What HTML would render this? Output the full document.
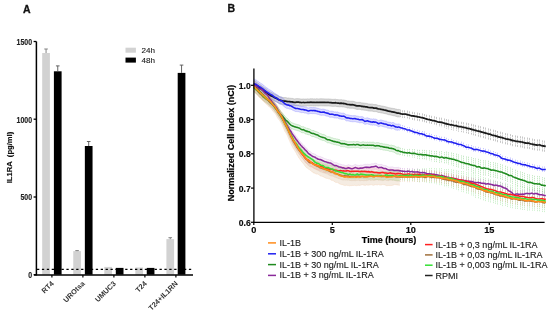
<!DOCTYPE html>
<html><head><meta charset="utf-8"><style>
html,body{margin:0;padding:0;background:#fff;}
svg{display:block;will-change:transform;}
text{font-family:"Liberation Sans",sans-serif;}
.tk{font-size:7.8px;font-weight:bold;fill:#222;stroke:#222;stroke-width:0.12px;}
.tkb{font-size:8.6px;font-weight:bold;fill:#0a0a0a;stroke:#0a0a0a;stroke-width:0.15px;}
.tkx{font-size:9.2px;font-weight:bold;fill:#0a0a0a;stroke:#0a0a0a;stroke-width:0.15px;}
.xl{font-size:7.3px;font-weight:bold;fill:#333;}
.lg{font-size:9px;fill:#1a1a1a;stroke:#1a1a1a;stroke-width:0.12px;}
.lga{font-size:8.1px;fill:#1a1a1a;stroke:#1a1a1a;stroke-width:0.12px;}
.ttl{font-size:10.5px;font-weight:bold;fill:#111;stroke:#111;stroke-width:0.3px;}
.ax{font-size:7.6px;font-weight:bold;fill:#111;stroke:#111;stroke-width:0.15px;}
.axb{font-size:9px;font-weight:bold;fill:#000;stroke:#000;stroke-width:0.2px;}
</style></head><body>
<svg width="550" height="314" viewBox="0 0 550 314">
<rect width="550" height="314" fill="#fff"/>
<text x="23" y="12.7" class="ttl">A</text>
<text x="227.5" y="12" class="ttl">B</text>
<rect x="42.20" y="53.0" width="7.7" height="221.7" fill="#d2d2d2"/><path d="M46.05,49.0V53.0M44.25,49.0H47.85" stroke="#777" stroke-width="0.9"/><rect x="53.90" y="71.3" width="7.7" height="203.4" fill="#000"/><path d="M57.75,65.9V71.3M55.95,65.9H59.55" stroke="#555" stroke-width="0.9"/><rect x="73.25" y="251.1" width="7.7" height="23.6" fill="#d2d2d2"/><path d="M77.10,250.6V251.1M75.30,250.6H78.90" stroke="#777" stroke-width="0.9"/><rect x="84.85" y="146.0" width="7.7" height="128.7" fill="#000"/><path d="M88.70,141.5V146.0M86.90,141.5H90.50" stroke="#555" stroke-width="0.9"/><rect x="104.30" y="266.9" width="7.7" height="7.8" fill="#d2d2d2"/><rect x="115.80" y="267.9" width="7.7" height="6.8" fill="#000"/><rect x="135.35" y="267.5" width="7.7" height="7.2" fill="#d2d2d2"/><rect x="146.75" y="267.9" width="7.7" height="6.8" fill="#000"/><rect x="166.40" y="239.1" width="7.7" height="35.6" fill="#d2d2d2"/><path d="M170.25,237.7V239.1M168.45,237.7H172.05" stroke="#777" stroke-width="0.9"/><rect x="177.70" y="72.9" width="7.7" height="201.8" fill="#000"/><path d="M181.55,65.1V72.9M179.75,65.1H183.35" stroke="#555" stroke-width="0.9"/>
<path d="M37,269.3H193" stroke="#000" stroke-width="1.3" stroke-dasharray="2.3,2.6"/>
<path d="M36.4,41.5V275.4" stroke="#000" stroke-width="1.5"/>
<path d="M34,275H193" stroke="#000" stroke-width="1.6"/>
<path d="M33.6,274.7H36.4" stroke="#000" stroke-width="1.3"/><text transform="translate(32.1,278.0) scale(0.9,1.05)" text-anchor="end" class="tk">0</text><path d="M33.6,197.0H36.4" stroke="#000" stroke-width="1.3"/><text transform="translate(32.1,200.3) scale(0.9,1.05)" text-anchor="end" class="tk">500</text><path d="M33.6,119.2H36.4" stroke="#000" stroke-width="1.3"/><text transform="translate(32.1,122.5) scale(0.9,1.05)" text-anchor="end" class="tk">1000</text><path d="M33.6,41.5H36.4" stroke="#000" stroke-width="1.3"/><text transform="translate(32.1,44.8) scale(0.9,1.05)" text-anchor="end" class="tk">1500</text><path d="M51.90,275V277.4" stroke="#000" stroke-width="1.2"/><path d="M82.90,275V277.4" stroke="#000" stroke-width="1.2"/><path d="M113.90,275V277.4" stroke="#000" stroke-width="1.2"/><path d="M144.90,275V277.4" stroke="#000" stroke-width="1.2"/><path d="M175.90,275V277.4" stroke="#000" stroke-width="1.2"/><text transform="translate(50.400000000000006,280.2) rotate(-45)" text-anchor="end" class="xl" x="0" y="5.5">RT4</text><text transform="translate(81.4,280.2) rotate(-45)" text-anchor="end" class="xl" x="0" y="5.5">UROtsa</text><text transform="translate(112.4,280.2) rotate(-45)" text-anchor="end" class="xl" x="0" y="5.5">UMUC3</text><text transform="translate(143.4,280.2) rotate(-45)" text-anchor="end" class="xl" x="0" y="5.5">T24</text><text transform="translate(174.39999999999998,280.2) rotate(-45)" text-anchor="end" class="xl" x="0" y="5.5">T24+IL1RN</text>
<text transform="translate(11.5,183.3) rotate(-90)" class="ax">IL1RA&#160;&#160;(pg/ml)</text>
<rect x="125.5" y="47.7" width="10.4" height="5" fill="#d2d2d2"/>
<rect x="125.5" y="57.6" width="10.4" height="5" fill="#000"/>
<text x="141.4" y="52.9" class="lga">24h</text>
<text x="141.4" y="62.7" class="lga">48h</text>
<path d="M253.8,80.1 L254.3,80.5 L254.8,80.9 L255.3,81.2 L255.8,81.5 L256.3,81.9 L256.8,82.2 L257.3,82.5 L257.8,83.0 L258.3,83.5 L258.8,83.8 L259.3,84.2 L259.8,84.6 L260.3,84.8 L260.8,85.2 L261.3,85.6 L261.8,85.9 L262.3,86.3 L262.8,86.7 L263.3,87.0 L263.8,87.3 L264.3,87.7 L264.8,88.0 L265.3,88.2 L265.8,88.7 L266.3,89.0 L266.8,89.4 L267.3,89.8 L267.8,90.3 L268.3,90.7 L268.8,91.0 L269.3,91.3 L269.8,91.5 L270.3,91.9 L270.8,92.2 L271.3,92.4 L271.8,92.6 L272.3,92.8 L272.8,93.1 L273.3,93.3 L273.8,93.7 L274.3,93.9 L274.8,94.2 L275.3,94.4 L275.8,94.6 L276.3,94.8 L276.8,95.1 L277.3,95.4 L277.8,95.6 L278.3,96.0 L278.8,96.2 L279.3,96.5 L279.8,96.7 L280.3,96.7 L280.8,96.9 L281.3,97.1 L281.8,97.2 L282.3,97.3 L282.8,97.5 L283.3,97.5 L283.8,97.5 L284.3,97.6 L284.8,97.6 L285.3,97.5 L285.8,97.7 L286.3,97.8 L286.8,97.8 L287.3,98.0 L287.8,98.1 L288.3,98.0 L288.8,98.0 L289.3,98.2 L289.8,98.2 L290.3,98.2 L290.8,98.4 L291.3,98.4 L291.8,98.4 L292.3,98.4 L292.8,98.6 L293.3,98.7 L293.8,98.8 L294.3,98.9 L294.8,99.0 L295.3,98.8 L295.8,98.8 L296.3,98.7 L296.8,98.6 L297.3,98.6 L297.8,98.7 L298.3,98.7 L298.8,98.7 L299.3,98.8 L299.8,98.8 L300.3,98.9 L300.8,99.0 L301.3,99.1 L301.8,99.0 L302.3,99.0 L302.8,99.0 L303.3,98.9 L303.8,99.0 L304.3,99.0 L304.8,99.1 L305.3,99.0 L305.8,99.0 L306.3,99.0 L306.8,99.0 L307.3,98.8 L307.8,98.9 L308.3,99.0 L308.8,98.9 L309.3,98.9 L309.8,98.9 L310.3,98.8 L310.8,98.7 L311.3,98.7 L311.8,98.9 L312.3,98.8 L312.8,98.8 L313.3,98.9 L313.8,98.9 L314.3,98.8 L314.8,99.0 L315.3,99.0 L315.8,98.9 L316.3,98.8 L316.8,98.8 L317.3,98.9 L317.8,98.8 L318.3,98.9 L318.8,99.0 L319.3,98.9 L319.8,98.8 L320.3,98.8 L320.8,98.8 L321.3,98.8 L321.8,98.8 L322.3,98.8 L322.8,98.9 L323.3,98.8 L323.8,98.9 L324.3,98.9 L324.8,98.9 L325.3,98.9 L325.8,99.0 L326.3,99.0 L326.8,98.9 L327.3,98.9 L327.8,99.0 L328.3,98.9 L328.8,99.0 L329.3,99.0 L329.8,99.1 L330.3,99.1 L330.8,99.2 L331.3,99.2 L331.8,99.3 L332.3,99.3 L332.8,99.4 L333.3,99.3 L333.8,99.4 L334.3,99.3 L334.8,99.3 L335.3,99.2 L335.8,99.3 L336.3,99.5 L336.8,99.5 L337.3,99.5 L337.8,99.7 L338.3,99.7 L338.8,99.7 L339.3,99.8 L339.8,99.8 L340.3,99.7 L340.8,99.8 L341.3,99.7 L341.8,99.8 L342.3,99.9 L342.8,100.0 L343.3,99.9 L343.8,100.1 L344.3,100.2 L344.8,100.1 L345.3,100.3 L345.8,100.5 L346.3,100.6 L346.8,100.7 L347.3,101.0 L347.8,101.0 L348.3,101.0 L348.8,101.0 L349.3,101.2 L349.8,101.2 L350.3,101.2 L350.8,101.3 L351.3,101.3 L351.8,101.2 L352.3,101.2 L352.8,101.3 L353.3,101.3 L353.8,101.5 L354.3,101.6 L354.8,101.8 L355.3,101.9 L355.8,102.1 L356.3,102.2 L356.8,102.4 L357.3,102.4 L357.8,102.4 L358.3,102.4 L358.8,102.3 L359.3,102.3 L359.8,102.4 L360.3,102.5 L360.8,102.5 L361.3,102.8 L361.8,102.9 L362.3,102.9 L362.8,102.9 L363.3,103.1 L363.8,103.0 L364.3,103.2 L364.8,103.2 L365.3,103.3 L365.8,103.3 L366.3,103.4 L366.8,103.4 L367.3,103.6 L367.8,103.8 L368.3,103.9 L368.8,104.0 L369.3,104.0 L369.8,104.1 L370.3,104.1 L370.8,104.1 L371.3,104.0 L371.8,104.2 L372.3,104.2 L372.8,104.2 L373.3,104.4 L373.8,104.6 L374.3,104.6 L374.8,104.6 L375.3,104.6 L375.8,104.6 L376.3,104.6 L376.8,104.9 L377.3,105.1 L377.8,105.2 L378.3,105.4 L378.8,105.5 L379.3,105.5 L379.8,105.5 L380.3,105.7 L380.8,105.8 L381.3,105.9 L381.8,106.0 L382.3,106.1 L382.8,106.1 L383.3,106.2 L383.8,106.4 L384.3,106.5 L384.8,106.6 L385.3,106.7 L385.8,106.8 L386.3,106.9 L386.8,107.1 L387.3,107.2 L387.8,107.5 L388.3,107.6 L388.8,107.7 L389.3,107.7 L389.8,107.9 L390.3,107.9 L390.8,108.0 L391.3,108.1 L391.8,108.3 L392.3,108.3 L392.8,108.4 L393.3,108.5 L393.8,108.5 L394.3,108.6 L394.8,108.7 L395.3,108.9 L395.8,109.0 L396.3,109.1 L396.8,109.3 L397.3,109.5 L397.8,109.4 L398.3,109.4 L398.8,109.5 L399.3,109.5 L399.8,109.6 L399.8,117.1 L399.3,117.0 L398.8,116.9 L398.3,116.8 L397.8,116.8 L397.3,116.8 L396.8,116.6 L396.3,116.4 L395.8,116.3 L395.3,116.1 L394.8,115.9 L394.3,115.8 L393.8,115.7 L393.3,115.7 L392.8,115.5 L392.3,115.4 L391.8,115.3 L391.3,115.2 L390.8,115.0 L390.3,115.0 L389.8,114.9 L389.3,114.7 L388.8,114.7 L388.3,114.6 L387.8,114.5 L387.3,114.2 L386.8,114.1 L386.3,113.9 L385.8,113.8 L385.3,113.7 L384.8,113.6 L384.3,113.5 L383.8,113.4 L383.3,113.2 L382.8,113.1 L382.3,113.1 L381.8,113.0 L381.3,112.9 L380.8,112.8 L380.3,112.7 L379.8,112.5 L379.3,112.5 L378.8,112.5 L378.3,112.4 L377.8,112.2 L377.3,112.1 L376.8,111.9 L376.3,111.6 L375.8,111.6 L375.3,111.6 L374.8,111.6 L374.3,111.6 L373.8,111.6 L373.3,111.4 L372.8,111.2 L372.3,111.2 L371.8,111.2 L371.3,111.0 L370.8,111.1 L370.3,111.1 L369.8,111.1 L369.3,111.0 L368.8,111.0 L368.3,110.9 L367.8,110.8 L367.3,110.6 L366.8,110.4 L366.3,110.4 L365.8,110.3 L365.3,110.3 L364.8,110.2 L364.3,110.2 L363.8,110.0 L363.3,110.1 L362.8,109.9 L362.3,109.9 L361.8,109.9 L361.3,109.8 L360.8,109.5 L360.3,109.5 L359.8,109.4 L359.3,109.3 L358.8,109.3 L358.3,109.4 L357.8,109.4 L357.3,109.4 L356.8,109.4 L356.3,109.2 L355.8,109.1 L355.3,108.9 L354.8,108.8 L354.3,108.6 L353.8,108.5 L353.3,108.3 L352.8,108.3 L352.3,108.2 L351.8,108.2 L351.3,108.3 L350.8,108.3 L350.3,108.2 L349.8,108.2 L349.3,108.2 L348.8,108.0 L348.3,108.0 L347.8,108.0 L347.3,108.0 L346.8,107.7 L346.3,107.6 L345.8,107.5 L345.3,107.3 L344.8,107.1 L344.3,107.2 L343.8,107.1 L343.3,106.9 L342.8,107.0 L342.3,106.9 L341.8,106.8 L341.3,106.7 L340.8,106.8 L340.3,106.7 L339.8,106.8 L339.3,106.8 L338.8,106.7 L338.3,106.7 L337.8,106.7 L337.3,106.5 L336.8,106.5 L336.3,106.5 L335.8,106.3 L335.3,106.2 L334.8,106.3 L334.3,106.3 L333.8,106.4 L333.3,106.3 L332.8,106.4 L332.3,106.3 L331.8,106.3 L331.3,106.2 L330.8,106.2 L330.3,106.1 L329.8,106.1 L329.3,106.0 L328.8,106.0 L328.3,105.9 L327.8,106.0 L327.3,105.9 L326.8,105.9 L326.3,106.0 L325.8,106.0 L325.3,105.9 L324.8,105.9 L324.3,105.9 L323.8,105.9 L323.3,105.8 L322.8,105.9 L322.3,105.8 L321.8,105.8 L321.3,105.8 L320.8,105.8 L320.3,105.8 L319.8,105.8 L319.3,105.9 L318.8,106.0 L318.3,105.9 L317.8,105.8 L317.3,105.9 L316.8,105.8 L316.3,105.8 L315.8,105.9 L315.3,106.0 L314.8,106.0 L314.3,105.8 L313.8,105.9 L313.3,105.9 L312.8,105.8 L312.3,105.8 L311.8,105.9 L311.3,105.7 L310.8,105.7 L310.3,105.8 L309.8,105.9 L309.3,105.9 L308.8,105.9 L308.3,106.0 L307.8,105.9 L307.3,105.8 L306.8,106.0 L306.3,106.0 L305.8,106.0 L305.3,106.0 L304.8,106.1 L304.3,106.0 L303.8,106.0 L303.3,105.9 L302.8,106.0 L302.3,106.0 L301.8,106.0 L301.3,106.1 L300.8,106.0 L300.3,105.9 L299.8,105.8 L299.3,105.8 L298.8,105.7 L298.3,105.7 L297.8,105.7 L297.3,105.6 L296.8,105.6 L296.3,105.7 L295.8,105.8 L295.3,105.8 L294.8,106.0 L294.3,105.9 L293.8,105.8 L293.3,105.7 L292.8,105.6 L292.3,105.4 L291.8,105.4 L291.3,105.4 L290.8,105.4 L290.3,105.2 L289.8,105.2 L289.3,105.2 L288.8,105.0 L288.3,105.0 L287.8,105.1 L287.3,105.0 L286.8,104.8 L286.3,104.8 L285.8,104.7 L285.3,104.5 L284.8,104.6 L284.3,104.6 L283.8,104.5 L283.3,104.5 L282.8,104.5 L282.3,104.3 L281.8,104.2 L281.3,104.1 L280.8,103.9 L280.3,103.7 L279.8,103.7 L279.3,103.5 L278.8,103.2 L278.3,103.0 L277.8,102.6 L277.3,102.4 L276.8,102.1 L276.3,101.8 L275.8,101.6 L275.3,101.4 L274.8,101.2 L274.3,100.9 L273.8,100.7 L273.3,100.3 L272.8,100.1 L272.3,99.8 L271.8,99.6 L271.3,99.4 L270.8,99.2 L270.3,98.9 L269.8,98.5 L269.3,98.3 L268.8,98.0 L268.3,97.7 L267.8,97.3 L267.3,96.8 L266.8,96.4 L266.3,96.0 L265.8,95.7 L265.3,95.2 L264.8,95.0 L264.3,94.7 L263.8,94.3 L263.3,94.0 L262.8,93.7 L262.3,93.3 L261.8,92.9 L261.3,92.6 L260.8,92.2 L260.3,91.8 L259.8,91.6 L259.3,91.2 L258.8,90.8 L258.3,90.5 L257.8,90.0 L257.3,89.5 L256.8,89.2 L256.3,88.9 L255.8,88.5 L255.3,88.2 L254.8,87.9 L254.3,87.5 L253.8,87.1Z" fill="rgba(150,150,150,0.35)" stroke="none"/><path d="M253.8,80.1 L254.3,80.5 L254.8,80.9 L255.3,81.2 L255.8,81.5 L256.3,81.9 L256.8,82.2 L257.3,82.5 L257.8,83.0 L258.3,83.5 L258.8,83.8 L259.3,84.2 L259.8,84.6 L260.3,84.8 L260.8,85.2 L261.3,85.6 L261.8,85.9 L262.3,86.3 L262.8,86.7 L263.3,87.0 L263.8,87.3 L264.3,87.7 L264.8,88.0 L265.3,88.2 L265.8,88.7 L266.3,89.0 L266.8,89.4 L267.3,89.8 L267.8,90.3 L268.3,90.7 L268.8,91.0 L269.3,91.3 L269.8,91.5 L270.3,91.9 L270.8,92.2 L271.3,92.4 L271.8,92.6 L272.3,92.8 L272.8,93.1 L273.3,93.3 L273.8,93.7 L274.3,93.9 L274.8,94.2 L275.3,94.4 L275.8,94.6 L276.3,94.8 L276.8,95.1 L277.3,95.4 L277.8,95.6 L278.3,96.0 L278.8,96.2 L279.3,96.5 L279.8,96.7 L280.3,96.7 L280.8,96.9 L281.3,97.1 L281.8,97.2 L282.3,97.3 L282.8,97.5 L283.3,97.5 L283.8,97.5 L284.3,97.6 L284.8,97.6 L285.3,97.5 L285.8,97.7 L286.3,97.8 L286.8,97.8 L287.3,98.0 L287.8,98.1 L288.3,98.0 L288.8,98.0 L289.3,98.2 L289.8,98.2 L290.3,98.2 L290.8,98.4 L291.3,98.4 L291.8,98.4 L292.3,98.4 L292.8,98.6 L293.3,98.7 L293.8,98.8 L294.3,98.9 L294.8,99.0 L295.3,98.8 L295.8,98.8 L296.3,98.7 L296.8,98.6 L297.3,98.6 L297.8,98.7 L298.3,98.7 L298.8,98.7 L299.3,98.8 L299.8,98.8 L300.3,98.9 L300.8,99.0 L301.3,99.1 L301.8,99.0 L302.3,99.0 L302.8,99.0 L303.3,98.9 L303.8,99.0 L304.3,99.0 L304.8,99.1 L305.3,99.0 L305.8,99.0 L306.3,99.0 L306.8,99.0 L307.3,98.8 L307.8,98.9 L308.3,99.0 L308.8,98.9 L309.3,98.9 L309.8,98.9 L310.3,98.8 L310.8,98.7 L311.3,98.7 L311.8,98.9 L312.3,98.8 L312.8,98.8 L313.3,98.9 L313.8,98.9 L314.3,98.8 L314.8,99.0 L315.3,99.0 L315.8,98.9 L316.3,98.8 L316.8,98.8 L317.3,98.9 L317.8,98.8 L318.3,98.9 L318.8,99.0 L319.3,98.9 L319.8,98.8 L320.3,98.8 L320.8,98.8 L321.3,98.8 L321.8,98.8 L322.3,98.8 L322.8,98.9 L323.3,98.8 L323.8,98.9 L324.3,98.9 L324.8,98.9 L325.3,98.9 L325.8,99.0 L326.3,99.0 L326.8,98.9 L327.3,98.9 L327.8,99.0 L328.3,98.9 L328.8,99.0 L329.3,99.0 L329.8,99.1 L330.3,99.1 L330.8,99.2 L331.3,99.2 L331.8,99.3 L332.3,99.3 L332.8,99.4 L333.3,99.3 L333.8,99.4 L334.3,99.3 L334.8,99.3 L335.3,99.2 L335.8,99.3 L336.3,99.5 L336.8,99.5 L337.3,99.5 L337.8,99.7 L338.3,99.7 L338.8,99.7 L339.3,99.8 L339.8,99.8 L340.3,99.7 L340.8,99.8 L341.3,99.7 L341.8,99.8 L342.3,99.9 L342.8,100.0 L343.3,99.9 L343.8,100.1 L344.3,100.2 L344.8,100.1 L345.3,100.3 L345.8,100.5 L346.3,100.6 L346.8,100.7 L347.3,101.0 L347.8,101.0 L348.3,101.0 L348.8,101.0 L349.3,101.2 L349.8,101.2 L350.3,101.2 L350.8,101.3 L351.3,101.3 L351.8,101.2 L352.3,101.2 L352.8,101.3 L353.3,101.3 L353.8,101.5 L354.3,101.6 L354.8,101.8 L355.3,101.9 L355.8,102.1 L356.3,102.2 L356.8,102.4 L357.3,102.4 L357.8,102.4 L358.3,102.4 L358.8,102.3 L359.3,102.3 L359.8,102.4 L360.3,102.5 L360.8,102.5 L361.3,102.8 L361.8,102.9 L362.3,102.9 L362.8,102.9 L363.3,103.1 L363.8,103.0 L364.3,103.2 L364.8,103.2 L365.3,103.3 L365.8,103.3 L366.3,103.4 L366.8,103.4 L367.3,103.6 L367.8,103.8 L368.3,103.9 L368.8,104.0 L369.3,104.0 L369.8,104.1 L370.3,104.1 L370.8,104.1 L371.3,104.0 L371.8,104.2 L372.3,104.2 L372.8,104.2 L373.3,104.4 L373.8,104.6 L374.3,104.6 L374.8,104.6 L375.3,104.6 L375.8,104.6 L376.3,104.6 L376.8,104.9 L377.3,105.1 L377.8,105.2 L378.3,105.4 L378.8,105.5 L379.3,105.5 L379.8,105.5 L380.3,105.7 L380.8,105.8 L381.3,105.9 L381.8,106.0 L382.3,106.1 L382.8,106.1 L383.3,106.2 L383.8,106.4 L384.3,106.5 L384.8,106.6 L385.3,106.7 L385.8,106.8 L386.3,106.9 L386.8,107.1 L387.3,107.2 L387.8,107.5 L388.3,107.6 L388.8,107.7 L389.3,107.7 L389.8,107.9 L390.3,107.9 L390.8,108.0 L391.3,108.1 L391.8,108.3 L392.3,108.3 L392.8,108.4 L393.3,108.5 L393.8,108.5 L394.3,108.6 L394.8,108.7 L395.3,108.9 L395.8,109.0 L396.3,109.1 L396.8,109.3 L397.3,109.5 L397.8,109.4 L398.3,109.4 L398.8,109.5 L399.3,109.5 L399.8,109.6M253.8,87.1 L254.3,87.5 L254.8,87.9 L255.3,88.2 L255.8,88.5 L256.3,88.9 L256.8,89.2 L257.3,89.5 L257.8,90.0 L258.3,90.5 L258.8,90.8 L259.3,91.2 L259.8,91.6 L260.3,91.8 L260.8,92.2 L261.3,92.6 L261.8,92.9 L262.3,93.3 L262.8,93.7 L263.3,94.0 L263.8,94.3 L264.3,94.7 L264.8,95.0 L265.3,95.2 L265.8,95.7 L266.3,96.0 L266.8,96.4 L267.3,96.8 L267.8,97.3 L268.3,97.7 L268.8,98.0 L269.3,98.3 L269.8,98.5 L270.3,98.9 L270.8,99.2 L271.3,99.4 L271.8,99.6 L272.3,99.8 L272.8,100.1 L273.3,100.3 L273.8,100.7 L274.3,100.9 L274.8,101.2 L275.3,101.4 L275.8,101.6 L276.3,101.8 L276.8,102.1 L277.3,102.4 L277.8,102.6 L278.3,103.0 L278.8,103.2 L279.3,103.5 L279.8,103.7 L280.3,103.7 L280.8,103.9 L281.3,104.1 L281.8,104.2 L282.3,104.3 L282.8,104.5 L283.3,104.5 L283.8,104.5 L284.3,104.6 L284.8,104.6 L285.3,104.5 L285.8,104.7 L286.3,104.8 L286.8,104.8 L287.3,105.0 L287.8,105.1 L288.3,105.0 L288.8,105.0 L289.3,105.2 L289.8,105.2 L290.3,105.2 L290.8,105.4 L291.3,105.4 L291.8,105.4 L292.3,105.4 L292.8,105.6 L293.3,105.7 L293.8,105.8 L294.3,105.9 L294.8,106.0 L295.3,105.8 L295.8,105.8 L296.3,105.7 L296.8,105.6 L297.3,105.6 L297.8,105.7 L298.3,105.7 L298.8,105.7 L299.3,105.8 L299.8,105.8 L300.3,105.9 L300.8,106.0 L301.3,106.1 L301.8,106.0 L302.3,106.0 L302.8,106.0 L303.3,105.9 L303.8,106.0 L304.3,106.0 L304.8,106.1 L305.3,106.0 L305.8,106.0 L306.3,106.0 L306.8,106.0 L307.3,105.8 L307.8,105.9 L308.3,106.0 L308.8,105.9 L309.3,105.9 L309.8,105.9 L310.3,105.8 L310.8,105.7 L311.3,105.7 L311.8,105.9 L312.3,105.8 L312.8,105.8 L313.3,105.9 L313.8,105.9 L314.3,105.8 L314.8,106.0 L315.3,106.0 L315.8,105.9 L316.3,105.8 L316.8,105.8 L317.3,105.9 L317.8,105.8 L318.3,105.9 L318.8,106.0 L319.3,105.9 L319.8,105.8 L320.3,105.8 L320.8,105.8 L321.3,105.8 L321.8,105.8 L322.3,105.8 L322.8,105.9 L323.3,105.8 L323.8,105.9 L324.3,105.9 L324.8,105.9 L325.3,105.9 L325.8,106.0 L326.3,106.0 L326.8,105.9 L327.3,105.9 L327.8,106.0 L328.3,105.9 L328.8,106.0 L329.3,106.0 L329.8,106.1 L330.3,106.1 L330.8,106.2 L331.3,106.2 L331.8,106.3 L332.3,106.3 L332.8,106.4 L333.3,106.3 L333.8,106.4 L334.3,106.3 L334.8,106.3 L335.3,106.2 L335.8,106.3 L336.3,106.5 L336.8,106.5 L337.3,106.5 L337.8,106.7 L338.3,106.7 L338.8,106.7 L339.3,106.8 L339.8,106.8 L340.3,106.7 L340.8,106.8 L341.3,106.7 L341.8,106.8 L342.3,106.9 L342.8,107.0 L343.3,106.9 L343.8,107.1 L344.3,107.2 L344.8,107.1 L345.3,107.3 L345.8,107.5 L346.3,107.6 L346.8,107.7 L347.3,108.0 L347.8,108.0 L348.3,108.0 L348.8,108.0 L349.3,108.2 L349.8,108.2 L350.3,108.2 L350.8,108.3 L351.3,108.3 L351.8,108.2 L352.3,108.2 L352.8,108.3 L353.3,108.3 L353.8,108.5 L354.3,108.6 L354.8,108.8 L355.3,108.9 L355.8,109.1 L356.3,109.2 L356.8,109.4 L357.3,109.4 L357.8,109.4 L358.3,109.4 L358.8,109.3 L359.3,109.3 L359.8,109.4 L360.3,109.5 L360.8,109.5 L361.3,109.8 L361.8,109.9 L362.3,109.9 L362.8,109.9 L363.3,110.1 L363.8,110.0 L364.3,110.2 L364.8,110.2 L365.3,110.3 L365.8,110.3 L366.3,110.4 L366.8,110.4 L367.3,110.6 L367.8,110.8 L368.3,110.9 L368.8,111.0 L369.3,111.0 L369.8,111.1 L370.3,111.1 L370.8,111.1 L371.3,111.0 L371.8,111.2 L372.3,111.2 L372.8,111.2 L373.3,111.4 L373.8,111.6 L374.3,111.6 L374.8,111.6 L375.3,111.6 L375.8,111.6 L376.3,111.6 L376.8,111.9 L377.3,112.1 L377.8,112.2 L378.3,112.4 L378.8,112.5 L379.3,112.5 L379.8,112.5 L380.3,112.7 L380.8,112.8 L381.3,112.9 L381.8,113.0 L382.3,113.1 L382.8,113.1 L383.3,113.2 L383.8,113.4 L384.3,113.5 L384.8,113.6 L385.3,113.7 L385.8,113.8 L386.3,113.9 L386.8,114.1 L387.3,114.2 L387.8,114.5 L388.3,114.6 L388.8,114.7 L389.3,114.7 L389.8,114.9 L390.3,115.0 L390.8,115.0 L391.3,115.2 L391.8,115.3 L392.3,115.4 L392.8,115.5 L393.3,115.7 L393.8,115.7 L394.3,115.8 L394.8,115.9 L395.3,116.1 L395.8,116.3 L396.3,116.4 L396.8,116.6 L397.3,116.8 L397.8,116.8 L398.3,116.8 L398.8,116.9 L399.3,117.0 L399.8,117.1" fill="none" stroke="rgba(140,140,140,0.6)" stroke-width="0.6"/><path d="M400.5,109.6V117.1M402.5,110.3V117.9M404.5,110.3V118.0M407.5,110.6V118.4M409.5,111.3V119.2M412.5,111.8V119.9M414.5,112.2V120.4M417.5,112.6V120.9M419.5,113.0V121.4M422.5,113.4V121.9M424.5,114.0V122.6M426.5,114.7V123.4M429.5,115.2V124.1M431.5,115.8V124.8M434.5,116.3V125.3M436.5,116.9V126.1M439.5,117.5V126.8M441.5,117.7V127.1M444.5,118.5V128.0M446.5,119.0V128.7M448.5,119.5V129.3M451.5,119.9V129.8M453.5,120.5V130.5M456.5,120.7V130.7M458.5,121.5V131.7M461.5,121.8V132.1M463.5,122.2V132.6M466.5,122.7V133.2M468.5,123.2V133.9M471.5,123.8V134.6M473.5,124.4V135.3M475.5,124.9V135.9M478.5,125.6V136.7M480.5,126.2V137.4M483.5,126.9V138.1M485.5,127.5V138.7M488.5,128.4V139.6M490.5,128.9V140.1M493.5,129.7V140.9M495.5,130.2V141.4M497.5,131.0V142.2M500.5,131.7V142.9M502.5,132.3V143.5M505.5,133.1V144.3M507.5,133.5V144.7M510.5,134.1V145.3M512.5,135.0V146.2M515.5,135.4V146.6M517.5,135.8V147.0M520.5,136.2V147.4M522.5,136.5V147.7M524.5,137.3V148.5M527.5,137.5V148.7M529.5,137.9V149.1M532.5,138.6V149.8M534.5,139.1V150.3M537.5,139.5V150.7M539.5,139.4V150.6M542.5,140.3V151.5M544.5,140.6V151.8" stroke="rgba(110,110,110,0.5)" stroke-width="0.75" fill="none" stroke-dasharray="2.2,0.8"/><path d="M253.8,78.8 L254.3,79.1 L254.8,79.4 L255.3,79.7 L255.8,79.9 L256.3,80.1 L256.8,80.4 L257.3,80.9 L257.8,81.1 L258.3,81.6 L258.8,82.0 L259.3,82.4 L259.8,82.5 L260.3,83.0 L260.8,83.3 L261.3,83.6 L261.8,83.9 L262.3,84.2 L262.8,84.6 L263.3,85.0 L263.8,85.3 L264.3,85.8 L264.8,86.3 L265.3,86.7 L265.8,87.1 L266.3,87.6 L266.8,87.9 L267.3,88.1 L267.8,88.5 L268.3,89.0 L268.8,89.2 L269.3,89.5 L269.8,89.9 L270.3,90.1 L270.8,90.5 L271.3,90.8 L271.8,90.9 L272.3,91.5 L272.8,91.7 L273.3,92.1 L273.8,92.6 L274.3,93.2 L274.8,93.4 L275.3,93.7 L275.8,93.8 L276.3,94.3 L276.8,94.5 L277.3,94.8 L277.8,95.1 L278.3,95.6 L278.8,96.0 L279.3,96.4 L279.8,96.6 L280.3,96.9 L280.8,97.1 L281.3,97.1 L281.8,97.3 L282.3,97.6 L282.8,98.2 L283.3,98.8 L283.8,99.1 L284.3,99.8 L284.8,100.2 L285.3,100.6 L285.8,100.8 L286.3,101.4 L286.8,101.3 L287.3,101.4 L287.8,101.6 L288.3,101.9 L288.8,101.7 L289.3,102.1 L289.8,102.5 L290.3,102.5 L290.8,102.5 L291.3,102.8 L291.8,103.2 L292.3,103.5 L292.8,103.7 L293.3,104.0 L293.8,104.4 L294.3,104.7 L294.8,104.7 L295.3,105.2 L295.8,105.3 L296.3,105.3 L296.8,105.3 L297.3,105.5 L297.8,105.5 L298.3,105.6 L298.8,105.7 L299.3,106.0 L299.8,106.1 L300.3,106.2 L300.8,106.4 L301.3,106.6 L301.8,106.5 L302.3,106.6 L302.8,106.4 L303.3,106.5 L303.8,106.7 L304.3,107.0 L304.8,106.8 L305.3,106.9 L305.8,107.1 L306.3,107.2 L306.8,107.3 L307.3,107.7 L307.8,107.8 L308.3,107.9 L308.8,108.0 L309.3,107.8 L309.8,107.6 L310.3,107.5 L310.8,107.4 L311.3,107.5 L311.8,107.5 L312.3,107.6 L312.8,107.7 L313.3,107.6 L313.8,107.6 L314.3,107.7 L314.8,107.5 L315.3,107.6 L315.8,107.9 L316.3,108.0 L316.8,107.9 L317.3,108.1 L317.8,108.5 L318.3,108.4 L318.8,108.5 L319.3,108.7 L319.8,109.0 L320.3,108.9 L320.8,109.3 L321.3,109.3 L321.8,109.3 L322.3,109.2 L322.8,109.1 L323.3,109.2 L323.8,109.1 L324.3,109.1 L324.8,109.6 L325.3,109.7 L325.8,109.8 L326.3,109.9 L326.8,110.2 L327.3,110.0 L327.8,110.4 L328.3,110.3 L328.8,110.7 L329.3,110.9 L329.8,111.3 L330.3,111.2 L330.8,111.3 L331.3,111.3 L331.8,111.1 L332.3,111.2 L332.8,111.4 L333.3,111.6 L333.8,111.6 L334.3,111.9 L334.8,111.9 L335.3,112.0 L335.8,111.8 L336.3,112.0 L336.8,112.1 L337.3,112.0 L337.8,112.0 L338.3,112.4 L338.8,112.5 L339.3,112.7 L339.8,113.0 L340.3,113.0 L340.8,112.9 L341.3,113.2 L341.8,113.2 L342.3,113.2 L342.8,113.3 L343.3,113.3 L343.8,113.1 L344.3,113.4 L344.8,113.7 L345.3,114.1 L345.8,114.5 L346.3,114.8 L346.8,114.9 L347.3,114.9 L347.8,114.8 L348.3,114.9 L348.8,115.1 L349.3,115.2 L349.8,115.3 L350.3,115.5 L350.8,115.4 L351.3,115.6 L351.8,115.6 L352.3,115.7 L352.8,115.8 L353.3,115.8 L353.8,115.6 L354.3,115.6 L354.8,115.7 L355.3,115.6 L355.8,115.9 L356.3,116.0 L356.8,116.1 L357.3,116.2 L357.8,116.2 L358.3,116.2 L358.8,116.6 L359.3,116.7 L359.8,116.8 L360.3,116.7 L360.8,116.8 L361.3,116.7 L361.8,116.6 L362.3,116.6 L362.8,117.0 L363.3,117.2 L363.8,117.5 L364.3,118.0 L364.8,118.4 L365.3,118.3 L365.8,118.2 L366.3,118.0 L366.8,117.9 L367.3,117.8 L367.8,118.0 L368.3,118.1 L368.8,118.5 L369.3,118.5 L369.8,118.5 L370.3,118.8 L370.8,119.0 L371.3,118.9 L371.8,119.0 L372.3,119.2 L372.8,119.0 L373.3,118.8 L373.8,119.0 L374.3,119.2 L374.8,119.0 L375.3,119.1 L375.8,119.2 L376.3,119.4 L376.8,119.5 L377.3,119.9 L377.8,120.3 L378.3,120.7 L378.8,120.5 L379.3,120.5 L379.8,120.2 L380.3,120.1 L380.8,119.9 L381.3,120.0 L381.8,120.3 L382.3,120.4 L382.8,120.4 L383.3,120.5 L383.8,120.9 L384.3,120.9 L384.8,121.1 L385.3,121.1 L385.8,121.2 L386.3,121.2 L386.8,121.4 L387.3,121.8 L387.8,122.2 L388.3,122.2 L388.8,122.1 L389.3,122.2 L389.8,122.3 L390.3,122.3 L390.8,122.6 L391.3,122.9 L391.8,122.8 L392.3,122.6 L392.8,122.5 L393.3,122.6 L393.8,122.8 L394.3,123.2 L394.8,123.4 L395.3,123.8 L395.8,124.0 L396.3,124.1 L396.8,124.1 L397.3,124.2 L397.8,124.2 L398.3,124.1 L398.8,123.9 L399.3,124.1 L399.8,124.5 L399.8,130.5 L399.3,130.1 L398.8,129.9 L398.3,130.1 L397.8,130.2 L397.3,130.2 L396.8,130.1 L396.3,130.1 L395.8,130.0 L395.3,129.8 L394.8,129.4 L394.3,129.2 L393.8,128.8 L393.3,128.6 L392.8,128.5 L392.3,128.6 L391.8,128.8 L391.3,128.9 L390.8,128.6 L390.3,128.3 L389.8,128.3 L389.3,128.2 L388.8,128.1 L388.3,128.2 L387.8,128.2 L387.3,127.8 L386.8,127.4 L386.3,127.2 L385.8,127.2 L385.3,127.1 L384.8,127.1 L384.3,126.9 L383.8,126.9 L383.3,126.5 L382.8,126.4 L382.3,126.4 L381.8,126.3 L381.3,126.0 L380.8,125.9 L380.3,126.1 L379.8,126.2 L379.3,126.5 L378.8,126.5 L378.3,126.7 L377.8,126.3 L377.3,125.9 L376.8,125.5 L376.3,125.4 L375.8,125.2 L375.3,125.1 L374.8,125.0 L374.3,125.2 L373.8,125.0 L373.3,124.8 L372.8,125.0 L372.3,125.2 L371.8,125.0 L371.3,124.9 L370.8,125.0 L370.3,124.8 L369.8,124.5 L369.3,124.5 L368.8,124.5 L368.3,124.1 L367.8,124.0 L367.3,123.8 L366.8,123.9 L366.3,124.0 L365.8,124.2 L365.3,124.3 L364.8,124.4 L364.3,124.0 L363.8,123.5 L363.3,123.2 L362.8,123.0 L362.3,122.6 L361.8,122.6 L361.3,122.7 L360.8,122.8 L360.3,122.7 L359.8,122.8 L359.3,122.7 L358.8,122.6 L358.3,122.2 L357.8,122.2 L357.3,122.2 L356.8,122.1 L356.3,122.0 L355.8,121.9 L355.3,121.6 L354.8,121.7 L354.3,121.6 L353.8,121.6 L353.3,121.8 L352.8,121.8 L352.3,121.7 L351.8,121.6 L351.3,121.6 L350.8,121.4 L350.3,121.5 L349.8,121.3 L349.3,121.2 L348.8,121.1 L348.3,120.9 L347.8,120.8 L347.3,120.9 L346.8,120.9 L346.3,120.8 L345.8,120.5 L345.3,120.1 L344.8,119.7 L344.3,119.4 L343.8,119.1 L343.3,119.3 L342.8,119.3 L342.3,119.2 L341.8,119.2 L341.3,119.2 L340.8,118.9 L340.3,119.0 L339.8,119.0 L339.3,118.7 L338.8,118.5 L338.3,118.4 L337.8,118.0 L337.3,118.0 L336.8,118.1 L336.3,118.0 L335.8,117.8 L335.3,118.0 L334.8,117.9 L334.3,117.9 L333.8,117.6 L333.3,117.6 L332.8,117.4 L332.3,117.2 L331.8,117.1 L331.3,117.3 L330.8,117.3 L330.3,117.2 L329.8,117.3 L329.3,116.9 L328.8,116.7 L328.3,116.3 L327.8,116.4 L327.3,116.0 L326.8,116.2 L326.3,115.9 L325.8,115.8 L325.3,115.7 L324.8,115.6 L324.3,115.1 L323.8,115.1 L323.3,115.2 L322.8,115.1 L322.3,115.2 L321.8,115.3 L321.3,115.3 L320.8,115.3 L320.3,114.9 L319.8,115.0 L319.3,114.7 L318.8,114.5 L318.3,114.4 L317.8,114.5 L317.3,114.1 L316.8,113.9 L316.3,114.0 L315.8,113.9 L315.3,113.6 L314.8,113.5 L314.3,113.7 L313.8,113.6 L313.3,113.6 L312.8,113.7 L312.3,113.6 L311.8,113.5 L311.3,113.5 L310.8,113.4 L310.3,113.5 L309.8,113.6 L309.3,113.8 L308.8,114.0 L308.3,113.9 L307.8,113.8 L307.3,113.7 L306.8,113.3 L306.3,113.2 L305.8,113.1 L305.3,112.9 L304.8,112.8 L304.3,113.0 L303.8,112.7 L303.3,112.5 L302.8,112.4 L302.3,112.6 L301.8,112.5 L301.3,112.6 L300.8,112.4 L300.3,112.2 L299.8,112.1 L299.3,112.0 L298.8,111.7 L298.3,111.7 L297.8,111.6 L297.3,111.7 L296.8,111.5 L296.3,111.6 L295.8,111.5 L295.3,111.5 L294.8,111.1 L294.3,111.0 L293.8,110.8 L293.3,110.5 L292.8,110.2 L292.3,110.0 L291.8,109.7 L291.3,109.4 L290.8,109.1 L290.3,109.2 L289.8,109.2 L289.3,108.8 L288.8,108.5 L288.3,108.6 L287.8,108.4 L287.3,108.3 L286.8,108.1 L286.3,108.3 L285.8,107.8 L285.3,107.5 L284.8,107.2 L284.3,106.8 L283.8,106.2 L283.3,105.9 L282.8,105.3 L282.3,104.8 L281.8,104.5 L281.3,104.3 L280.8,104.3 L280.3,104.2 L279.8,103.9 L279.3,103.7 L278.8,103.4 L278.3,103.0 L277.8,102.5 L277.3,102.3 L276.8,102.0 L276.3,101.8 L275.8,101.4 L275.3,101.3 L274.8,101.0 L274.3,100.9 L273.8,100.3 L273.3,99.9 L272.8,99.4 L272.3,99.3 L271.8,98.8 L271.3,98.7 L270.8,98.4 L270.3,98.0 L269.8,97.9 L269.3,97.5 L268.8,97.2 L268.3,97.0 L267.8,96.6 L267.3,96.2 L266.8,96.1 L266.3,95.8 L265.8,95.3 L265.3,95.0 L264.8,94.6 L264.3,94.1 L263.8,93.7 L263.3,93.4 L262.8,93.1 L262.3,92.7 L261.8,92.4 L261.3,92.1 L260.8,91.8 L260.3,91.6 L259.8,91.1 L259.3,91.0 L258.8,90.7 L258.3,90.3 L257.8,89.9 L257.3,89.7 L256.8,89.2 L256.3,89.0 L255.8,88.8 L255.3,88.6 L254.8,88.4 L254.3,88.0 L253.8,87.8Z" fill="rgba(110,110,255,0.22)" stroke="none"/><path d="M253.8,78.8 L254.3,79.1 L254.8,79.4 L255.3,79.7 L255.8,79.9 L256.3,80.1 L256.8,80.4 L257.3,80.9 L257.8,81.1 L258.3,81.6 L258.8,82.0 L259.3,82.4 L259.8,82.5 L260.3,83.0 L260.8,83.3 L261.3,83.6 L261.8,83.9 L262.3,84.2 L262.8,84.6 L263.3,85.0 L263.8,85.3 L264.3,85.8 L264.8,86.3 L265.3,86.7 L265.8,87.1 L266.3,87.6 L266.8,87.9 L267.3,88.1 L267.8,88.5 L268.3,89.0 L268.8,89.2 L269.3,89.5 L269.8,89.9 L270.3,90.1 L270.8,90.5 L271.3,90.8 L271.8,90.9 L272.3,91.5 L272.8,91.7 L273.3,92.1 L273.8,92.6 L274.3,93.2 L274.8,93.4 L275.3,93.7 L275.8,93.8 L276.3,94.3 L276.8,94.5 L277.3,94.8 L277.8,95.1 L278.3,95.6 L278.8,96.0 L279.3,96.4 L279.8,96.6 L280.3,96.9 L280.8,97.1 L281.3,97.1 L281.8,97.3 L282.3,97.6 L282.8,98.2 L283.3,98.8 L283.8,99.1 L284.3,99.8 L284.8,100.2 L285.3,100.6 L285.8,100.8 L286.3,101.4 L286.8,101.3 L287.3,101.4 L287.8,101.6 L288.3,101.9 L288.8,101.7 L289.3,102.1 L289.8,102.5 L290.3,102.5 L290.8,102.5 L291.3,102.8 L291.8,103.2 L292.3,103.5 L292.8,103.7 L293.3,104.0 L293.8,104.4 L294.3,104.7 L294.8,104.7 L295.3,105.2 L295.8,105.3 L296.3,105.3 L296.8,105.3 L297.3,105.5 L297.8,105.5 L298.3,105.6 L298.8,105.7 L299.3,106.0 L299.8,106.1 L300.3,106.2 L300.8,106.4 L301.3,106.6 L301.8,106.5 L302.3,106.6 L302.8,106.4 L303.3,106.5 L303.8,106.7 L304.3,107.0 L304.8,106.8 L305.3,106.9 L305.8,107.1 L306.3,107.2 L306.8,107.3 L307.3,107.7 L307.8,107.8 L308.3,107.9 L308.8,108.0 L309.3,107.8 L309.8,107.6 L310.3,107.5 L310.8,107.4 L311.3,107.5 L311.8,107.5 L312.3,107.6 L312.8,107.7 L313.3,107.6 L313.8,107.6 L314.3,107.7 L314.8,107.5 L315.3,107.6 L315.8,107.9 L316.3,108.0 L316.8,107.9 L317.3,108.1 L317.8,108.5 L318.3,108.4 L318.8,108.5 L319.3,108.7 L319.8,109.0 L320.3,108.9 L320.8,109.3 L321.3,109.3 L321.8,109.3 L322.3,109.2 L322.8,109.1 L323.3,109.2 L323.8,109.1 L324.3,109.1 L324.8,109.6 L325.3,109.7 L325.8,109.8 L326.3,109.9 L326.8,110.2 L327.3,110.0 L327.8,110.4 L328.3,110.3 L328.8,110.7 L329.3,110.9 L329.8,111.3 L330.3,111.2 L330.8,111.3 L331.3,111.3 L331.8,111.1 L332.3,111.2 L332.8,111.4 L333.3,111.6 L333.8,111.6 L334.3,111.9 L334.8,111.9 L335.3,112.0 L335.8,111.8 L336.3,112.0 L336.8,112.1 L337.3,112.0 L337.8,112.0 L338.3,112.4 L338.8,112.5 L339.3,112.7 L339.8,113.0 L340.3,113.0 L340.8,112.9 L341.3,113.2 L341.8,113.2 L342.3,113.2 L342.8,113.3 L343.3,113.3 L343.8,113.1 L344.3,113.4 L344.8,113.7 L345.3,114.1 L345.8,114.5 L346.3,114.8 L346.8,114.9 L347.3,114.9 L347.8,114.8 L348.3,114.9 L348.8,115.1 L349.3,115.2 L349.8,115.3 L350.3,115.5 L350.8,115.4 L351.3,115.6 L351.8,115.6 L352.3,115.7 L352.8,115.8 L353.3,115.8 L353.8,115.6 L354.3,115.6 L354.8,115.7 L355.3,115.6 L355.8,115.9 L356.3,116.0 L356.8,116.1 L357.3,116.2 L357.8,116.2 L358.3,116.2 L358.8,116.6 L359.3,116.7 L359.8,116.8 L360.3,116.7 L360.8,116.8 L361.3,116.7 L361.8,116.6 L362.3,116.6 L362.8,117.0 L363.3,117.2 L363.8,117.5 L364.3,118.0 L364.8,118.4 L365.3,118.3 L365.8,118.2 L366.3,118.0 L366.8,117.9 L367.3,117.8 L367.8,118.0 L368.3,118.1 L368.8,118.5 L369.3,118.5 L369.8,118.5 L370.3,118.8 L370.8,119.0 L371.3,118.9 L371.8,119.0 L372.3,119.2 L372.8,119.0 L373.3,118.8 L373.8,119.0 L374.3,119.2 L374.8,119.0 L375.3,119.1 L375.8,119.2 L376.3,119.4 L376.8,119.5 L377.3,119.9 L377.8,120.3 L378.3,120.7 L378.8,120.5 L379.3,120.5 L379.8,120.2 L380.3,120.1 L380.8,119.9 L381.3,120.0 L381.8,120.3 L382.3,120.4 L382.8,120.4 L383.3,120.5 L383.8,120.9 L384.3,120.9 L384.8,121.1 L385.3,121.1 L385.8,121.2 L386.3,121.2 L386.8,121.4 L387.3,121.8 L387.8,122.2 L388.3,122.2 L388.8,122.1 L389.3,122.2 L389.8,122.3 L390.3,122.3 L390.8,122.6 L391.3,122.9 L391.8,122.8 L392.3,122.6 L392.8,122.5 L393.3,122.6 L393.8,122.8 L394.3,123.2 L394.8,123.4 L395.3,123.8 L395.8,124.0 L396.3,124.1 L396.8,124.1 L397.3,124.2 L397.8,124.2 L398.3,124.1 L398.8,123.9 L399.3,124.1 L399.8,124.5M253.8,87.8 L254.3,88.0 L254.8,88.4 L255.3,88.6 L255.8,88.8 L256.3,89.0 L256.8,89.2 L257.3,89.7 L257.8,89.9 L258.3,90.3 L258.8,90.7 L259.3,91.0 L259.8,91.1 L260.3,91.6 L260.8,91.8 L261.3,92.1 L261.8,92.4 L262.3,92.7 L262.8,93.1 L263.3,93.4 L263.8,93.7 L264.3,94.1 L264.8,94.6 L265.3,95.0 L265.8,95.3 L266.3,95.8 L266.8,96.1 L267.3,96.2 L267.8,96.6 L268.3,97.0 L268.8,97.2 L269.3,97.5 L269.8,97.9 L270.3,98.0 L270.8,98.4 L271.3,98.7 L271.8,98.8 L272.3,99.3 L272.8,99.4 L273.3,99.9 L273.8,100.3 L274.3,100.9 L274.8,101.0 L275.3,101.3 L275.8,101.4 L276.3,101.8 L276.8,102.0 L277.3,102.3 L277.8,102.5 L278.3,103.0 L278.8,103.4 L279.3,103.7 L279.8,103.9 L280.3,104.2 L280.8,104.3 L281.3,104.3 L281.8,104.5 L282.3,104.8 L282.8,105.3 L283.3,105.9 L283.8,106.2 L284.3,106.8 L284.8,107.2 L285.3,107.5 L285.8,107.8 L286.3,108.3 L286.8,108.1 L287.3,108.3 L287.8,108.4 L288.3,108.6 L288.8,108.5 L289.3,108.8 L289.8,109.2 L290.3,109.2 L290.8,109.1 L291.3,109.4 L291.8,109.7 L292.3,110.0 L292.8,110.2 L293.3,110.5 L293.8,110.8 L294.3,111.0 L294.8,111.1 L295.3,111.5 L295.8,111.5 L296.3,111.6 L296.8,111.5 L297.3,111.7 L297.8,111.6 L298.3,111.7 L298.8,111.7 L299.3,112.0 L299.8,112.1 L300.3,112.2 L300.8,112.4 L301.3,112.6 L301.8,112.5 L302.3,112.6 L302.8,112.4 L303.3,112.5 L303.8,112.7 L304.3,113.0 L304.8,112.8 L305.3,112.9 L305.8,113.1 L306.3,113.2 L306.8,113.3 L307.3,113.7 L307.8,113.8 L308.3,113.9 L308.8,114.0 L309.3,113.8 L309.8,113.6 L310.3,113.5 L310.8,113.4 L311.3,113.5 L311.8,113.5 L312.3,113.6 L312.8,113.7 L313.3,113.6 L313.8,113.6 L314.3,113.7 L314.8,113.5 L315.3,113.6 L315.8,113.9 L316.3,114.0 L316.8,113.9 L317.3,114.1 L317.8,114.5 L318.3,114.4 L318.8,114.5 L319.3,114.7 L319.8,115.0 L320.3,114.9 L320.8,115.3 L321.3,115.3 L321.8,115.3 L322.3,115.2 L322.8,115.1 L323.3,115.2 L323.8,115.1 L324.3,115.1 L324.8,115.6 L325.3,115.7 L325.8,115.8 L326.3,115.9 L326.8,116.2 L327.3,116.0 L327.8,116.4 L328.3,116.3 L328.8,116.7 L329.3,116.9 L329.8,117.3 L330.3,117.2 L330.8,117.3 L331.3,117.3 L331.8,117.1 L332.3,117.2 L332.8,117.4 L333.3,117.6 L333.8,117.6 L334.3,117.9 L334.8,117.9 L335.3,118.0 L335.8,117.8 L336.3,118.0 L336.8,118.1 L337.3,118.0 L337.8,118.0 L338.3,118.4 L338.8,118.5 L339.3,118.7 L339.8,119.0 L340.3,119.0 L340.8,118.9 L341.3,119.2 L341.8,119.2 L342.3,119.2 L342.8,119.3 L343.3,119.3 L343.8,119.1 L344.3,119.4 L344.8,119.7 L345.3,120.1 L345.8,120.5 L346.3,120.8 L346.8,120.9 L347.3,120.9 L347.8,120.8 L348.3,120.9 L348.8,121.1 L349.3,121.2 L349.8,121.3 L350.3,121.5 L350.8,121.4 L351.3,121.6 L351.8,121.6 L352.3,121.7 L352.8,121.8 L353.3,121.8 L353.8,121.6 L354.3,121.6 L354.8,121.7 L355.3,121.6 L355.8,121.9 L356.3,122.0 L356.8,122.1 L357.3,122.2 L357.8,122.2 L358.3,122.2 L358.8,122.6 L359.3,122.7 L359.8,122.8 L360.3,122.7 L360.8,122.8 L361.3,122.7 L361.8,122.6 L362.3,122.6 L362.8,123.0 L363.3,123.2 L363.8,123.5 L364.3,124.0 L364.8,124.4 L365.3,124.3 L365.8,124.2 L366.3,124.0 L366.8,123.9 L367.3,123.8 L367.8,124.0 L368.3,124.1 L368.8,124.5 L369.3,124.5 L369.8,124.5 L370.3,124.8 L370.8,125.0 L371.3,124.9 L371.8,125.0 L372.3,125.2 L372.8,125.0 L373.3,124.8 L373.8,125.0 L374.3,125.2 L374.8,125.0 L375.3,125.1 L375.8,125.2 L376.3,125.4 L376.8,125.5 L377.3,125.9 L377.8,126.3 L378.3,126.7 L378.8,126.5 L379.3,126.5 L379.8,126.2 L380.3,126.1 L380.8,125.9 L381.3,126.0 L381.8,126.3 L382.3,126.4 L382.8,126.4 L383.3,126.5 L383.8,126.9 L384.3,126.9 L384.8,127.1 L385.3,127.1 L385.8,127.2 L386.3,127.2 L386.8,127.4 L387.3,127.8 L387.8,128.2 L388.3,128.2 L388.8,128.1 L389.3,128.2 L389.8,128.3 L390.3,128.3 L390.8,128.6 L391.3,128.9 L391.8,128.8 L392.3,128.6 L392.8,128.5 L393.3,128.6 L393.8,128.8 L394.3,129.2 L394.8,129.4 L395.3,129.8 L395.8,130.0 L396.3,130.1 L396.8,130.1 L397.3,130.2 L397.8,130.2 L398.3,130.1 L398.8,129.9 L399.3,130.1 L399.8,130.5" fill="none" stroke="rgba(100,100,255,0.5)" stroke-width="0.6"/><path d="M400.5,124.5V130.5M402.5,125.1V131.1M404.5,125.8V131.8M407.5,127.1V133.1M409.5,127.1V133.1M412.5,128.3V134.3M414.5,129.2V135.2M417.5,129.8V135.8M419.5,130.7V136.7M422.5,131.0V137.0M424.5,131.4V137.4M426.5,133.0V139.0M429.5,133.3V139.3M431.5,134.0V140.0M434.5,135.0V141.0M436.5,135.2V141.2M439.5,136.3V142.3M441.5,136.7V142.7M444.5,136.8V142.8M446.5,137.8V143.8M448.5,138.9V144.9M451.5,138.8V144.8M453.5,140.0V146.0M456.5,140.5V146.5M458.5,141.6V147.6M461.5,141.6V147.6M463.5,142.7V148.7M466.5,144.3V150.3M468.5,144.4V150.4M471.5,145.1V151.1M473.5,146.3V152.3M475.5,146.4V152.4M478.5,146.9V152.9M480.5,147.7V153.7M483.5,148.0V154.0M485.5,148.8V154.8M488.5,149.4V155.4M490.5,150.5V156.5M493.5,151.1V157.1M495.5,152.0V158.0M497.5,152.7V158.7M500.5,154.0V160.0M502.5,155.7V161.7M505.5,156.2V162.2M507.5,157.2V163.2M510.5,157.5V163.5M512.5,158.5V164.5M515.5,159.6V165.6M517.5,160.4V166.4M520.5,160.5V166.5M522.5,161.6V167.6M524.5,161.9V167.9M527.5,162.5V168.5M529.5,163.2V169.2M532.5,163.9V169.9M534.5,164.5V170.5M537.5,165.5V171.5M539.5,165.4V171.4M542.5,166.5V172.5M544.5,166.5V172.5" stroke="rgba(110,110,255,0.5)" stroke-width="0.75" fill="none" stroke-dasharray="1.3,0.7"/><path d="M253.8,83.2 L254.3,83.4 L254.8,83.8 L255.3,84.3 L255.8,84.6 L256.3,84.8 L256.8,85.4 L257.3,86.0 L257.8,86.5 L258.3,87.0 L258.8,87.5 L259.3,88.0 L259.8,88.5 L260.3,88.9 L260.8,89.6 L261.3,90.1 L261.8,90.7 L262.3,91.2 L262.8,91.6 L263.3,92.1 L263.8,92.6 L264.3,93.0 L264.8,93.5 L265.3,94.1 L265.8,94.5 L266.3,94.8 L266.8,95.4 L267.3,95.9 L267.8,96.3 L268.3,96.8 L268.8,97.4 L269.3,97.9 L269.8,98.3 L270.3,98.6 L270.8,99.2 L271.3,100.0 L271.8,100.3 L272.3,100.9 L272.8,101.6 L273.3,101.9 L273.8,102.4 L274.3,103.1 L274.8,103.7 L275.3,104.4 L275.8,105.1 L276.3,105.7 L276.8,106.7 L277.3,107.3 L277.8,107.9 L278.3,108.9 L278.8,109.5 L279.3,110.0 L279.8,110.6 L280.3,111.2 L280.8,111.5 L281.3,111.9 L281.8,112.5 L282.3,113.0 L282.8,113.3 L283.3,114.1 L283.8,114.9 L284.3,115.3 L284.8,116.0 L285.3,116.8 L285.8,117.2 L286.3,117.5 L286.8,117.9 L287.3,118.3 L287.8,118.9 L288.3,119.3 L288.8,119.9 L289.3,120.7 L289.8,121.1 L290.3,121.5 L290.8,122.0 L291.3,122.4 L291.8,122.5 L292.3,122.9 L292.8,123.0 L293.3,123.3 L293.8,123.4 L294.3,123.7 L294.8,123.8 L295.3,124.0 L295.8,124.1 L296.3,124.3 L296.8,124.3 L297.3,124.6 L297.8,124.6 L298.3,124.8 L298.8,124.9 L299.3,125.1 L299.8,125.3 L300.3,125.8 L300.8,126.1 L301.3,126.4 L301.8,126.7 L302.3,126.7 L302.8,126.7 L303.3,126.6 L303.8,126.9 L304.3,127.0 L304.8,127.5 L305.3,127.8 L305.8,128.0 L306.3,127.9 L306.8,128.4 L307.3,128.3 L307.8,128.5 L308.3,128.7 L308.8,128.8 L309.3,128.7 L309.8,129.2 L310.3,129.5 L310.8,129.7 L311.3,130.2 L311.8,130.3 L312.3,130.4 L312.8,130.6 L313.3,130.5 L313.8,130.5 L314.3,131.1 L314.8,131.1 L315.3,131.3 L315.8,131.5 L316.3,131.8 L316.8,131.7 L317.3,132.0 L317.8,132.0 L318.3,132.5 L318.8,132.8 L319.3,133.1 L319.8,133.4 L320.3,133.6 L320.8,133.8 L321.3,133.9 L321.8,134.1 L322.3,134.3 L322.8,134.5 L323.3,134.4 L323.8,134.6 L324.3,134.8 L324.8,134.9 L325.3,135.2 L325.8,135.6 L326.3,136.1 L326.8,136.3 L327.3,136.7 L327.8,136.7 L328.3,136.7 L328.8,136.7 L329.3,136.8 L329.8,137.1 L330.3,137.2 L330.8,137.4 L331.3,137.7 L331.8,137.8 L332.3,137.8 L332.8,138.2 L333.3,138.4 L333.8,138.3 L334.3,138.5 L334.8,138.7 L335.3,138.6 L335.8,138.8 L336.3,138.9 L336.8,139.2 L337.3,139.1 L337.8,139.2 L338.3,139.3 L338.8,139.6 L339.3,139.5 L339.8,139.8 L340.3,140.3 L340.8,140.6 L341.3,140.5 L341.8,140.8 L342.3,140.7 L342.8,140.5 L343.3,140.7 L343.8,140.8 L344.3,140.6 L344.8,140.9 L345.3,141.0 L345.8,141.2 L346.3,141.2 L346.8,141.6 L347.3,141.6 L347.8,141.9 L348.3,141.7 L348.8,142.0 L349.3,141.8 L349.8,141.8 L350.3,141.7 L350.8,141.8 L351.3,141.7 L351.8,141.7 L352.3,141.8 L352.8,141.7 L353.3,141.5 L353.8,141.6 L354.3,141.7 L354.8,141.8 L355.3,141.9 L355.8,141.8 L356.3,141.6 L356.8,141.5 L357.3,141.4 L357.8,141.5 L358.3,141.6 L358.8,141.9 L359.3,142.0 L359.8,142.2 L360.3,142.3 L360.8,142.4 L361.3,142.3 L361.8,142.1 L362.3,141.9 L362.8,141.9 L363.3,141.9 L363.8,141.8 L364.3,142.1 L364.8,142.3 L365.3,142.2 L365.8,142.2 L366.3,142.3 L366.8,142.3 L367.3,142.1 L367.8,142.1 L368.3,142.3 L368.8,142.3 L369.3,142.1 L369.8,142.3 L370.3,142.3 L370.8,142.2 L371.3,142.4 L371.8,142.2 L372.3,142.3 L372.8,142.2 L373.3,142.2 L373.8,142.4 L374.3,142.8 L374.8,142.7 L375.3,143.0 L375.8,142.9 L376.3,142.8 L376.8,142.6 L377.3,142.8 L377.8,142.6 L378.3,142.8 L378.8,142.7 L379.3,143.1 L379.8,143.1 L380.3,143.5 L380.8,143.4 L381.3,143.4 L381.8,143.4 L382.3,143.7 L382.8,143.7 L383.3,143.9 L383.8,144.2 L384.3,144.0 L384.8,144.2 L385.3,144.2 L385.8,144.4 L386.3,144.3 L386.8,144.4 L387.3,144.4 L387.8,144.7 L388.3,144.6 L388.8,145.0 L389.3,145.3 L389.8,145.3 L390.3,145.2 L390.8,145.4 L391.3,145.2 L391.8,145.2 L392.3,145.5 L392.8,145.5 L393.3,145.6 L393.8,145.8 L394.3,145.9 L394.8,146.0 L395.3,146.4 L395.8,146.8 L396.3,147.1 L396.8,147.2 L397.3,147.3 L397.8,147.2 L398.3,147.1 L398.8,147.4 L399.3,147.7 L399.8,147.8 L399.8,154.9 L399.3,154.7 L398.8,154.3 L398.3,154.0 L397.8,154.1 L397.3,154.1 L396.8,153.9 L396.3,153.8 L395.8,153.4 L395.3,153.0 L394.8,152.6 L394.3,152.4 L393.8,152.2 L393.3,151.9 L392.8,151.8 L392.3,151.7 L391.8,151.4 L391.3,151.4 L390.8,151.5 L390.3,151.3 L389.8,151.3 L389.3,151.3 L388.8,151.0 L388.3,150.6 L387.8,150.7 L387.3,150.4 L386.8,150.4 L386.3,150.3 L385.8,150.4 L385.3,150.2 L384.8,150.2 L384.3,150.0 L383.8,150.2 L383.3,149.9 L382.8,149.7 L382.3,149.7 L381.8,149.4 L381.3,149.4 L380.8,149.4 L380.3,149.5 L379.8,149.1 L379.3,149.1 L378.8,148.7 L378.3,148.8 L377.8,148.6 L377.3,148.8 L376.8,148.6 L376.3,148.8 L375.8,148.9 L375.3,149.0 L374.8,148.7 L374.3,148.8 L373.8,148.4 L373.3,148.2 L372.8,148.2 L372.3,148.3 L371.8,148.2 L371.3,148.4 L370.8,148.2 L370.3,148.3 L369.8,148.3 L369.3,148.1 L368.8,148.3 L368.3,148.3 L367.8,148.1 L367.3,148.1 L366.8,148.3 L366.3,148.3 L365.8,148.2 L365.3,148.2 L364.8,148.3 L364.3,148.1 L363.8,147.8 L363.3,147.9 L362.8,147.9 L362.3,147.9 L361.8,148.1 L361.3,148.3 L360.8,148.4 L360.3,148.3 L359.8,148.2 L359.3,148.0 L358.8,147.9 L358.3,147.6 L357.8,147.5 L357.3,147.4 L356.8,147.5 L356.3,147.6 L355.8,147.8 L355.3,147.9 L354.8,147.8 L354.3,147.7 L353.8,147.6 L353.3,147.5 L352.8,147.7 L352.3,147.8 L351.8,147.7 L351.3,147.7 L350.8,147.8 L350.3,147.7 L349.8,147.8 L349.3,147.8 L348.8,148.0 L348.3,147.7 L347.8,147.9 L347.3,147.6 L346.8,147.6 L346.3,147.2 L345.8,147.2 L345.3,147.0 L344.8,146.9 L344.3,146.6 L343.8,146.8 L343.3,146.7 L342.8,146.5 L342.3,146.7 L341.8,146.8 L341.3,146.5 L340.8,146.6 L340.3,146.3 L339.8,145.8 L339.3,145.5 L338.8,145.6 L338.3,145.3 L337.8,145.2 L337.3,145.1 L336.8,145.2 L336.3,144.9 L335.8,144.8 L335.3,144.6 L334.8,144.7 L334.3,144.5 L333.8,144.3 L333.3,144.4 L332.8,144.2 L332.3,143.8 L331.8,143.8 L331.3,143.7 L330.8,143.4 L330.3,143.2 L329.8,143.1 L329.3,142.8 L328.8,142.7 L328.3,142.7 L327.8,142.7 L327.3,142.7 L326.8,142.3 L326.3,142.1 L325.8,141.6 L325.3,141.2 L324.8,140.9 L324.3,140.8 L323.8,140.6 L323.3,140.4 L322.8,140.5 L322.3,140.3 L321.8,140.1 L321.3,139.9 L320.8,139.8 L320.3,139.6 L319.8,139.4 L319.3,139.1 L318.8,138.8 L318.3,138.5 L317.8,138.0 L317.3,138.0 L316.8,137.7 L316.3,137.8 L315.8,137.5 L315.3,137.3 L314.8,137.1 L314.3,137.1 L313.8,136.5 L313.3,136.5 L312.8,136.6 L312.3,136.4 L311.8,136.3 L311.3,136.2 L310.8,135.7 L310.3,135.5 L309.8,135.2 L309.3,134.7 L308.8,134.8 L308.3,134.7 L307.8,134.5 L307.3,134.3 L306.8,134.4 L306.3,133.9 L305.8,134.0 L305.3,133.8 L304.8,133.5 L304.3,133.0 L303.8,132.9 L303.3,132.6 L302.8,132.7 L302.3,132.7 L301.8,132.7 L301.3,132.4 L300.8,132.1 L300.3,131.8 L299.8,131.3 L299.3,131.1 L298.8,130.9 L298.3,130.8 L297.8,130.6 L297.3,130.6 L296.8,130.3 L296.3,130.3 L295.8,130.1 L295.3,130.0 L294.8,129.8 L294.3,129.7 L293.8,129.4 L293.3,129.3 L292.8,129.0 L292.3,128.9 L291.8,128.5 L291.3,128.4 L290.8,128.0 L290.3,127.5 L289.8,127.1 L289.3,126.7 L288.8,125.9 L288.3,125.3 L287.8,124.9 L287.3,124.3 L286.8,123.9 L286.3,123.5 L285.8,123.2 L285.3,122.8 L284.8,122.0 L284.3,121.3 L283.8,120.9 L283.3,120.1 L282.8,119.3 L282.3,119.0 L281.8,118.5 L281.3,117.9 L280.8,117.5 L280.3,117.2 L279.8,116.6 L279.3,116.0 L278.8,115.5 L278.3,114.9 L277.8,113.9 L277.3,113.3 L276.8,112.7 L276.3,111.7 L275.8,111.1 L275.3,110.4 L274.8,109.7 L274.3,109.1 L273.8,108.4 L273.3,107.9 L272.8,107.6 L272.3,106.9 L271.8,106.3 L271.3,106.0 L270.8,105.2 L270.3,104.6 L269.8,104.3 L269.3,103.9 L268.8,103.4 L268.3,102.8 L267.8,102.3 L267.3,101.9 L266.8,101.4 L266.3,100.8 L265.8,100.5 L265.3,100.1 L264.8,99.5 L264.3,99.0 L263.8,98.6 L263.3,98.1 L262.8,97.6 L262.3,97.2 L261.8,96.7 L261.3,96.1 L260.8,95.6 L260.3,94.9 L259.8,94.5 L259.3,94.0 L258.8,93.5 L258.3,93.0 L257.8,92.5 L257.3,92.0 L256.8,91.4 L256.3,90.8 L255.8,90.6 L255.3,90.3 L254.8,89.8 L254.3,89.4 L253.8,89.2Z" fill="rgba(120,200,120,0.18)" stroke="none"/><path d="M253.8,83.2 L254.3,83.4 L254.8,83.8 L255.3,84.3 L255.8,84.6 L256.3,84.8 L256.8,85.4 L257.3,86.0 L257.8,86.5 L258.3,87.0 L258.8,87.5 L259.3,88.0 L259.8,88.5 L260.3,88.9 L260.8,89.6 L261.3,90.1 L261.8,90.7 L262.3,91.2 L262.8,91.6 L263.3,92.1 L263.8,92.6 L264.3,93.0 L264.8,93.5 L265.3,94.1 L265.8,94.5 L266.3,94.8 L266.8,95.4 L267.3,95.9 L267.8,96.3 L268.3,96.8 L268.8,97.4 L269.3,97.9 L269.8,98.3 L270.3,98.6 L270.8,99.2 L271.3,100.0 L271.8,100.3 L272.3,100.9 L272.8,101.6 L273.3,101.9 L273.8,102.4 L274.3,103.1 L274.8,103.7 L275.3,104.4 L275.8,105.1 L276.3,105.7 L276.8,106.7 L277.3,107.3 L277.8,107.9 L278.3,108.9 L278.8,109.5 L279.3,110.0 L279.8,110.6 L280.3,111.2 L280.8,111.5 L281.3,111.9 L281.8,112.5 L282.3,113.0 L282.8,113.3 L283.3,114.1 L283.8,114.9 L284.3,115.3 L284.8,116.0 L285.3,116.8 L285.8,117.2 L286.3,117.5 L286.8,117.9 L287.3,118.3 L287.8,118.9 L288.3,119.3 L288.8,119.9 L289.3,120.7 L289.8,121.1 L290.3,121.5 L290.8,122.0 L291.3,122.4 L291.8,122.5 L292.3,122.9 L292.8,123.0 L293.3,123.3 L293.8,123.4 L294.3,123.7 L294.8,123.8 L295.3,124.0 L295.8,124.1 L296.3,124.3 L296.8,124.3 L297.3,124.6 L297.8,124.6 L298.3,124.8 L298.8,124.9 L299.3,125.1 L299.8,125.3 L300.3,125.8 L300.8,126.1 L301.3,126.4 L301.8,126.7 L302.3,126.7 L302.8,126.7 L303.3,126.6 L303.8,126.9 L304.3,127.0 L304.8,127.5 L305.3,127.8 L305.8,128.0 L306.3,127.9 L306.8,128.4 L307.3,128.3 L307.8,128.5 L308.3,128.7 L308.8,128.8 L309.3,128.7 L309.8,129.2 L310.3,129.5 L310.8,129.7 L311.3,130.2 L311.8,130.3 L312.3,130.4 L312.8,130.6 L313.3,130.5 L313.8,130.5 L314.3,131.1 L314.8,131.1 L315.3,131.3 L315.8,131.5 L316.3,131.8 L316.8,131.7 L317.3,132.0 L317.8,132.0 L318.3,132.5 L318.8,132.8 L319.3,133.1 L319.8,133.4 L320.3,133.6 L320.8,133.8 L321.3,133.9 L321.8,134.1 L322.3,134.3 L322.8,134.5 L323.3,134.4 L323.8,134.6 L324.3,134.8 L324.8,134.9 L325.3,135.2 L325.8,135.6 L326.3,136.1 L326.8,136.3 L327.3,136.7 L327.8,136.7 L328.3,136.7 L328.8,136.7 L329.3,136.8 L329.8,137.1 L330.3,137.2 L330.8,137.4 L331.3,137.7 L331.8,137.8 L332.3,137.8 L332.8,138.2 L333.3,138.4 L333.8,138.3 L334.3,138.5 L334.8,138.7 L335.3,138.6 L335.8,138.8 L336.3,138.9 L336.8,139.2 L337.3,139.1 L337.8,139.2 L338.3,139.3 L338.8,139.6 L339.3,139.5 L339.8,139.8 L340.3,140.3 L340.8,140.6 L341.3,140.5 L341.8,140.8 L342.3,140.7 L342.8,140.5 L343.3,140.7 L343.8,140.8 L344.3,140.6 L344.8,140.9 L345.3,141.0 L345.8,141.2 L346.3,141.2 L346.8,141.6 L347.3,141.6 L347.8,141.9 L348.3,141.7 L348.8,142.0 L349.3,141.8 L349.8,141.8 L350.3,141.7 L350.8,141.8 L351.3,141.7 L351.8,141.7 L352.3,141.8 L352.8,141.7 L353.3,141.5 L353.8,141.6 L354.3,141.7 L354.8,141.8 L355.3,141.9 L355.8,141.8 L356.3,141.6 L356.8,141.5 L357.3,141.4 L357.8,141.5 L358.3,141.6 L358.8,141.9 L359.3,142.0 L359.8,142.2 L360.3,142.3 L360.8,142.4 L361.3,142.3 L361.8,142.1 L362.3,141.9 L362.8,141.9 L363.3,141.9 L363.8,141.8 L364.3,142.1 L364.8,142.3 L365.3,142.2 L365.8,142.2 L366.3,142.3 L366.8,142.3 L367.3,142.1 L367.8,142.1 L368.3,142.3 L368.8,142.3 L369.3,142.1 L369.8,142.3 L370.3,142.3 L370.8,142.2 L371.3,142.4 L371.8,142.2 L372.3,142.3 L372.8,142.2 L373.3,142.2 L373.8,142.4 L374.3,142.8 L374.8,142.7 L375.3,143.0 L375.8,142.9 L376.3,142.8 L376.8,142.6 L377.3,142.8 L377.8,142.6 L378.3,142.8 L378.8,142.7 L379.3,143.1 L379.8,143.1 L380.3,143.5 L380.8,143.4 L381.3,143.4 L381.8,143.4 L382.3,143.7 L382.8,143.7 L383.3,143.9 L383.8,144.2 L384.3,144.0 L384.8,144.2 L385.3,144.2 L385.8,144.4 L386.3,144.3 L386.8,144.4 L387.3,144.4 L387.8,144.7 L388.3,144.6 L388.8,145.0 L389.3,145.3 L389.8,145.3 L390.3,145.2 L390.8,145.4 L391.3,145.2 L391.8,145.2 L392.3,145.5 L392.8,145.5 L393.3,145.6 L393.8,145.8 L394.3,145.9 L394.8,146.0 L395.3,146.4 L395.8,146.8 L396.3,147.1 L396.8,147.2 L397.3,147.3 L397.8,147.2 L398.3,147.1 L398.8,147.4 L399.3,147.7 L399.8,147.8M253.8,89.2 L254.3,89.4 L254.8,89.8 L255.3,90.3 L255.8,90.6 L256.3,90.8 L256.8,91.4 L257.3,92.0 L257.8,92.5 L258.3,93.0 L258.8,93.5 L259.3,94.0 L259.8,94.5 L260.3,94.9 L260.8,95.6 L261.3,96.1 L261.8,96.7 L262.3,97.2 L262.8,97.6 L263.3,98.1 L263.8,98.6 L264.3,99.0 L264.8,99.5 L265.3,100.1 L265.8,100.5 L266.3,100.8 L266.8,101.4 L267.3,101.9 L267.8,102.3 L268.3,102.8 L268.8,103.4 L269.3,103.9 L269.8,104.3 L270.3,104.6 L270.8,105.2 L271.3,106.0 L271.8,106.3 L272.3,106.9 L272.8,107.6 L273.3,107.9 L273.8,108.4 L274.3,109.1 L274.8,109.7 L275.3,110.4 L275.8,111.1 L276.3,111.7 L276.8,112.7 L277.3,113.3 L277.8,113.9 L278.3,114.9 L278.8,115.5 L279.3,116.0 L279.8,116.6 L280.3,117.2 L280.8,117.5 L281.3,117.9 L281.8,118.5 L282.3,119.0 L282.8,119.3 L283.3,120.1 L283.8,120.9 L284.3,121.3 L284.8,122.0 L285.3,122.8 L285.8,123.2 L286.3,123.5 L286.8,123.9 L287.3,124.3 L287.8,124.9 L288.3,125.3 L288.8,125.9 L289.3,126.7 L289.8,127.1 L290.3,127.5 L290.8,128.0 L291.3,128.4 L291.8,128.5 L292.3,128.9 L292.8,129.0 L293.3,129.3 L293.8,129.4 L294.3,129.7 L294.8,129.8 L295.3,130.0 L295.8,130.1 L296.3,130.3 L296.8,130.3 L297.3,130.6 L297.8,130.6 L298.3,130.8 L298.8,130.9 L299.3,131.1 L299.8,131.3 L300.3,131.8 L300.8,132.1 L301.3,132.4 L301.8,132.7 L302.3,132.7 L302.8,132.7 L303.3,132.6 L303.8,132.9 L304.3,133.0 L304.8,133.5 L305.3,133.8 L305.8,134.0 L306.3,133.9 L306.8,134.4 L307.3,134.3 L307.8,134.5 L308.3,134.7 L308.8,134.8 L309.3,134.7 L309.8,135.2 L310.3,135.5 L310.8,135.7 L311.3,136.2 L311.8,136.3 L312.3,136.4 L312.8,136.6 L313.3,136.5 L313.8,136.5 L314.3,137.1 L314.8,137.1 L315.3,137.3 L315.8,137.5 L316.3,137.8 L316.8,137.7 L317.3,138.0 L317.8,138.0 L318.3,138.5 L318.8,138.8 L319.3,139.1 L319.8,139.4 L320.3,139.6 L320.8,139.8 L321.3,139.9 L321.8,140.1 L322.3,140.3 L322.8,140.5 L323.3,140.4 L323.8,140.6 L324.3,140.8 L324.8,140.9 L325.3,141.2 L325.8,141.6 L326.3,142.1 L326.8,142.3 L327.3,142.7 L327.8,142.7 L328.3,142.7 L328.8,142.7 L329.3,142.8 L329.8,143.1 L330.3,143.2 L330.8,143.4 L331.3,143.7 L331.8,143.8 L332.3,143.8 L332.8,144.2 L333.3,144.4 L333.8,144.3 L334.3,144.5 L334.8,144.7 L335.3,144.6 L335.8,144.8 L336.3,144.9 L336.8,145.2 L337.3,145.1 L337.8,145.2 L338.3,145.3 L338.8,145.6 L339.3,145.5 L339.8,145.8 L340.3,146.3 L340.8,146.6 L341.3,146.5 L341.8,146.8 L342.3,146.7 L342.8,146.5 L343.3,146.7 L343.8,146.8 L344.3,146.6 L344.8,146.9 L345.3,147.0 L345.8,147.2 L346.3,147.2 L346.8,147.6 L347.3,147.6 L347.8,147.9 L348.3,147.7 L348.8,148.0 L349.3,147.8 L349.8,147.8 L350.3,147.7 L350.8,147.8 L351.3,147.7 L351.8,147.7 L352.3,147.8 L352.8,147.7 L353.3,147.5 L353.8,147.6 L354.3,147.7 L354.8,147.8 L355.3,147.9 L355.8,147.8 L356.3,147.6 L356.8,147.5 L357.3,147.4 L357.8,147.5 L358.3,147.6 L358.8,147.9 L359.3,148.0 L359.8,148.2 L360.3,148.3 L360.8,148.4 L361.3,148.3 L361.8,148.1 L362.3,147.9 L362.8,147.9 L363.3,147.9 L363.8,147.8 L364.3,148.1 L364.8,148.3 L365.3,148.2 L365.8,148.2 L366.3,148.3 L366.8,148.3 L367.3,148.1 L367.8,148.1 L368.3,148.3 L368.8,148.3 L369.3,148.1 L369.8,148.3 L370.3,148.3 L370.8,148.2 L371.3,148.4 L371.8,148.2 L372.3,148.3 L372.8,148.2 L373.3,148.2 L373.8,148.4 L374.3,148.8 L374.8,148.7 L375.3,149.0 L375.8,148.9 L376.3,148.8 L376.8,148.6 L377.3,148.8 L377.8,148.6 L378.3,148.8 L378.8,148.7 L379.3,149.1 L379.8,149.1 L380.3,149.5 L380.8,149.4 L381.3,149.4 L381.8,149.4 L382.3,149.7 L382.8,149.7 L383.3,149.9 L383.8,150.2 L384.3,150.0 L384.8,150.2 L385.3,150.2 L385.8,150.4 L386.3,150.3 L386.8,150.4 L387.3,150.4 L387.8,150.7 L388.3,150.6 L388.8,151.0 L389.3,151.3 L389.8,151.3 L390.3,151.3 L390.8,151.5 L391.3,151.4 L391.8,151.4 L392.3,151.7 L392.8,151.8 L393.3,151.9 L393.8,152.2 L394.3,152.4 L394.8,152.6 L395.3,153.0 L395.8,153.4 L396.3,153.8 L396.8,153.9 L397.3,154.1 L397.8,154.1 L398.3,154.0 L398.8,154.3 L399.3,154.7 L399.8,154.9" fill="none" stroke="rgba(100,190,100,0.5)" stroke-width="0.6"/><path d="M400.5,147.8V154.9M402.5,148.2V155.5M404.5,148.8V156.5M407.5,149.2V157.1M409.5,148.9V157.1M412.5,149.1V157.6M414.5,149.1V157.8M417.5,149.7V158.8M419.5,149.9V159.2M422.5,149.8V159.4M424.5,149.9V159.8M426.5,150.3V160.4M429.5,150.2V160.6M431.5,150.7V161.3M434.5,151.0V161.9M436.5,150.9V162.1M439.5,151.6V163.1M441.5,151.1V162.8M444.5,152.0V164.0M446.5,151.5V163.8M448.5,152.2V164.7M451.5,152.5V165.3M453.5,153.0V166.1M456.5,153.6V166.9M458.5,154.3V167.9M461.5,155.3V169.2M463.5,155.7V169.8M466.5,156.4V170.8M468.5,156.7V171.4M471.5,157.2V172.2M473.5,158.0V173.3M475.5,158.3V173.9M478.5,158.8V174.6M480.5,159.8V175.8M483.5,160.2V176.2M485.5,160.3V176.3M488.5,160.7V176.7M490.5,162.0V178.0M493.5,162.1V178.1M495.5,162.6V178.6M497.5,163.2V179.2M500.5,163.9V179.9M502.5,164.6V180.6M505.5,165.7V181.7M507.5,166.6V182.6M510.5,167.4V183.4M512.5,168.7V184.7M515.5,169.7V185.7M517.5,170.7V186.7M520.5,171.4V187.4M522.5,172.0V188.0M524.5,172.8V188.8M527.5,174.1V190.1M529.5,174.5V190.5M532.5,175.0V191.0M534.5,175.8V191.8M537.5,175.9V191.9M539.5,176.1V192.1M542.5,177.1V193.1M544.5,177.7V193.7" stroke="rgba(110,200,110,0.5)" stroke-width="0.75" fill="none" stroke-dasharray="1.3,0.7"/><path d="M253.8,82.0 L254.3,82.3 L254.8,82.4 L255.3,82.8 L255.8,83.1 L256.3,83.1 L256.8,83.5 L257.3,84.1 L257.8,84.6 L258.3,85.0 L258.8,85.5 L259.3,85.9 L259.8,86.0 L260.3,86.1 L260.8,86.2 L261.3,86.4 L261.8,86.7 L262.3,87.0 L262.8,87.6 L263.3,88.2 L263.8,88.9 L264.3,89.3 L264.8,90.0 L265.3,90.5 L265.8,90.9 L266.3,91.2 L266.8,91.5 L267.3,92.0 L267.8,92.5 L268.3,93.4 L268.8,94.2 L269.3,95.1 L269.8,95.9 L270.3,96.5 L270.8,97.0 L271.3,97.8 L271.8,98.5 L272.3,99.0 L272.8,99.8 L273.3,100.5 L273.8,101.0 L274.3,101.7 L274.8,102.3 L275.3,103.1 L275.8,103.8 L276.3,104.5 L276.8,105.1 L277.3,106.0 L277.8,106.9 L278.3,107.8 L278.8,108.7 L279.3,109.6 L279.8,110.6 L280.3,111.1 L280.8,111.9 L281.3,112.8 L281.8,113.7 L282.3,114.5 L282.8,115.4 L283.3,116.0 L283.8,116.8 L284.3,117.3 L284.8,118.2 L285.3,119.1 L285.8,120.2 L286.3,121.0 L286.8,121.9 L287.3,122.8 L287.8,123.7 L288.3,124.4 L288.8,125.3 L289.3,126.2 L289.8,126.9 L290.3,127.6 L290.8,128.3 L291.3,129.2 L291.8,130.2 L292.3,131.0 L292.8,131.6 L293.3,132.3 L293.8,132.9 L294.3,133.6 L294.8,134.3 L295.3,135.1 L295.8,136.0 L296.3,136.6 L296.8,137.1 L297.3,137.8 L297.8,138.5 L298.3,139.1 L298.8,139.8 L299.3,140.6 L299.8,141.0 L300.3,141.6 L300.8,142.3 L301.3,142.8 L301.8,143.1 L302.3,144.0 L302.8,144.3 L303.3,144.8 L303.8,145.3 L304.3,145.9 L304.8,146.3 L305.3,147.1 L305.8,147.4 L306.3,147.9 L306.8,148.3 L307.3,149.1 L307.8,149.7 L308.3,150.3 L308.8,150.8 L309.3,151.3 L309.8,151.5 L310.3,151.6 L310.8,152.1 L311.3,152.5 L311.8,152.9 L312.3,153.1 L312.8,153.6 L313.3,153.6 L313.8,153.8 L314.3,153.9 L314.8,154.2 L315.3,154.3 L315.8,154.8 L316.3,155.1 L316.8,155.3 L317.3,155.8 L317.8,156.0 L318.3,156.2 L318.8,156.3 L319.3,156.4 L319.8,156.6 L320.3,156.7 L320.8,156.6 L321.3,157.0 L321.8,157.2 L322.3,157.2 L322.8,157.7 L323.3,158.0 L323.8,158.0 L324.3,158.4 L324.8,158.7 L325.3,158.7 L325.8,158.9 L326.3,159.1 L326.8,159.1 L327.3,159.4 L327.8,159.7 L328.3,159.6 L328.8,159.7 L329.3,159.9 L329.8,160.0 L330.3,159.9 L330.8,160.1 L331.3,160.6 L331.8,160.8 L332.3,161.1 L332.8,161.4 L333.3,161.9 L333.8,162.1 L334.3,162.4 L334.8,162.5 L335.3,162.7 L335.8,162.6 L336.3,162.5 L336.8,162.9 L337.3,163.1 L337.8,163.2 L338.3,163.6 L338.8,163.9 L339.3,164.0 L339.8,163.9 L340.3,164.1 L340.8,164.3 L341.3,164.5 L341.8,164.6 L342.3,164.7 L342.8,165.0 L343.3,164.8 L343.8,165.0 L344.3,165.1 L344.8,165.4 L345.3,165.4 L345.8,165.6 L346.3,165.4 L346.8,165.4 L347.3,165.1 L347.8,165.1 L348.3,164.8 L348.8,164.7 L349.3,165.0 L349.8,165.2 L350.3,165.3 L350.8,165.6 L351.3,165.8 L351.8,165.8 L352.3,165.8 L352.8,165.6 L353.3,165.4 L353.8,165.2 L354.3,164.9 L354.8,164.7 L355.3,164.6 L355.8,164.5 L356.3,164.9 L356.8,165.1 L357.3,165.2 L357.8,165.4 L358.3,165.4 L358.8,165.4 L359.3,165.5 L359.8,165.3 L360.3,165.0 L360.8,165.2 L361.3,165.2 L361.8,165.1 L362.3,165.1 L362.8,165.2 L363.3,164.9 L363.8,164.6 L364.3,164.4 L364.8,164.4 L365.3,164.2 L365.8,164.4 L366.3,164.3 L366.8,164.5 L367.3,164.2 L367.8,164.4 L368.3,164.3 L368.8,164.6 L369.3,164.4 L369.8,164.5 L370.3,164.2 L370.8,164.2 L371.3,163.8 L371.8,163.9 L372.3,163.9 L372.8,163.7 L373.3,163.8 L373.8,163.8 L374.3,163.5 L374.8,163.4 L375.3,163.4 L375.8,163.1 L376.3,163.3 L376.8,163.7 L377.3,163.9 L377.8,164.4 L378.3,164.7 L378.8,164.7 L379.3,164.6 L379.8,164.6 L380.3,164.4 L380.8,164.4 L381.3,164.3 L381.8,164.6 L382.3,164.7 L382.8,165.0 L383.3,165.2 L383.8,165.5 L384.3,165.4 L384.8,165.5 L385.3,165.6 L385.8,165.6 L386.3,165.8 L386.8,166.2 L387.3,166.4 L387.8,166.6 L388.3,166.9 L388.8,167.1 L389.3,167.0 L389.8,167.2 L390.3,167.1 L390.8,167.0 L391.3,166.9 L391.8,167.0 L392.3,166.9 L392.8,167.0 L393.3,167.3 L393.8,167.4 L394.3,167.6 L394.8,167.5 L395.3,167.6 L395.8,167.5 L396.3,167.6 L396.8,167.3 L397.3,167.3 L397.8,167.5 L398.3,167.4 L398.8,167.4 L399.3,167.7 L399.8,167.8 L399.8,174.0 L399.3,173.9 L398.8,173.6 L398.3,173.6 L397.8,173.7 L397.3,173.5 L396.8,173.4 L396.3,173.7 L395.8,173.6 L395.3,173.7 L394.8,173.6 L394.3,173.7 L393.8,173.5 L393.3,173.4 L392.8,173.0 L392.3,173.0 L391.8,173.0 L391.3,172.9 L390.8,173.0 L390.3,173.1 L389.8,173.2 L389.3,173.0 L388.8,173.1 L388.3,172.9 L387.8,172.6 L387.3,172.4 L386.8,172.2 L386.3,171.8 L385.8,171.6 L385.3,171.6 L384.8,171.5 L384.3,171.4 L383.8,171.5 L383.3,171.2 L382.8,171.0 L382.3,170.7 L381.8,170.6 L381.3,170.3 L380.8,170.4 L380.3,170.4 L379.8,170.6 L379.3,170.6 L378.8,170.7 L378.3,170.7 L377.8,170.4 L377.3,169.9 L376.8,169.7 L376.3,169.3 L375.8,169.1 L375.3,169.4 L374.8,169.4 L374.3,169.5 L373.8,169.8 L373.3,169.8 L372.8,169.7 L372.3,169.9 L371.8,169.9 L371.3,169.8 L370.8,170.2 L370.3,170.2 L369.8,170.5 L369.3,170.4 L368.8,170.6 L368.3,170.3 L367.8,170.4 L367.3,170.2 L366.8,170.5 L366.3,170.3 L365.8,170.4 L365.3,170.2 L364.8,170.4 L364.3,170.4 L363.8,170.6 L363.3,170.9 L362.8,171.2 L362.3,171.1 L361.8,171.1 L361.3,171.2 L360.8,171.2 L360.3,171.0 L359.8,171.3 L359.3,171.5 L358.8,171.4 L358.3,171.4 L357.8,171.4 L357.3,171.2 L356.8,171.1 L356.3,170.9 L355.8,170.5 L355.3,170.6 L354.8,170.7 L354.3,170.9 L353.8,171.2 L353.3,171.4 L352.8,171.6 L352.3,171.8 L351.8,171.8 L351.3,171.8 L350.8,171.6 L350.3,171.3 L349.8,171.2 L349.3,171.0 L348.8,170.7 L348.3,170.8 L347.8,171.1 L347.3,171.1 L346.8,171.4 L346.3,171.4 L345.8,171.6 L345.3,171.4 L344.8,171.4 L344.3,171.1 L343.8,171.0 L343.3,170.8 L342.8,171.0 L342.3,170.7 L341.8,170.6 L341.3,170.5 L340.8,170.3 L340.3,170.1 L339.8,169.9 L339.3,170.0 L338.8,169.9 L338.3,169.6 L337.8,169.2 L337.3,169.1 L336.8,168.9 L336.3,168.5 L335.8,168.6 L335.3,168.7 L334.8,168.5 L334.3,168.4 L333.8,168.1 L333.3,167.9 L332.8,167.4 L332.3,167.1 L331.8,166.8 L331.3,166.6 L330.8,166.1 L330.3,165.9 L329.8,166.0 L329.3,165.9 L328.8,165.7 L328.3,165.6 L327.8,165.7 L327.3,165.4 L326.8,165.1 L326.3,165.1 L325.8,164.9 L325.3,164.7 L324.8,164.7 L324.3,164.4 L323.8,164.0 L323.3,164.0 L322.8,163.7 L322.3,163.2 L321.8,163.2 L321.3,163.0 L320.8,162.6 L320.3,162.7 L319.8,162.6 L319.3,162.4 L318.8,162.3 L318.3,162.2 L317.8,162.0 L317.3,161.8 L316.8,161.3 L316.3,161.1 L315.8,160.8 L315.3,160.3 L314.8,160.2 L314.3,159.9 L313.8,159.8 L313.3,159.6 L312.8,159.6 L312.3,159.1 L311.8,158.9 L311.3,158.5 L310.8,158.1 L310.3,157.6 L309.8,157.5 L309.3,157.3 L308.8,156.8 L308.3,156.3 L307.8,155.7 L307.3,155.1 L306.8,154.3 L306.3,153.9 L305.8,153.4 L305.3,153.1 L304.8,152.3 L304.3,151.9 L303.8,151.3 L303.3,150.8 L302.8,150.3 L302.3,150.0 L301.8,149.1 L301.3,148.8 L300.8,148.3 L300.3,147.6 L299.8,147.0 L299.3,146.6 L298.8,145.8 L298.3,145.1 L297.8,144.5 L297.3,143.8 L296.8,143.1 L296.3,142.6 L295.8,142.0 L295.3,141.1 L294.8,140.3 L294.3,139.6 L293.8,138.9 L293.3,138.3 L292.8,137.6 L292.3,137.0 L291.8,136.2 L291.3,135.2 L290.8,134.3 L290.3,133.6 L289.8,132.9 L289.3,132.2 L288.8,131.3 L288.3,130.4 L287.8,129.7 L287.3,128.8 L286.8,127.9 L286.3,127.0 L285.8,126.2 L285.3,125.1 L284.8,124.2 L284.3,123.3 L283.8,122.8 L283.3,122.0 L282.8,121.4 L282.3,120.5 L281.8,119.7 L281.3,118.8 L280.8,117.9 L280.3,117.1 L279.8,116.6 L279.3,115.6 L278.8,114.7 L278.3,113.8 L277.8,112.9 L277.3,112.0 L276.8,111.1 L276.3,110.5 L275.8,109.8 L275.3,109.1 L274.8,108.3 L274.3,107.7 L273.8,107.0 L273.3,106.5 L272.8,105.8 L272.3,105.0 L271.8,104.5 L271.3,103.8 L270.8,103.0 L270.3,102.5 L269.8,101.9 L269.3,101.1 L268.8,100.2 L268.3,99.4 L267.8,98.5 L267.3,98.0 L266.8,97.5 L266.3,97.2 L265.8,96.9 L265.3,96.5 L264.8,96.0 L264.3,95.3 L263.8,94.9 L263.3,94.2 L262.8,93.6 L262.3,93.0 L261.8,92.7 L261.3,92.4 L260.8,92.2 L260.3,92.1 L259.8,92.0 L259.3,91.9 L258.8,91.5 L258.3,91.0 L257.8,90.6 L257.3,90.1 L256.8,89.5 L256.3,89.1 L255.8,89.1 L255.3,88.8 L254.8,88.4 L254.3,88.3 L253.8,88.0Z" fill="rgba(190,120,200,0.12)" stroke="none"/><path d="M253.8,82.0 L254.3,82.3 L254.8,82.4 L255.3,82.8 L255.8,83.1 L256.3,83.1 L256.8,83.5 L257.3,84.1 L257.8,84.6 L258.3,85.0 L258.8,85.5 L259.3,85.9 L259.8,86.0 L260.3,86.1 L260.8,86.2 L261.3,86.4 L261.8,86.7 L262.3,87.0 L262.8,87.6 L263.3,88.2 L263.8,88.9 L264.3,89.3 L264.8,90.0 L265.3,90.5 L265.8,90.9 L266.3,91.2 L266.8,91.5 L267.3,92.0 L267.8,92.5 L268.3,93.4 L268.8,94.2 L269.3,95.1 L269.8,95.9 L270.3,96.5 L270.8,97.0 L271.3,97.8 L271.8,98.5 L272.3,99.0 L272.8,99.8 L273.3,100.5 L273.8,101.0 L274.3,101.7 L274.8,102.3 L275.3,103.1 L275.8,103.8 L276.3,104.5 L276.8,105.1 L277.3,106.0 L277.8,106.9 L278.3,107.8 L278.8,108.7 L279.3,109.6 L279.8,110.6 L280.3,111.1 L280.8,111.9 L281.3,112.8 L281.8,113.7 L282.3,114.5 L282.8,115.4 L283.3,116.0 L283.8,116.8 L284.3,117.3 L284.8,118.2 L285.3,119.1 L285.8,120.2 L286.3,121.0 L286.8,121.9 L287.3,122.8 L287.8,123.7 L288.3,124.4 L288.8,125.3 L289.3,126.2 L289.8,126.9 L290.3,127.6 L290.8,128.3 L291.3,129.2 L291.8,130.2 L292.3,131.0 L292.8,131.6 L293.3,132.3 L293.8,132.9 L294.3,133.6 L294.8,134.3 L295.3,135.1 L295.8,136.0 L296.3,136.6 L296.8,137.1 L297.3,137.8 L297.8,138.5 L298.3,139.1 L298.8,139.8 L299.3,140.6 L299.8,141.0 L300.3,141.6 L300.8,142.3 L301.3,142.8 L301.8,143.1 L302.3,144.0 L302.8,144.3 L303.3,144.8 L303.8,145.3 L304.3,145.9 L304.8,146.3 L305.3,147.1 L305.8,147.4 L306.3,147.9 L306.8,148.3 L307.3,149.1 L307.8,149.7 L308.3,150.3 L308.8,150.8 L309.3,151.3 L309.8,151.5 L310.3,151.6 L310.8,152.1 L311.3,152.5 L311.8,152.9 L312.3,153.1 L312.8,153.6 L313.3,153.6 L313.8,153.8 L314.3,153.9 L314.8,154.2 L315.3,154.3 L315.8,154.8 L316.3,155.1 L316.8,155.3 L317.3,155.8 L317.8,156.0 L318.3,156.2 L318.8,156.3 L319.3,156.4 L319.8,156.6 L320.3,156.7 L320.8,156.6 L321.3,157.0 L321.8,157.2 L322.3,157.2 L322.8,157.7 L323.3,158.0 L323.8,158.0 L324.3,158.4 L324.8,158.7 L325.3,158.7 L325.8,158.9 L326.3,159.1 L326.8,159.1 L327.3,159.4 L327.8,159.7 L328.3,159.6 L328.8,159.7 L329.3,159.9 L329.8,160.0 L330.3,159.9 L330.8,160.1 L331.3,160.6 L331.8,160.8 L332.3,161.1 L332.8,161.4 L333.3,161.9 L333.8,162.1 L334.3,162.4 L334.8,162.5 L335.3,162.7 L335.8,162.6 L336.3,162.5 L336.8,162.9 L337.3,163.1 L337.8,163.2 L338.3,163.6 L338.8,163.9 L339.3,164.0 L339.8,163.9 L340.3,164.1 L340.8,164.3 L341.3,164.5 L341.8,164.6 L342.3,164.7 L342.8,165.0 L343.3,164.8 L343.8,165.0 L344.3,165.1 L344.8,165.4 L345.3,165.4 L345.8,165.6 L346.3,165.4 L346.8,165.4 L347.3,165.1 L347.8,165.1 L348.3,164.8 L348.8,164.7 L349.3,165.0 L349.8,165.2 L350.3,165.3 L350.8,165.6 L351.3,165.8 L351.8,165.8 L352.3,165.8 L352.8,165.6 L353.3,165.4 L353.8,165.2 L354.3,164.9 L354.8,164.7 L355.3,164.6 L355.8,164.5 L356.3,164.9 L356.8,165.1 L357.3,165.2 L357.8,165.4 L358.3,165.4 L358.8,165.4 L359.3,165.5 L359.8,165.3 L360.3,165.0 L360.8,165.2 L361.3,165.2 L361.8,165.1 L362.3,165.1 L362.8,165.2 L363.3,164.9 L363.8,164.6 L364.3,164.4 L364.8,164.4 L365.3,164.2 L365.8,164.4 L366.3,164.3 L366.8,164.5 L367.3,164.2 L367.8,164.4 L368.3,164.3 L368.8,164.6 L369.3,164.4 L369.8,164.5 L370.3,164.2 L370.8,164.2 L371.3,163.8 L371.8,163.9 L372.3,163.9 L372.8,163.7 L373.3,163.8 L373.8,163.8 L374.3,163.5 L374.8,163.4 L375.3,163.4 L375.8,163.1 L376.3,163.3 L376.8,163.7 L377.3,163.9 L377.8,164.4 L378.3,164.7 L378.8,164.7 L379.3,164.6 L379.8,164.6 L380.3,164.4 L380.8,164.4 L381.3,164.3 L381.8,164.6 L382.3,164.7 L382.8,165.0 L383.3,165.2 L383.8,165.5 L384.3,165.4 L384.8,165.5 L385.3,165.6 L385.8,165.6 L386.3,165.8 L386.8,166.2 L387.3,166.4 L387.8,166.6 L388.3,166.9 L388.8,167.1 L389.3,167.0 L389.8,167.2 L390.3,167.1 L390.8,167.0 L391.3,166.9 L391.8,167.0 L392.3,166.9 L392.8,167.0 L393.3,167.3 L393.8,167.4 L394.3,167.6 L394.8,167.5 L395.3,167.6 L395.8,167.5 L396.3,167.6 L396.8,167.3 L397.3,167.3 L397.8,167.5 L398.3,167.4 L398.8,167.4 L399.3,167.7 L399.8,167.8M253.8,88.0 L254.3,88.3 L254.8,88.4 L255.3,88.8 L255.8,89.1 L256.3,89.1 L256.8,89.5 L257.3,90.1 L257.8,90.6 L258.3,91.0 L258.8,91.5 L259.3,91.9 L259.8,92.0 L260.3,92.1 L260.8,92.2 L261.3,92.4 L261.8,92.7 L262.3,93.0 L262.8,93.6 L263.3,94.2 L263.8,94.9 L264.3,95.3 L264.8,96.0 L265.3,96.5 L265.8,96.9 L266.3,97.2 L266.8,97.5 L267.3,98.0 L267.8,98.5 L268.3,99.4 L268.8,100.2 L269.3,101.1 L269.8,101.9 L270.3,102.5 L270.8,103.0 L271.3,103.8 L271.8,104.5 L272.3,105.0 L272.8,105.8 L273.3,106.5 L273.8,107.0 L274.3,107.7 L274.8,108.3 L275.3,109.1 L275.8,109.8 L276.3,110.5 L276.8,111.1 L277.3,112.0 L277.8,112.9 L278.3,113.8 L278.8,114.7 L279.3,115.6 L279.8,116.6 L280.3,117.1 L280.8,117.9 L281.3,118.8 L281.8,119.7 L282.3,120.5 L282.8,121.4 L283.3,122.0 L283.8,122.8 L284.3,123.3 L284.8,124.2 L285.3,125.1 L285.8,126.2 L286.3,127.0 L286.8,127.9 L287.3,128.8 L287.8,129.7 L288.3,130.4 L288.8,131.3 L289.3,132.2 L289.8,132.9 L290.3,133.6 L290.8,134.3 L291.3,135.2 L291.8,136.2 L292.3,137.0 L292.8,137.6 L293.3,138.3 L293.8,138.9 L294.3,139.6 L294.8,140.3 L295.3,141.1 L295.8,142.0 L296.3,142.6 L296.8,143.1 L297.3,143.8 L297.8,144.5 L298.3,145.1 L298.8,145.8 L299.3,146.6 L299.8,147.0 L300.3,147.6 L300.8,148.3 L301.3,148.8 L301.8,149.1 L302.3,150.0 L302.8,150.3 L303.3,150.8 L303.8,151.3 L304.3,151.9 L304.8,152.3 L305.3,153.1 L305.8,153.4 L306.3,153.9 L306.8,154.3 L307.3,155.1 L307.8,155.7 L308.3,156.3 L308.8,156.8 L309.3,157.3 L309.8,157.5 L310.3,157.6 L310.8,158.1 L311.3,158.5 L311.8,158.9 L312.3,159.1 L312.8,159.6 L313.3,159.6 L313.8,159.8 L314.3,159.9 L314.8,160.2 L315.3,160.3 L315.8,160.8 L316.3,161.1 L316.8,161.3 L317.3,161.8 L317.8,162.0 L318.3,162.2 L318.8,162.3 L319.3,162.4 L319.8,162.6 L320.3,162.7 L320.8,162.6 L321.3,163.0 L321.8,163.2 L322.3,163.2 L322.8,163.7 L323.3,164.0 L323.8,164.0 L324.3,164.4 L324.8,164.7 L325.3,164.7 L325.8,164.9 L326.3,165.1 L326.8,165.1 L327.3,165.4 L327.8,165.7 L328.3,165.6 L328.8,165.7 L329.3,165.9 L329.8,166.0 L330.3,165.9 L330.8,166.1 L331.3,166.6 L331.8,166.8 L332.3,167.1 L332.8,167.4 L333.3,167.9 L333.8,168.1 L334.3,168.4 L334.8,168.5 L335.3,168.7 L335.8,168.6 L336.3,168.5 L336.8,168.9 L337.3,169.1 L337.8,169.2 L338.3,169.6 L338.8,169.9 L339.3,170.0 L339.8,169.9 L340.3,170.1 L340.8,170.3 L341.3,170.5 L341.8,170.6 L342.3,170.7 L342.8,171.0 L343.3,170.8 L343.8,171.0 L344.3,171.1 L344.8,171.4 L345.3,171.4 L345.8,171.6 L346.3,171.4 L346.8,171.4 L347.3,171.1 L347.8,171.1 L348.3,170.8 L348.8,170.7 L349.3,171.0 L349.8,171.2 L350.3,171.3 L350.8,171.6 L351.3,171.8 L351.8,171.8 L352.3,171.8 L352.8,171.6 L353.3,171.4 L353.8,171.2 L354.3,170.9 L354.8,170.7 L355.3,170.6 L355.8,170.5 L356.3,170.9 L356.8,171.1 L357.3,171.2 L357.8,171.4 L358.3,171.4 L358.8,171.4 L359.3,171.5 L359.8,171.3 L360.3,171.0 L360.8,171.2 L361.3,171.2 L361.8,171.1 L362.3,171.1 L362.8,171.2 L363.3,170.9 L363.8,170.6 L364.3,170.4 L364.8,170.4 L365.3,170.2 L365.8,170.4 L366.3,170.3 L366.8,170.5 L367.3,170.2 L367.8,170.4 L368.3,170.3 L368.8,170.6 L369.3,170.4 L369.8,170.5 L370.3,170.2 L370.8,170.2 L371.3,169.8 L371.8,169.9 L372.3,169.9 L372.8,169.7 L373.3,169.8 L373.8,169.8 L374.3,169.5 L374.8,169.4 L375.3,169.4 L375.8,169.1 L376.3,169.3 L376.8,169.7 L377.3,169.9 L377.8,170.4 L378.3,170.7 L378.8,170.7 L379.3,170.6 L379.8,170.6 L380.3,170.4 L380.8,170.4 L381.3,170.3 L381.8,170.6 L382.3,170.7 L382.8,171.0 L383.3,171.2 L383.8,171.5 L384.3,171.4 L384.8,171.5 L385.3,171.6 L385.8,171.6 L386.3,171.8 L386.8,172.2 L387.3,172.4 L387.8,172.6 L388.3,172.9 L388.8,173.1 L389.3,173.0 L389.8,173.2 L390.3,173.1 L390.8,173.0 L391.3,172.9 L391.8,173.0 L392.3,173.0 L392.8,173.0 L393.3,173.4 L393.8,173.5 L394.3,173.7 L394.8,173.6 L395.3,173.7 L395.8,173.6 L396.3,173.7 L396.8,173.4 L397.3,173.5 L397.8,173.7 L398.3,173.6 L398.8,173.6 L399.3,173.9 L399.8,174.0" fill="none" stroke="rgba(180,110,200,0.3)" stroke-width="0.6"/><path d="M400.5,167.8V174.0M402.5,168.1V174.4M404.5,168.3V174.6M407.5,168.1V174.5M409.5,168.5V174.9M412.5,168.3V174.8M414.5,168.9V175.4M417.5,168.5V175.1M419.5,169.5V176.2M422.5,169.3V176.0M424.5,169.2V176.0M426.5,170.3V177.1M429.5,170.4V177.2M431.5,170.7V177.6M434.5,170.9V177.9M436.5,171.3V178.3M439.5,172.1V179.2M441.5,172.0V179.1M444.5,172.7V179.9M446.5,173.4V180.7M448.5,173.9V181.2M451.5,174.5V181.8M453.5,174.7V182.1M456.5,175.3V182.8M458.5,175.8V183.3M461.5,176.4V183.9M463.5,176.5V184.2M466.5,177.3V185.0M468.5,177.2V184.9M471.5,177.5V185.3M473.5,178.1V185.9M475.5,178.8V186.7M478.5,178.7V186.7M480.5,179.0V187.0M483.5,179.2V187.2M485.5,180.1V188.1M488.5,179.8V187.8M490.5,180.3V188.3M493.5,181.2V189.2M495.5,181.2V189.2M497.5,181.6V189.6M500.5,182.1V190.1M502.5,183.3V191.3M505.5,184.1V192.1M507.5,185.9V193.9M510.5,187.6V195.6M512.5,189.7V197.7M515.5,190.5V198.5M517.5,190.1V198.1M520.5,190.4V198.4M522.5,190.1V198.1M524.5,190.0V198.0M527.5,189.5V197.5M529.5,189.8V197.8M532.5,189.3V197.3M534.5,189.6V197.6M537.5,189.8V197.8M539.5,190.7V198.7M542.5,191.0V199.0M544.5,191.4V199.4" stroke="rgba(180,110,200,0.5)" stroke-width="0.75" fill="none" stroke-dasharray="1.3,0.7"/><path d="M253.8,83.1 L254.3,83.6 L254.8,84.1 L255.3,84.6 L255.8,85.1 L256.3,85.6 L256.8,86.1 L257.3,86.7 L257.8,87.2 L258.3,87.9 L258.8,88.5 L259.3,89.0 L259.8,89.5 L260.3,90.0 L260.8,90.1 L261.3,90.5 L261.8,91.3 L262.3,91.7 L262.8,92.3 L263.3,93.0 L263.8,93.3 L264.3,93.7 L264.8,94.0 L265.3,94.5 L265.8,94.9 L266.3,95.3 L266.8,95.5 L267.3,95.9 L267.8,96.2 L268.3,96.4 L268.8,97.1 L269.3,97.8 L269.8,98.3 L270.3,98.7 L270.8,99.3 L271.3,99.5 L271.8,100.0 L272.3,100.3 L272.8,101.0 L273.3,101.5 L273.8,102.2 L274.3,102.5 L274.8,103.4 L275.3,103.8 L275.8,104.5 L276.3,105.2 L276.8,106.2 L277.3,106.8 L277.8,107.5 L278.3,108.3 L278.8,109.3 L279.3,109.9 L279.8,110.6 L280.3,111.5 L280.8,112.0 L281.3,112.8 L281.8,113.8 L282.3,114.7 L282.8,115.4 L283.3,116.7 L283.8,117.7 L284.3,118.5 L284.8,119.6 L285.3,120.8 L285.8,121.6 L286.3,122.7 L286.8,123.5 L287.3,124.6 L287.8,125.5 L288.3,126.7 L288.8,127.6 L289.3,128.9 L289.8,129.8 L290.3,131.0 L290.8,131.9 L291.3,133.1 L291.8,134.1 L292.3,135.0 L292.8,136.0 L293.3,137.2 L293.8,137.8 L294.3,138.4 L294.8,139.6 L295.3,140.5 L295.8,141.0 L296.3,142.0 L296.8,143.1 L297.3,143.6 L297.8,144.3 L298.3,145.1 L298.8,145.8 L299.3,146.4 L299.8,147.2 L300.3,147.6 L300.8,148.5 L301.3,149.1 L301.8,149.7 L302.3,150.1 L302.8,150.7 L303.3,151.2 L303.8,151.9 L304.3,152.6 L304.8,153.6 L305.3,154.4 L305.8,154.9 L306.3,155.2 L306.8,155.7 L307.3,156.2 L307.8,156.8 L308.3,157.5 L308.8,158.0 L309.3,158.3 L309.8,158.7 L310.3,158.8 L310.8,158.8 L311.3,159.0 L311.8,159.0 L312.3,159.0 L312.8,159.4 L313.3,159.8 L313.8,160.0 L314.3,160.3 L314.8,160.6 L315.3,160.8 L315.8,161.2 L316.3,161.7 L316.8,161.9 L317.3,162.1 L317.8,162.2 L318.3,162.5 L318.8,162.7 L319.3,163.1 L319.8,163.6 L320.3,163.7 L320.8,163.9 L321.3,164.0 L321.8,164.2 L322.3,164.3 L322.8,164.7 L323.3,164.7 L323.8,164.9 L324.3,164.9 L324.8,165.2 L325.3,165.3 L325.8,165.4 L326.3,165.6 L326.8,165.9 L327.3,166.0 L327.8,166.2 L328.3,166.6 L328.8,166.9 L329.3,167.2 L329.8,167.3 L330.3,167.6 L330.8,167.9 L331.3,168.0 L331.8,167.9 L332.3,168.0 L332.8,168.1 L333.3,168.3 L333.8,168.6 L334.3,168.9 L334.8,169.3 L335.3,169.3 L335.8,169.3 L336.3,169.6 L336.8,169.7 L337.3,169.9 L337.8,170.4 L338.3,170.6 L338.8,170.5 L339.3,170.7 L339.8,170.9 L340.3,171.1 L340.8,171.3 L341.3,171.5 L341.8,171.8 L342.3,172.0 L342.8,171.9 L343.3,172.0 L343.8,172.1 L344.3,172.0 L344.8,171.8 L345.3,172.0 L345.8,172.1 L346.3,172.0 L346.8,172.0 L347.3,172.2 L347.8,172.0 L348.3,172.0 L348.8,172.1 L349.3,172.3 L349.8,172.4 L350.3,172.5 L350.8,172.5 L351.3,172.6 L351.8,172.6 L352.3,172.6 L352.8,172.6 L353.3,172.4 L353.8,172.6 L354.3,172.6 L354.8,172.6 L355.3,172.6 L355.8,172.8 L356.3,172.5 L356.8,172.2 L357.3,172.2 L357.8,172.4 L358.3,172.1 L358.8,172.4 L359.3,172.5 L359.8,172.7 L360.3,172.6 L360.8,172.7 L361.3,172.4 L361.8,172.5 L362.3,172.5 L362.8,172.5 L363.3,172.6 L363.8,172.8 L364.3,172.7 L364.8,172.6 L365.3,172.6 L365.8,172.5 L366.3,172.6 L366.8,172.7 L367.3,172.5 L367.8,172.2 L368.3,172.1 L368.8,172.1 L369.3,171.8 L369.8,172.0 L370.3,172.2 L370.8,172.4 L371.3,172.2 L371.8,172.2 L372.3,172.1 L372.8,172.2 L373.3,172.3 L373.8,172.4 L374.3,172.3 L374.8,172.4 L375.3,172.1 L375.8,171.8 L376.3,171.7 L376.8,171.8 L377.3,171.6 L377.8,171.8 L378.3,172.1 L378.8,172.4 L379.3,172.1 L379.8,172.2 L380.3,172.3 L380.8,172.3 L381.3,172.3 L381.8,172.6 L382.3,172.6 L382.8,172.6 L383.3,172.6 L383.8,172.3 L384.3,172.1 L384.8,172.3 L385.3,172.1 L385.8,172.1 L386.3,172.4 L386.8,172.6 L387.3,172.5 L387.8,172.6 L388.3,172.7 L388.8,172.4 L389.3,172.2 L389.8,172.0 L390.3,172.0 L390.8,172.0 L391.3,172.1 L391.8,172.2 L392.3,172.2 L392.8,172.2 L393.3,172.0 L393.8,172.2 L394.3,172.0 L394.8,172.3 L395.3,172.3 L395.8,172.7 L396.3,172.7 L396.8,172.7 L397.3,172.7 L397.8,172.7 L398.3,172.5 L398.8,172.6 L399.3,172.9 L399.8,172.8 L399.8,181.3 L399.3,181.3 L398.8,181.0 L398.3,180.9 L397.8,181.0 L397.3,181.0 L396.8,181.0 L396.3,180.9 L395.8,180.9 L395.3,180.6 L394.8,180.5 L394.3,180.2 L393.8,180.3 L393.3,180.1 L392.8,180.3 L392.3,180.3 L391.8,180.3 L391.3,180.1 L390.8,180.1 L390.3,180.0 L389.8,180.0 L389.3,180.2 L388.8,180.4 L388.3,180.7 L387.8,180.6 L387.3,180.5 L386.8,180.6 L386.3,180.4 L385.8,180.1 L385.3,180.1 L384.8,180.3 L384.3,180.1 L383.8,180.3 L383.3,180.6 L382.8,180.6 L382.3,180.6 L381.8,180.6 L381.3,180.3 L380.8,180.3 L380.3,180.3 L379.8,180.2 L379.3,180.1 L378.8,180.4 L378.3,180.1 L377.8,179.8 L377.3,179.6 L376.8,179.8 L376.3,179.7 L375.8,179.8 L375.3,180.1 L374.8,180.4 L374.3,180.3 L373.8,180.4 L373.3,180.3 L372.8,180.2 L372.3,180.1 L371.8,180.2 L371.3,180.2 L370.8,180.4 L370.3,180.2 L369.8,180.0 L369.3,179.8 L368.8,180.1 L368.3,180.1 L367.8,180.2 L367.3,180.5 L366.8,180.7 L366.3,180.6 L365.8,180.5 L365.3,180.6 L364.8,180.6 L364.3,180.7 L363.8,180.8 L363.3,180.6 L362.8,180.5 L362.3,180.5 L361.8,180.5 L361.3,180.4 L360.8,180.7 L360.3,180.6 L359.8,180.7 L359.3,180.5 L358.8,180.4 L358.3,180.1 L357.8,180.4 L357.3,180.2 L356.8,180.2 L356.3,180.5 L355.8,180.8 L355.3,180.6 L354.8,180.6 L354.3,180.6 L353.8,180.6 L353.3,180.4 L352.8,180.6 L352.3,180.6 L351.8,180.6 L351.3,180.6 L350.8,180.5 L350.3,180.5 L349.8,180.4 L349.3,180.3 L348.8,180.1 L348.3,180.0 L347.8,180.0 L347.3,180.2 L346.8,180.0 L346.3,180.0 L345.8,180.1 L345.3,180.0 L344.8,179.8 L344.3,180.0 L343.8,180.1 L343.3,180.0 L342.8,179.9 L342.3,180.0 L341.8,179.8 L341.3,179.5 L340.8,179.3 L340.3,179.1 L339.8,178.9 L339.3,178.7 L338.8,178.5 L338.3,178.6 L337.8,178.4 L337.3,177.9 L336.8,177.7 L336.3,177.6 L335.8,177.3 L335.3,177.3 L334.8,177.3 L334.3,176.9 L333.8,176.6 L333.3,176.3 L332.8,176.1 L332.3,176.0 L331.8,175.9 L331.3,176.0 L330.8,175.9 L330.3,175.6 L329.8,175.3 L329.3,175.2 L328.8,174.9 L328.3,174.6 L327.8,174.2 L327.3,174.0 L326.8,173.9 L326.3,173.6 L325.8,173.4 L325.3,173.3 L324.8,173.2 L324.3,172.9 L323.8,172.9 L323.3,172.7 L322.8,172.7 L322.3,172.3 L321.8,172.2 L321.3,172.0 L320.8,171.9 L320.3,171.7 L319.8,171.6 L319.3,171.1 L318.8,170.7 L318.3,170.5 L317.8,170.2 L317.3,170.1 L316.8,169.9 L316.3,169.7 L315.8,169.2 L315.3,168.8 L314.8,168.6 L314.3,168.3 L313.8,168.0 L313.3,167.8 L312.8,167.4 L312.3,167.0 L311.8,167.0 L311.3,167.0 L310.8,166.8 L310.3,166.8 L309.8,166.7 L309.3,166.3 L308.8,166.0 L308.3,165.5 L307.8,164.8 L307.3,164.2 L306.8,163.7 L306.3,163.2 L305.8,162.9 L305.3,162.4 L304.8,161.6 L304.3,160.6 L303.8,159.9 L303.3,159.2 L302.8,158.7 L302.3,158.1 L301.8,157.7 L301.3,157.1 L300.8,156.5 L300.3,155.6 L299.8,155.2 L299.3,154.4 L298.8,153.8 L298.3,153.1 L297.8,152.3 L297.3,151.6 L296.8,151.1 L296.3,150.0 L295.8,149.0 L295.3,148.5 L294.8,147.6 L294.3,146.4 L293.8,145.8 L293.3,145.2 L292.8,144.0 L292.3,143.0 L291.8,142.1 L291.3,141.1 L290.8,139.9 L290.3,139.0 L289.8,137.8 L289.3,136.9 L288.8,135.6 L288.3,134.7 L287.8,133.5 L287.3,132.6 L286.8,131.5 L286.3,130.7 L285.8,129.6 L285.3,128.8 L284.8,127.6 L284.3,126.5 L283.8,125.7 L283.3,124.7 L282.8,123.4 L282.3,122.7 L281.8,121.8 L281.3,120.8 L280.8,120.0 L280.3,119.5 L279.8,118.6 L279.3,117.9 L278.8,117.3 L278.3,116.3 L277.8,115.5 L277.3,114.8 L276.8,114.2 L276.3,113.2 L275.8,112.5 L275.3,111.8 L274.8,111.4 L274.3,110.5 L273.8,110.2 L273.3,109.5 L272.8,109.0 L272.3,108.3 L271.8,108.0 L271.3,107.5 L270.8,107.3 L270.3,106.7 L269.8,106.3 L269.3,105.8 L268.8,105.1 L268.3,104.4 L267.8,104.2 L267.3,103.9 L266.8,103.5 L266.3,103.3 L265.8,102.9 L265.3,102.5 L264.8,102.0 L264.3,101.7 L263.8,101.3 L263.3,101.0 L262.8,100.3 L262.3,99.7 L261.8,99.3 L261.3,98.5 L260.8,98.1 L260.3,98.0 L259.8,97.5 L259.3,97.0 L258.8,96.5 L258.3,95.9 L257.8,95.2 L257.3,94.7 L256.8,94.1 L256.3,93.6 L255.8,93.1 L255.3,92.6 L254.8,92.1 L254.3,91.6 L253.8,91.1Z" fill="rgba(200,160,120,0.20)" stroke="none"/><path d="M253.8,83.1 L254.3,83.6 L254.8,84.1 L255.3,84.6 L255.8,85.1 L256.3,85.6 L256.8,86.1 L257.3,86.7 L257.8,87.2 L258.3,87.9 L258.8,88.5 L259.3,89.0 L259.8,89.5 L260.3,90.0 L260.8,90.1 L261.3,90.5 L261.8,91.3 L262.3,91.7 L262.8,92.3 L263.3,93.0 L263.8,93.3 L264.3,93.7 L264.8,94.0 L265.3,94.5 L265.8,94.9 L266.3,95.3 L266.8,95.5 L267.3,95.9 L267.8,96.2 L268.3,96.4 L268.8,97.1 L269.3,97.8 L269.8,98.3 L270.3,98.7 L270.8,99.3 L271.3,99.5 L271.8,100.0 L272.3,100.3 L272.8,101.0 L273.3,101.5 L273.8,102.2 L274.3,102.5 L274.8,103.4 L275.3,103.8 L275.8,104.5 L276.3,105.2 L276.8,106.2 L277.3,106.8 L277.8,107.5 L278.3,108.3 L278.8,109.3 L279.3,109.9 L279.8,110.6 L280.3,111.5 L280.8,112.0 L281.3,112.8 L281.8,113.8 L282.3,114.7 L282.8,115.4 L283.3,116.7 L283.8,117.7 L284.3,118.5 L284.8,119.6 L285.3,120.8 L285.8,121.6 L286.3,122.7 L286.8,123.5 L287.3,124.6 L287.8,125.5 L288.3,126.7 L288.8,127.6 L289.3,128.9 L289.8,129.8 L290.3,131.0 L290.8,131.9 L291.3,133.1 L291.8,134.1 L292.3,135.0 L292.8,136.0 L293.3,137.2 L293.8,137.8 L294.3,138.4 L294.8,139.6 L295.3,140.5 L295.8,141.0 L296.3,142.0 L296.8,143.1 L297.3,143.6 L297.8,144.3 L298.3,145.1 L298.8,145.8 L299.3,146.4 L299.8,147.2 L300.3,147.6 L300.8,148.5 L301.3,149.1 L301.8,149.7 L302.3,150.1 L302.8,150.7 L303.3,151.2 L303.8,151.9 L304.3,152.6 L304.8,153.6 L305.3,154.4 L305.8,154.9 L306.3,155.2 L306.8,155.7 L307.3,156.2 L307.8,156.8 L308.3,157.5 L308.8,158.0 L309.3,158.3 L309.8,158.7 L310.3,158.8 L310.8,158.8 L311.3,159.0 L311.8,159.0 L312.3,159.0 L312.8,159.4 L313.3,159.8 L313.8,160.0 L314.3,160.3 L314.8,160.6 L315.3,160.8 L315.8,161.2 L316.3,161.7 L316.8,161.9 L317.3,162.1 L317.8,162.2 L318.3,162.5 L318.8,162.7 L319.3,163.1 L319.8,163.6 L320.3,163.7 L320.8,163.9 L321.3,164.0 L321.8,164.2 L322.3,164.3 L322.8,164.7 L323.3,164.7 L323.8,164.9 L324.3,164.9 L324.8,165.2 L325.3,165.3 L325.8,165.4 L326.3,165.6 L326.8,165.9 L327.3,166.0 L327.8,166.2 L328.3,166.6 L328.8,166.9 L329.3,167.2 L329.8,167.3 L330.3,167.6 L330.8,167.9 L331.3,168.0 L331.8,167.9 L332.3,168.0 L332.8,168.1 L333.3,168.3 L333.8,168.6 L334.3,168.9 L334.8,169.3 L335.3,169.3 L335.8,169.3 L336.3,169.6 L336.8,169.7 L337.3,169.9 L337.8,170.4 L338.3,170.6 L338.8,170.5 L339.3,170.7 L339.8,170.9 L340.3,171.1 L340.8,171.3 L341.3,171.5 L341.8,171.8 L342.3,172.0 L342.8,171.9 L343.3,172.0 L343.8,172.1 L344.3,172.0 L344.8,171.8 L345.3,172.0 L345.8,172.1 L346.3,172.0 L346.8,172.0 L347.3,172.2 L347.8,172.0 L348.3,172.0 L348.8,172.1 L349.3,172.3 L349.8,172.4 L350.3,172.5 L350.8,172.5 L351.3,172.6 L351.8,172.6 L352.3,172.6 L352.8,172.6 L353.3,172.4 L353.8,172.6 L354.3,172.6 L354.8,172.6 L355.3,172.6 L355.8,172.8 L356.3,172.5 L356.8,172.2 L357.3,172.2 L357.8,172.4 L358.3,172.1 L358.8,172.4 L359.3,172.5 L359.8,172.7 L360.3,172.6 L360.8,172.7 L361.3,172.4 L361.8,172.5 L362.3,172.5 L362.8,172.5 L363.3,172.6 L363.8,172.8 L364.3,172.7 L364.8,172.6 L365.3,172.6 L365.8,172.5 L366.3,172.6 L366.8,172.7 L367.3,172.5 L367.8,172.2 L368.3,172.1 L368.8,172.1 L369.3,171.8 L369.8,172.0 L370.3,172.2 L370.8,172.4 L371.3,172.2 L371.8,172.2 L372.3,172.1 L372.8,172.2 L373.3,172.3 L373.8,172.4 L374.3,172.3 L374.8,172.4 L375.3,172.1 L375.8,171.8 L376.3,171.7 L376.8,171.8 L377.3,171.6 L377.8,171.8 L378.3,172.1 L378.8,172.4 L379.3,172.1 L379.8,172.2 L380.3,172.3 L380.8,172.3 L381.3,172.3 L381.8,172.6 L382.3,172.6 L382.8,172.6 L383.3,172.6 L383.8,172.3 L384.3,172.1 L384.8,172.3 L385.3,172.1 L385.8,172.1 L386.3,172.4 L386.8,172.6 L387.3,172.5 L387.8,172.6 L388.3,172.7 L388.8,172.4 L389.3,172.2 L389.8,172.0 L390.3,172.0 L390.8,172.0 L391.3,172.1 L391.8,172.2 L392.3,172.2 L392.8,172.2 L393.3,172.0 L393.8,172.2 L394.3,172.0 L394.8,172.3 L395.3,172.3 L395.8,172.7 L396.3,172.7 L396.8,172.7 L397.3,172.7 L397.8,172.7 L398.3,172.5 L398.8,172.6 L399.3,172.9 L399.8,172.8M253.8,91.1 L254.3,91.6 L254.8,92.1 L255.3,92.6 L255.8,93.1 L256.3,93.6 L256.8,94.1 L257.3,94.7 L257.8,95.2 L258.3,95.9 L258.8,96.5 L259.3,97.0 L259.8,97.5 L260.3,98.0 L260.8,98.1 L261.3,98.5 L261.8,99.3 L262.3,99.7 L262.8,100.3 L263.3,101.0 L263.8,101.3 L264.3,101.7 L264.8,102.0 L265.3,102.5 L265.8,102.9 L266.3,103.3 L266.8,103.5 L267.3,103.9 L267.8,104.2 L268.3,104.4 L268.8,105.1 L269.3,105.8 L269.8,106.3 L270.3,106.7 L270.8,107.3 L271.3,107.5 L271.8,108.0 L272.3,108.3 L272.8,109.0 L273.3,109.5 L273.8,110.2 L274.3,110.5 L274.8,111.4 L275.3,111.8 L275.8,112.5 L276.3,113.2 L276.8,114.2 L277.3,114.8 L277.8,115.5 L278.3,116.3 L278.8,117.3 L279.3,117.9 L279.8,118.6 L280.3,119.5 L280.8,120.0 L281.3,120.8 L281.8,121.8 L282.3,122.7 L282.8,123.4 L283.3,124.7 L283.8,125.7 L284.3,126.5 L284.8,127.6 L285.3,128.8 L285.8,129.6 L286.3,130.7 L286.8,131.5 L287.3,132.6 L287.8,133.5 L288.3,134.7 L288.8,135.6 L289.3,136.9 L289.8,137.8 L290.3,139.0 L290.8,139.9 L291.3,141.1 L291.8,142.1 L292.3,143.0 L292.8,144.0 L293.3,145.2 L293.8,145.8 L294.3,146.4 L294.8,147.6 L295.3,148.5 L295.8,149.0 L296.3,150.0 L296.8,151.1 L297.3,151.6 L297.8,152.3 L298.3,153.1 L298.8,153.8 L299.3,154.4 L299.8,155.2 L300.3,155.6 L300.8,156.5 L301.3,157.1 L301.8,157.7 L302.3,158.1 L302.8,158.7 L303.3,159.2 L303.8,159.9 L304.3,160.6 L304.8,161.6 L305.3,162.4 L305.8,162.9 L306.3,163.2 L306.8,163.7 L307.3,164.2 L307.8,164.8 L308.3,165.5 L308.8,166.0 L309.3,166.3 L309.8,166.7 L310.3,166.8 L310.8,166.8 L311.3,167.0 L311.8,167.0 L312.3,167.0 L312.8,167.4 L313.3,167.8 L313.8,168.0 L314.3,168.3 L314.8,168.6 L315.3,168.8 L315.8,169.2 L316.3,169.7 L316.8,169.9 L317.3,170.1 L317.8,170.2 L318.3,170.5 L318.8,170.7 L319.3,171.1 L319.8,171.6 L320.3,171.7 L320.8,171.9 L321.3,172.0 L321.8,172.2 L322.3,172.3 L322.8,172.7 L323.3,172.7 L323.8,172.9 L324.3,172.9 L324.8,173.2 L325.3,173.3 L325.8,173.4 L326.3,173.6 L326.8,173.9 L327.3,174.0 L327.8,174.2 L328.3,174.6 L328.8,174.9 L329.3,175.2 L329.8,175.3 L330.3,175.6 L330.8,175.9 L331.3,176.0 L331.8,175.9 L332.3,176.0 L332.8,176.1 L333.3,176.3 L333.8,176.6 L334.3,176.9 L334.8,177.3 L335.3,177.3 L335.8,177.3 L336.3,177.6 L336.8,177.7 L337.3,177.9 L337.8,178.4 L338.3,178.6 L338.8,178.5 L339.3,178.7 L339.8,178.9 L340.3,179.1 L340.8,179.3 L341.3,179.5 L341.8,179.8 L342.3,180.0 L342.8,179.9 L343.3,180.0 L343.8,180.1 L344.3,180.0 L344.8,179.8 L345.3,180.0 L345.8,180.1 L346.3,180.0 L346.8,180.0 L347.3,180.2 L347.8,180.0 L348.3,180.0 L348.8,180.1 L349.3,180.3 L349.8,180.4 L350.3,180.5 L350.8,180.5 L351.3,180.6 L351.8,180.6 L352.3,180.6 L352.8,180.6 L353.3,180.4 L353.8,180.6 L354.3,180.6 L354.8,180.6 L355.3,180.6 L355.8,180.8 L356.3,180.5 L356.8,180.2 L357.3,180.2 L357.8,180.4 L358.3,180.1 L358.8,180.4 L359.3,180.5 L359.8,180.7 L360.3,180.6 L360.8,180.7 L361.3,180.4 L361.8,180.5 L362.3,180.5 L362.8,180.5 L363.3,180.6 L363.8,180.8 L364.3,180.7 L364.8,180.6 L365.3,180.6 L365.8,180.5 L366.3,180.6 L366.8,180.7 L367.3,180.5 L367.8,180.2 L368.3,180.1 L368.8,180.1 L369.3,179.8 L369.8,180.0 L370.3,180.2 L370.8,180.4 L371.3,180.2 L371.8,180.2 L372.3,180.1 L372.8,180.2 L373.3,180.3 L373.8,180.4 L374.3,180.3 L374.8,180.4 L375.3,180.1 L375.8,179.8 L376.3,179.7 L376.8,179.8 L377.3,179.6 L377.8,179.8 L378.3,180.1 L378.8,180.4 L379.3,180.1 L379.8,180.2 L380.3,180.3 L380.8,180.3 L381.3,180.3 L381.8,180.6 L382.3,180.6 L382.8,180.6 L383.3,180.6 L383.8,180.3 L384.3,180.1 L384.8,180.3 L385.3,180.1 L385.8,180.1 L386.3,180.4 L386.8,180.6 L387.3,180.5 L387.8,180.6 L388.3,180.7 L388.8,180.4 L389.3,180.2 L389.8,180.0 L390.3,180.0 L390.8,180.1 L391.3,180.1 L391.8,180.3 L392.3,180.3 L392.8,180.3 L393.3,180.1 L393.8,180.3 L394.3,180.2 L394.8,180.5 L395.3,180.6 L395.8,180.9 L396.3,180.9 L396.8,181.0 L397.3,181.0 L397.8,181.0 L398.3,180.9 L398.8,181.0 L399.3,181.3 L399.8,181.3" fill="none" stroke="rgba(200,160,120,0.4)" stroke-width="0.6"/><path d="M400.5,172.8V181.3M402.5,172.6V181.2M404.5,172.4V181.1M407.5,172.4V181.2M409.5,172.6V181.5M412.5,172.2V181.2M414.5,172.3V181.4M417.5,172.5V181.7M419.5,172.3V181.6M422.5,171.9V181.3M424.5,172.4V182.0M426.5,172.1V181.7M429.5,171.8V181.5M431.5,172.4V182.3M434.5,172.6V182.6M436.5,172.4V182.5M439.5,172.7V182.9M441.5,173.6V183.9M444.5,174.1V184.5M446.5,174.4V184.9M448.5,175.0V185.6M451.5,175.3V186.1M453.5,175.9V186.8M456.5,176.7V187.6M458.5,176.7V187.7M461.5,177.2V188.4M463.5,178.6V189.9M466.5,179.0V190.4M468.5,179.6V191.1M471.5,180.6V192.2M473.5,180.8V192.5M475.5,181.9V193.7M478.5,183.1V195.1M480.5,183.2V195.2M483.5,184.4V196.4M485.5,185.8V197.8M488.5,186.0V198.0M490.5,186.9V198.9M493.5,187.6V199.6M495.5,188.3V200.3M497.5,188.9V200.9M500.5,190.0V202.0M502.5,190.1V202.1M505.5,191.1V203.1M507.5,191.4V203.4M510.5,192.2V204.2M512.5,192.9V204.9M515.5,193.1V205.1M517.5,193.6V205.6M520.5,194.3V206.3M522.5,193.9V205.9M524.5,195.1V207.1M527.5,194.7V206.7M529.5,195.1V207.1M532.5,195.1V207.1M534.5,195.9V207.9M537.5,195.5V207.5M539.5,195.6V207.6M542.5,196.3V208.3M544.5,196.6V208.6" stroke="rgba(200,160,120,0.35)" stroke-width="0.75" fill="none" stroke-dasharray="1.3,0.7"/><path d="M253.8,83.2 L254.3,83.8 L254.8,84.0 L255.3,84.2 L255.8,84.9 L256.3,85.4 L256.8,85.8 L257.3,86.2 L257.8,86.7 L258.3,87.2 L258.8,87.6 L259.3,88.1 L259.8,88.8 L260.3,89.6 L260.8,89.8 L261.3,90.2 L261.8,90.9 L262.3,91.4 L262.8,91.9 L263.3,92.5 L263.8,92.9 L264.3,92.9 L264.8,93.3 L265.3,93.7 L265.8,94.1 L266.3,94.3 L266.8,94.8 L267.3,95.1 L267.8,95.6 L268.3,96.1 L268.8,96.8 L269.3,97.3 L269.8,97.6 L270.3,97.8 L270.8,98.2 L271.3,98.7 L271.8,99.2 L272.3,99.8 L272.8,100.5 L273.3,101.1 L273.8,101.7 L274.3,102.5 L274.8,103.3 L275.3,103.9 L275.8,104.5 L276.3,105.0 L276.8,105.8 L277.3,106.6 L277.8,107.4 L278.3,108.2 L278.8,108.8 L279.3,109.5 L279.8,110.1 L280.3,110.9 L280.8,111.6 L281.3,112.6 L281.8,113.4 L282.3,114.1 L282.8,115.0 L283.3,116.0 L283.8,116.9 L284.3,117.6 L284.8,118.4 L285.3,119.4 L285.8,120.4 L286.3,121.3 L286.8,122.3 L287.3,123.4 L287.8,124.4 L288.3,125.5 L288.8,126.5 L289.3,127.9 L289.8,129.0 L290.3,130.0 L290.8,130.8 L291.3,131.9 L291.8,132.7 L292.3,133.9 L292.8,135.1 L293.3,136.2 L293.8,136.9 L294.3,137.9 L294.8,138.5 L295.3,139.2 L295.8,139.9 L296.3,140.9 L296.8,141.6 L297.3,142.5 L297.8,143.3 L298.3,144.0 L298.8,144.7 L299.3,145.5 L299.8,146.2 L300.3,146.9 L300.8,147.9 L301.3,148.6 L301.8,149.0 L302.3,150.0 L302.8,150.8 L303.3,151.4 L303.8,151.9 L304.3,152.8 L304.8,153.1 L305.3,153.7 L305.8,154.3 L306.3,155.1 L306.8,155.3 L307.3,155.6 L307.8,155.9 L308.3,156.0 L308.8,156.4 L309.3,156.9 L309.8,157.4 L310.3,157.8 L310.8,158.2 L311.3,158.4 L311.8,158.7 L312.3,159.0 L312.8,159.5 L313.3,159.9 L313.8,160.4 L314.3,160.6 L314.8,160.8 L315.3,160.8 L315.8,161.1 L316.3,161.1 L316.8,161.2 L317.3,161.5 L317.8,161.8 L318.3,161.8 L318.8,162.0 L319.3,162.3 L319.8,162.4 L320.3,162.2 L320.8,162.4 L321.3,162.6 L321.8,162.5 L322.3,162.8 L322.8,163.3 L323.3,163.6 L323.8,164.0 L324.3,164.4 L324.8,164.4 L325.3,164.4 L325.8,164.4 L326.3,164.2 L326.8,164.3 L327.3,164.5 L327.8,164.8 L328.3,165.0 L328.8,165.3 L329.3,165.2 L329.8,165.4 L330.3,165.3 L330.8,165.1 L331.3,165.3 L331.8,165.4 L332.3,165.4 L332.8,165.7 L333.3,166.1 L333.8,166.2 L334.3,166.2 L334.8,166.5 L335.3,166.3 L335.8,166.1 L336.3,166.3 L336.8,166.7 L337.3,166.6 L337.8,166.7 L338.3,167.1 L338.8,167.0 L339.3,166.8 L339.8,166.8 L340.3,166.6 L340.8,166.6 L341.3,166.8 L341.8,166.7 L342.3,166.9 L342.8,167.0 L343.3,167.0 L343.8,166.8 L344.3,167.1 L344.8,167.0 L345.3,167.0 L345.8,166.9 L346.3,167.1 L346.8,166.8 L347.3,166.6 L347.8,166.7 L348.3,166.8 L348.8,166.9 L349.3,167.1 L349.8,167.5 L350.3,167.6 L350.8,167.5 L351.3,167.3 L351.8,167.5 L352.3,167.3 L352.8,167.2 L353.3,167.4 L353.8,167.3 L354.3,167.2 L354.8,167.2 L355.3,167.3 L355.8,167.3 L356.3,167.3 L356.8,167.3 L357.3,167.3 L357.8,167.2 L358.3,167.2 L358.8,167.5 L359.3,167.6 L359.8,167.5 L360.3,167.7 L360.8,167.6 L361.3,167.3 L361.8,167.3 L362.3,167.5 L362.8,167.5 L363.3,167.4 L363.8,167.6 L364.3,167.5 L364.8,167.3 L365.3,167.4 L365.8,167.7 L366.3,167.5 L366.8,167.6 L367.3,167.9 L367.8,167.7 L368.3,167.5 L368.8,167.6 L369.3,168.1 L369.8,167.8 L370.3,168.0 L370.8,167.9 L371.3,167.9 L371.8,167.6 L372.3,167.9 L372.8,168.0 L373.3,168.2 L373.8,168.2 L374.3,168.5 L374.8,168.5 L375.3,168.4 L375.8,168.5 L376.3,168.6 L376.8,168.6 L377.3,168.7 L377.8,168.8 L378.3,168.8 L378.8,168.9 L379.3,168.8 L379.8,168.9 L380.3,169.0 L380.8,168.6 L381.3,168.6 L381.8,168.6 L382.3,168.4 L382.8,168.3 L383.3,168.6 L383.8,168.7 L384.3,168.9 L384.8,168.9 L385.3,169.0 L385.8,168.9 L386.3,169.1 L386.8,169.2 L387.3,169.3 L387.8,169.4 L388.3,169.4 L388.8,169.2 L389.3,169.1 L389.8,168.9 L390.3,168.8 L390.8,169.0 L391.3,169.2 L391.8,169.2 L392.3,169.5 L392.8,169.5 L393.3,169.5 L393.8,169.5 L394.3,169.7 L394.8,169.6 L395.3,169.8 L395.8,169.8 L396.3,169.7 L396.8,169.5 L397.3,169.4 L397.8,169.6 L398.3,169.4 L398.8,169.3 L399.3,169.5 L399.8,169.6 L399.8,177.8 L399.3,177.7 L398.8,177.5 L398.3,177.6 L397.8,177.8 L397.3,177.5 L396.8,177.6 L396.3,177.9 L395.8,177.9 L395.3,177.9 L394.8,177.7 L394.3,177.8 L393.8,177.5 L393.3,177.6 L392.8,177.6 L392.3,177.5 L391.8,177.2 L391.3,177.3 L390.8,177.0 L390.3,176.8 L389.8,176.9 L389.3,177.1 L388.8,177.2 L388.3,177.4 L387.8,177.4 L387.3,177.3 L386.8,177.2 L386.3,177.1 L385.8,176.9 L385.3,177.0 L384.8,176.9 L384.3,176.9 L383.8,176.7 L383.3,176.6 L382.8,176.3 L382.3,176.4 L381.8,176.6 L381.3,176.6 L380.8,176.6 L380.3,177.0 L379.8,176.9 L379.3,176.8 L378.8,176.9 L378.3,176.8 L377.8,176.8 L377.3,176.7 L376.8,176.6 L376.3,176.6 L375.8,176.5 L375.3,176.4 L374.8,176.5 L374.3,176.5 L373.8,176.2 L373.3,176.2 L372.8,176.0 L372.3,175.9 L371.8,175.6 L371.3,175.9 L370.8,175.9 L370.3,176.0 L369.8,175.8 L369.3,176.1 L368.8,175.6 L368.3,175.5 L367.8,175.7 L367.3,175.9 L366.8,175.6 L366.3,175.5 L365.8,175.7 L365.3,175.4 L364.8,175.3 L364.3,175.5 L363.8,175.6 L363.3,175.4 L362.8,175.5 L362.3,175.5 L361.8,175.3 L361.3,175.3 L360.8,175.6 L360.3,175.7 L359.8,175.5 L359.3,175.6 L358.8,175.5 L358.3,175.2 L357.8,175.2 L357.3,175.3 L356.8,175.3 L356.3,175.3 L355.8,175.3 L355.3,175.3 L354.8,175.2 L354.3,175.2 L353.8,175.3 L353.3,175.4 L352.8,175.2 L352.3,175.3 L351.8,175.5 L351.3,175.3 L350.8,175.5 L350.3,175.6 L349.8,175.5 L349.3,175.1 L348.8,174.9 L348.3,174.8 L347.8,174.7 L347.3,174.6 L346.8,174.8 L346.3,175.1 L345.8,174.9 L345.3,175.0 L344.8,175.0 L344.3,175.1 L343.8,174.8 L343.3,175.0 L342.8,175.0 L342.3,174.9 L341.8,174.7 L341.3,174.8 L340.8,174.6 L340.3,174.6 L339.8,174.8 L339.3,174.8 L338.8,175.0 L338.3,175.1 L337.8,174.7 L337.3,174.6 L336.8,174.7 L336.3,174.3 L335.8,174.1 L335.3,174.3 L334.8,174.5 L334.3,174.2 L333.8,174.2 L333.3,174.1 L332.8,173.7 L332.3,173.4 L331.8,173.4 L331.3,173.3 L330.8,173.1 L330.3,173.3 L329.8,173.4 L329.3,173.2 L328.8,173.3 L328.3,173.0 L327.8,172.8 L327.3,172.5 L326.8,172.3 L326.3,172.2 L325.8,172.4 L325.3,172.4 L324.8,172.4 L324.3,172.4 L323.8,172.0 L323.3,171.6 L322.8,171.3 L322.3,170.8 L321.8,170.5 L321.3,170.6 L320.8,170.4 L320.3,170.2 L319.8,170.4 L319.3,170.3 L318.8,170.0 L318.3,169.8 L317.8,169.8 L317.3,169.5 L316.8,169.2 L316.3,169.1 L315.8,169.1 L315.3,168.8 L314.8,168.8 L314.3,168.6 L313.8,168.4 L313.3,167.9 L312.8,167.5 L312.3,167.0 L311.8,166.7 L311.3,166.4 L310.8,166.2 L310.3,165.8 L309.8,165.4 L309.3,164.9 L308.8,164.4 L308.3,164.0 L307.8,163.9 L307.3,163.6 L306.8,163.3 L306.3,163.1 L305.8,162.3 L305.3,161.7 L304.8,161.1 L304.3,160.8 L303.8,159.9 L303.3,159.4 L302.8,158.8 L302.3,158.0 L301.8,157.0 L301.3,156.6 L300.8,155.9 L300.3,154.9 L299.8,154.2 L299.3,153.5 L298.8,152.7 L298.3,152.0 L297.8,151.3 L297.3,150.5 L296.8,149.6 L296.3,148.9 L295.8,147.9 L295.3,147.2 L294.8,146.5 L294.3,145.9 L293.8,144.9 L293.3,144.2 L292.8,143.1 L292.3,141.9 L291.8,140.7 L291.3,139.9 L290.8,138.8 L290.3,138.0 L289.8,137.0 L289.3,135.9 L288.8,134.5 L288.3,133.5 L287.8,132.4 L287.3,131.4 L286.8,130.3 L286.3,129.3 L285.8,128.4 L285.3,127.4 L284.8,126.4 L284.3,125.6 L283.8,124.9 L283.3,124.0 L282.8,123.0 L282.3,122.1 L281.8,121.4 L281.3,120.6 L280.8,119.6 L280.3,118.9 L279.8,118.1 L279.3,117.5 L278.8,116.8 L278.3,116.2 L277.8,115.4 L277.3,114.6 L276.8,113.8 L276.3,113.0 L275.8,112.5 L275.3,111.9 L274.8,111.3 L274.3,110.5 L273.8,109.7 L273.3,109.1 L272.8,108.5 L272.3,107.8 L271.8,107.2 L271.3,106.7 L270.8,106.2 L270.3,105.8 L269.8,105.6 L269.3,105.3 L268.8,104.8 L268.3,104.1 L267.8,103.6 L267.3,103.1 L266.8,102.8 L266.3,102.3 L265.8,102.1 L265.3,101.7 L264.8,101.3 L264.3,100.9 L263.8,100.9 L263.3,100.5 L262.8,99.9 L262.3,99.4 L261.8,98.9 L261.3,98.2 L260.8,97.8 L260.3,97.6 L259.8,96.8 L259.3,96.1 L258.8,95.6 L258.3,95.2 L257.8,94.7 L257.3,94.2 L256.8,93.8 L256.3,93.4 L255.8,92.9 L255.3,92.2 L254.8,92.0 L254.3,91.8 L253.8,91.2Z" fill="rgba(255,150,150,0.20)" stroke="none"/><path d="M253.8,83.2 L254.3,83.8 L254.8,84.0 L255.3,84.2 L255.8,84.9 L256.3,85.4 L256.8,85.8 L257.3,86.2 L257.8,86.7 L258.3,87.2 L258.8,87.6 L259.3,88.1 L259.8,88.8 L260.3,89.6 L260.8,89.8 L261.3,90.2 L261.8,90.9 L262.3,91.4 L262.8,91.9 L263.3,92.5 L263.8,92.9 L264.3,92.9 L264.8,93.3 L265.3,93.7 L265.8,94.1 L266.3,94.3 L266.8,94.8 L267.3,95.1 L267.8,95.6 L268.3,96.1 L268.8,96.8 L269.3,97.3 L269.8,97.6 L270.3,97.8 L270.8,98.2 L271.3,98.7 L271.8,99.2 L272.3,99.8 L272.8,100.5 L273.3,101.1 L273.8,101.7 L274.3,102.5 L274.8,103.3 L275.3,103.9 L275.8,104.5 L276.3,105.0 L276.8,105.8 L277.3,106.6 L277.8,107.4 L278.3,108.2 L278.8,108.8 L279.3,109.5 L279.8,110.1 L280.3,110.9 L280.8,111.6 L281.3,112.6 L281.8,113.4 L282.3,114.1 L282.8,115.0 L283.3,116.0 L283.8,116.9 L284.3,117.6 L284.8,118.4 L285.3,119.4 L285.8,120.4 L286.3,121.3 L286.8,122.3 L287.3,123.4 L287.8,124.4 L288.3,125.5 L288.8,126.5 L289.3,127.9 L289.8,129.0 L290.3,130.0 L290.8,130.8 L291.3,131.9 L291.8,132.7 L292.3,133.9 L292.8,135.1 L293.3,136.2 L293.8,136.9 L294.3,137.9 L294.8,138.5 L295.3,139.2 L295.8,139.9 L296.3,140.9 L296.8,141.6 L297.3,142.5 L297.8,143.3 L298.3,144.0 L298.8,144.7 L299.3,145.5 L299.8,146.2 L300.3,146.9 L300.8,147.9 L301.3,148.6 L301.8,149.0 L302.3,150.0 L302.8,150.8 L303.3,151.4 L303.8,151.9 L304.3,152.8 L304.8,153.1 L305.3,153.7 L305.8,154.3 L306.3,155.1 L306.8,155.3 L307.3,155.6 L307.8,155.9 L308.3,156.0 L308.8,156.4 L309.3,156.9 L309.8,157.4 L310.3,157.8 L310.8,158.2 L311.3,158.4 L311.8,158.7 L312.3,159.0 L312.8,159.5 L313.3,159.9 L313.8,160.4 L314.3,160.6 L314.8,160.8 L315.3,160.8 L315.8,161.1 L316.3,161.1 L316.8,161.2 L317.3,161.5 L317.8,161.8 L318.3,161.8 L318.8,162.0 L319.3,162.3 L319.8,162.4 L320.3,162.2 L320.8,162.4 L321.3,162.6 L321.8,162.5 L322.3,162.8 L322.8,163.3 L323.3,163.6 L323.8,164.0 L324.3,164.4 L324.8,164.4 L325.3,164.4 L325.8,164.4 L326.3,164.2 L326.8,164.3 L327.3,164.5 L327.8,164.8 L328.3,165.0 L328.8,165.3 L329.3,165.2 L329.8,165.4 L330.3,165.3 L330.8,165.1 L331.3,165.3 L331.8,165.4 L332.3,165.4 L332.8,165.7 L333.3,166.1 L333.8,166.2 L334.3,166.2 L334.8,166.5 L335.3,166.3 L335.8,166.1 L336.3,166.3 L336.8,166.7 L337.3,166.6 L337.8,166.7 L338.3,167.1 L338.8,167.0 L339.3,166.8 L339.8,166.8 L340.3,166.6 L340.8,166.6 L341.3,166.8 L341.8,166.7 L342.3,166.9 L342.8,167.0 L343.3,167.0 L343.8,166.8 L344.3,167.1 L344.8,167.0 L345.3,167.0 L345.8,166.9 L346.3,167.1 L346.8,166.8 L347.3,166.6 L347.8,166.7 L348.3,166.8 L348.8,166.9 L349.3,167.1 L349.8,167.5 L350.3,167.6 L350.8,167.5 L351.3,167.3 L351.8,167.5 L352.3,167.3 L352.8,167.2 L353.3,167.4 L353.8,167.3 L354.3,167.2 L354.8,167.2 L355.3,167.3 L355.8,167.3 L356.3,167.3 L356.8,167.3 L357.3,167.3 L357.8,167.2 L358.3,167.2 L358.8,167.5 L359.3,167.6 L359.8,167.5 L360.3,167.7 L360.8,167.6 L361.3,167.3 L361.8,167.3 L362.3,167.5 L362.8,167.5 L363.3,167.4 L363.8,167.6 L364.3,167.5 L364.8,167.3 L365.3,167.4 L365.8,167.7 L366.3,167.5 L366.8,167.6 L367.3,167.9 L367.8,167.7 L368.3,167.5 L368.8,167.6 L369.3,168.1 L369.8,167.8 L370.3,168.0 L370.8,167.9 L371.3,167.9 L371.8,167.6 L372.3,167.9 L372.8,168.0 L373.3,168.2 L373.8,168.2 L374.3,168.5 L374.8,168.5 L375.3,168.4 L375.8,168.5 L376.3,168.6 L376.8,168.6 L377.3,168.7 L377.8,168.8 L378.3,168.8 L378.8,168.9 L379.3,168.8 L379.8,168.9 L380.3,169.0 L380.8,168.6 L381.3,168.6 L381.8,168.6 L382.3,168.4 L382.8,168.3 L383.3,168.6 L383.8,168.7 L384.3,168.9 L384.8,168.9 L385.3,169.0 L385.8,168.9 L386.3,169.1 L386.8,169.2 L387.3,169.3 L387.8,169.4 L388.3,169.4 L388.8,169.2 L389.3,169.1 L389.8,168.9 L390.3,168.8 L390.8,169.0 L391.3,169.2 L391.8,169.2 L392.3,169.5 L392.8,169.5 L393.3,169.5 L393.8,169.5 L394.3,169.7 L394.8,169.6 L395.3,169.8 L395.8,169.8 L396.3,169.7 L396.8,169.5 L397.3,169.4 L397.8,169.6 L398.3,169.4 L398.8,169.3 L399.3,169.5 L399.8,169.6M253.8,91.2 L254.3,91.8 L254.8,92.0 L255.3,92.2 L255.8,92.9 L256.3,93.4 L256.8,93.8 L257.3,94.2 L257.8,94.7 L258.3,95.2 L258.8,95.6 L259.3,96.1 L259.8,96.8 L260.3,97.6 L260.8,97.8 L261.3,98.2 L261.8,98.9 L262.3,99.4 L262.8,99.9 L263.3,100.5 L263.8,100.9 L264.3,100.9 L264.8,101.3 L265.3,101.7 L265.8,102.1 L266.3,102.3 L266.8,102.8 L267.3,103.1 L267.8,103.6 L268.3,104.1 L268.8,104.8 L269.3,105.3 L269.8,105.6 L270.3,105.8 L270.8,106.2 L271.3,106.7 L271.8,107.2 L272.3,107.8 L272.8,108.5 L273.3,109.1 L273.8,109.7 L274.3,110.5 L274.8,111.3 L275.3,111.9 L275.8,112.5 L276.3,113.0 L276.8,113.8 L277.3,114.6 L277.8,115.4 L278.3,116.2 L278.8,116.8 L279.3,117.5 L279.8,118.1 L280.3,118.9 L280.8,119.6 L281.3,120.6 L281.8,121.4 L282.3,122.1 L282.8,123.0 L283.3,124.0 L283.8,124.9 L284.3,125.6 L284.8,126.4 L285.3,127.4 L285.8,128.4 L286.3,129.3 L286.8,130.3 L287.3,131.4 L287.8,132.4 L288.3,133.5 L288.8,134.5 L289.3,135.9 L289.8,137.0 L290.3,138.0 L290.8,138.8 L291.3,139.9 L291.8,140.7 L292.3,141.9 L292.8,143.1 L293.3,144.2 L293.8,144.9 L294.3,145.9 L294.8,146.5 L295.3,147.2 L295.8,147.9 L296.3,148.9 L296.8,149.6 L297.3,150.5 L297.8,151.3 L298.3,152.0 L298.8,152.7 L299.3,153.5 L299.8,154.2 L300.3,154.9 L300.8,155.9 L301.3,156.6 L301.8,157.0 L302.3,158.0 L302.8,158.8 L303.3,159.4 L303.8,159.9 L304.3,160.8 L304.8,161.1 L305.3,161.7 L305.8,162.3 L306.3,163.1 L306.8,163.3 L307.3,163.6 L307.8,163.9 L308.3,164.0 L308.8,164.4 L309.3,164.9 L309.8,165.4 L310.3,165.8 L310.8,166.2 L311.3,166.4 L311.8,166.7 L312.3,167.0 L312.8,167.5 L313.3,167.9 L313.8,168.4 L314.3,168.6 L314.8,168.8 L315.3,168.8 L315.8,169.1 L316.3,169.1 L316.8,169.2 L317.3,169.5 L317.8,169.8 L318.3,169.8 L318.8,170.0 L319.3,170.3 L319.8,170.4 L320.3,170.2 L320.8,170.4 L321.3,170.6 L321.8,170.5 L322.3,170.8 L322.8,171.3 L323.3,171.6 L323.8,172.0 L324.3,172.4 L324.8,172.4 L325.3,172.4 L325.8,172.4 L326.3,172.2 L326.8,172.3 L327.3,172.5 L327.8,172.8 L328.3,173.0 L328.8,173.3 L329.3,173.2 L329.8,173.4 L330.3,173.3 L330.8,173.1 L331.3,173.3 L331.8,173.4 L332.3,173.4 L332.8,173.7 L333.3,174.1 L333.8,174.2 L334.3,174.2 L334.8,174.5 L335.3,174.3 L335.8,174.1 L336.3,174.3 L336.8,174.7 L337.3,174.6 L337.8,174.7 L338.3,175.1 L338.8,175.0 L339.3,174.8 L339.8,174.8 L340.3,174.6 L340.8,174.6 L341.3,174.8 L341.8,174.7 L342.3,174.9 L342.8,175.0 L343.3,175.0 L343.8,174.8 L344.3,175.1 L344.8,175.0 L345.3,175.0 L345.8,174.9 L346.3,175.1 L346.8,174.8 L347.3,174.6 L347.8,174.7 L348.3,174.8 L348.8,174.9 L349.3,175.1 L349.8,175.5 L350.3,175.6 L350.8,175.5 L351.3,175.3 L351.8,175.5 L352.3,175.3 L352.8,175.2 L353.3,175.4 L353.8,175.3 L354.3,175.2 L354.8,175.2 L355.3,175.3 L355.8,175.3 L356.3,175.3 L356.8,175.3 L357.3,175.3 L357.8,175.2 L358.3,175.2 L358.8,175.5 L359.3,175.6 L359.8,175.5 L360.3,175.7 L360.8,175.6 L361.3,175.3 L361.8,175.3 L362.3,175.5 L362.8,175.5 L363.3,175.4 L363.8,175.6 L364.3,175.5 L364.8,175.3 L365.3,175.4 L365.8,175.7 L366.3,175.5 L366.8,175.6 L367.3,175.9 L367.8,175.7 L368.3,175.5 L368.8,175.6 L369.3,176.1 L369.8,175.8 L370.3,176.0 L370.8,175.9 L371.3,175.9 L371.8,175.6 L372.3,175.9 L372.8,176.0 L373.3,176.2 L373.8,176.2 L374.3,176.5 L374.8,176.5 L375.3,176.4 L375.8,176.5 L376.3,176.6 L376.8,176.6 L377.3,176.7 L377.8,176.8 L378.3,176.8 L378.8,176.9 L379.3,176.8 L379.8,176.9 L380.3,177.0 L380.8,176.6 L381.3,176.6 L381.8,176.6 L382.3,176.4 L382.8,176.3 L383.3,176.6 L383.8,176.7 L384.3,176.9 L384.8,176.9 L385.3,177.0 L385.8,176.9 L386.3,177.1 L386.8,177.2 L387.3,177.3 L387.8,177.4 L388.3,177.4 L388.8,177.2 L389.3,177.1 L389.8,176.9 L390.3,176.8 L390.8,177.0 L391.3,177.3 L391.8,177.2 L392.3,177.5 L392.8,177.6 L393.3,177.6 L393.8,177.5 L394.3,177.8 L394.8,177.7 L395.3,177.9 L395.8,177.9 L396.3,177.9 L396.8,177.6 L397.3,177.5 L397.8,177.8 L398.3,177.6 L398.8,177.5 L399.3,177.7 L399.8,177.8" fill="none" stroke="rgba(255,140,140,0.4)" stroke-width="0.6"/><path d="M400.5,169.6V177.8M402.5,170.0V178.3M404.5,170.3V178.6M407.5,169.9V178.3M409.5,170.1V178.5M412.5,170.2V178.7M414.5,170.0V178.6M417.5,170.2V178.8M419.5,170.1V178.8M422.5,170.6V179.3M424.5,170.3V179.0M426.5,170.7V179.5M429.5,170.7V179.6M431.5,170.5V179.4M434.5,170.9V179.9M436.5,171.9V180.9M439.5,171.6V180.7M441.5,171.9V181.0M444.5,172.6V181.8M446.5,172.7V182.0M448.5,173.3V182.6M451.5,173.3V182.6M453.5,174.2V183.6M456.5,174.6V184.0M458.5,175.1V184.6M461.5,175.5V185.1M463.5,176.0V185.6M466.5,176.3V186.0M468.5,177.2V187.0M471.5,178.3V188.1M473.5,178.5V188.3M475.5,179.3V189.2M478.5,180.3V190.3M480.5,181.5V191.5M483.5,182.4V192.4M485.5,183.4V193.4M488.5,184.1V194.1M490.5,184.5V194.5M493.5,185.2V195.2M495.5,185.6V195.6M497.5,186.8V196.8M500.5,187.0V197.0M502.5,187.7V197.7M505.5,188.3V198.3M507.5,189.4V199.4M510.5,189.3V199.3M512.5,189.9V199.9M515.5,190.8V200.8M517.5,190.7V200.7M520.5,191.5V201.5M522.5,191.4V201.4M524.5,192.1V202.1M527.5,192.5V202.5M529.5,192.8V202.8M532.5,192.5V202.5M534.5,193.1V203.1M537.5,193.9V203.9M539.5,194.1V204.1M542.5,193.6V203.6M544.5,194.4V204.4" stroke="rgba(255,150,150,0.35)" stroke-width="0.75" fill="none" stroke-dasharray="1.3,0.7"/><path d="M253.8,83.4 L254.3,84.0 L254.8,84.5 L255.3,84.9 L255.8,85.3 L256.3,85.7 L256.8,85.9 L257.3,86.2 L257.8,86.6 L258.3,87.1 L258.8,87.6 L259.3,88.0 L259.8,88.8 L260.3,89.2 L260.8,89.6 L261.3,90.1 L261.8,90.7 L262.3,91.1 L262.8,91.7 L263.3,92.2 L263.8,92.9 L264.3,93.2 L264.8,93.5 L265.3,93.7 L265.8,94.3 L266.3,94.4 L266.8,94.8 L267.3,95.4 L267.8,95.8 L268.3,95.8 L268.8,96.4 L269.3,96.9 L269.8,97.2 L270.3,97.7 L270.8,98.2 L271.3,98.7 L271.8,99.1 L272.3,99.6 L272.8,100.1 L273.3,100.6 L273.8,101.5 L274.3,102.4 L274.8,103.0 L275.3,103.7 L275.8,104.4 L276.3,104.7 L276.8,105.2 L277.3,106.2 L277.8,106.7 L278.3,107.6 L278.8,108.7 L279.3,109.2 L279.8,109.8 L280.3,110.7 L280.8,111.7 L281.3,112.5 L281.8,113.7 L282.3,114.6 L282.8,115.4 L283.3,116.3 L283.8,117.1 L284.3,117.8 L284.8,118.4 L285.3,119.5 L285.8,120.3 L286.3,121.2 L286.8,122.5 L287.3,123.5 L287.8,124.7 L288.3,125.6 L288.8,126.8 L289.3,127.7 L289.8,128.8 L290.3,129.7 L290.8,130.7 L291.3,131.5 L291.8,132.5 L292.3,133.3 L292.8,134.4 L293.3,135.5 L293.8,136.4 L294.3,137.3 L294.8,138.1 L295.3,138.5 L295.8,139.0 L296.3,139.8 L296.8,140.4 L297.3,141.4 L297.8,142.2 L298.3,143.0 L298.8,143.5 L299.3,144.3 L299.8,144.7 L300.3,145.4 L300.8,145.9 L301.3,146.4 L301.8,146.9 L302.3,147.7 L302.8,148.2 L303.3,148.7 L303.8,149.4 L304.3,149.7 L304.8,150.2 L305.3,150.6 L305.8,151.1 L306.3,151.5 L306.8,151.8 L307.3,152.3 L307.8,152.6 L308.3,153.1 L308.8,153.2 L309.3,153.6 L309.8,153.9 L310.3,154.2 L310.8,154.5 L311.3,154.8 L311.8,155.1 L312.3,155.4 L312.8,155.8 L313.3,156.3 L313.8,156.9 L314.3,157.4 L314.8,157.9 L315.3,158.5 L315.8,158.6 L316.3,158.9 L316.8,159.3 L317.3,159.3 L317.8,159.5 L318.3,159.6 L318.8,159.9 L319.3,160.2 L319.8,160.6 L320.3,160.8 L320.8,161.3 L321.3,161.4 L321.8,161.4 L322.3,161.5 L322.8,161.6 L323.3,161.8 L323.8,162.3 L324.3,162.8 L324.8,163.0 L325.3,163.5 L325.8,163.7 L326.3,163.6 L326.8,163.6 L327.3,163.7 L327.8,163.6 L328.3,163.6 L328.8,164.1 L329.3,164.1 L329.8,164.4 L330.3,164.7 L330.8,165.0 L331.3,164.9 L331.8,165.1 L332.3,165.1 L332.8,165.2 L333.3,165.6 L333.8,165.8 L334.3,166.2 L334.8,166.6 L335.3,167.0 L335.8,167.0 L336.3,167.1 L336.8,167.1 L337.3,167.3 L337.8,167.4 L338.3,167.5 L338.8,167.7 L339.3,168.0 L339.8,168.0 L340.3,168.2 L340.8,168.2 L341.3,168.5 L341.8,168.5 L342.3,168.5 L342.8,168.7 L343.3,168.9 L343.8,169.2 L344.3,169.3 L344.8,169.7 L345.3,169.7 L345.8,169.5 L346.3,169.7 L346.8,169.9 L347.3,170.1 L347.8,170.3 L348.3,170.4 L348.8,170.4 L349.3,170.2 L349.8,170.1 L350.3,170.2 L350.8,170.5 L351.3,170.7 L351.8,170.8 L352.3,170.7 L352.8,170.5 L353.3,170.6 L353.8,170.8 L354.3,170.9 L354.8,171.1 L355.3,171.1 L355.8,170.8 L356.3,170.4 L356.8,170.2 L357.3,170.0 L357.8,170.3 L358.3,170.6 L358.8,170.7 L359.3,170.7 L359.8,170.7 L360.3,170.3 L360.8,170.1 L361.3,170.2 L361.8,170.2 L362.3,170.3 L362.8,170.6 L363.3,170.6 L363.8,170.5 L364.3,170.8 L364.8,170.8 L365.3,170.8 L365.8,170.9 L366.3,171.2 L366.8,170.9 L367.3,170.9 L367.8,171.0 L368.3,171.0 L368.8,171.0 L369.3,171.1 L369.8,171.0 L370.3,170.9 L370.8,170.9 L371.3,170.7 L371.8,170.8 L372.3,171.0 L372.8,171.0 L373.3,171.1 L373.8,171.4 L374.3,171.4 L374.8,171.4 L375.3,171.5 L375.8,171.5 L376.3,171.4 L376.8,171.5 L377.3,171.5 L377.8,171.5 L378.3,171.4 L378.8,171.6 L379.3,171.5 L379.8,171.4 L380.3,171.4 L380.8,171.4 L381.3,171.4 L381.8,171.6 L382.3,171.9 L382.8,171.7 L383.3,171.8 L383.8,171.8 L384.3,171.6 L384.8,171.4 L385.3,171.3 L385.8,171.0 L386.3,170.9 L386.8,170.9 L387.3,171.1 L387.8,171.4 L388.3,171.6 L388.8,171.7 L389.3,171.6 L389.8,171.6 L390.3,171.4 L390.8,171.5 L391.3,171.3 L391.8,171.5 L392.3,171.4 L392.8,171.5 L393.3,171.3 L393.8,171.4 L394.3,171.5 L394.8,171.4 L395.3,171.3 L395.8,171.4 L396.3,171.2 L396.8,171.2 L397.3,171.3 L397.8,171.3 L398.3,171.2 L398.8,171.0 L399.3,170.9 L399.8,170.8 L399.8,180.5 L399.3,180.6 L398.8,180.6 L398.3,180.7 L397.8,180.6 L397.3,180.6 L396.8,180.4 L396.3,180.3 L395.8,180.4 L395.3,180.2 L394.8,180.3 L394.3,180.2 L393.8,180.1 L393.3,179.9 L392.8,180.0 L392.3,179.8 L391.8,179.8 L391.3,179.5 L390.8,179.6 L390.3,179.5 L389.8,179.6 L389.3,179.6 L388.8,179.7 L388.3,179.6 L387.8,179.4 L387.3,179.1 L386.8,178.9 L386.3,178.9 L385.8,179.0 L385.3,179.3 L384.8,179.4 L384.3,179.6 L383.8,179.8 L383.3,179.8 L382.8,179.7 L382.3,179.9 L381.8,179.6 L381.3,179.4 L380.8,179.4 L380.3,179.4 L379.8,179.4 L379.3,179.5 L378.8,179.6 L378.3,179.4 L377.8,179.5 L377.3,179.5 L376.8,179.5 L376.3,179.4 L375.8,179.5 L375.3,179.5 L374.8,179.4 L374.3,179.4 L373.8,179.4 L373.3,179.1 L372.8,179.0 L372.3,179.0 L371.8,178.8 L371.3,178.7 L370.8,178.9 L370.3,178.9 L369.8,179.0 L369.3,179.1 L368.8,179.0 L368.3,179.0 L367.8,179.0 L367.3,178.9 L366.8,178.9 L366.3,179.2 L365.8,178.9 L365.3,178.8 L364.8,178.8 L364.3,178.8 L363.8,178.5 L363.3,178.6 L362.8,178.6 L362.3,178.3 L361.8,178.2 L361.3,178.2 L360.8,178.1 L360.3,178.3 L359.8,178.7 L359.3,178.7 L358.8,178.7 L358.3,178.6 L357.8,178.3 L357.3,178.0 L356.8,178.2 L356.3,178.4 L355.8,178.8 L355.3,179.1 L354.8,179.1 L354.3,178.9 L353.8,178.8 L353.3,178.6 L352.8,178.5 L352.3,178.7 L351.8,178.8 L351.3,178.7 L350.8,178.5 L350.3,178.2 L349.8,178.1 L349.3,178.2 L348.8,178.4 L348.3,178.4 L347.8,178.3 L347.3,178.1 L346.8,177.9 L346.3,177.7 L345.8,177.5 L345.3,177.7 L344.8,177.7 L344.3,177.3 L343.8,177.2 L343.3,176.9 L342.8,176.7 L342.3,176.5 L341.8,176.5 L341.3,176.5 L340.8,176.2 L340.3,176.2 L339.8,176.0 L339.3,176.0 L338.8,175.7 L338.3,175.5 L337.8,175.4 L337.3,175.3 L336.8,175.1 L336.3,175.1 L335.8,175.0 L335.3,175.0 L334.8,174.6 L334.3,174.2 L333.8,173.8 L333.3,173.6 L332.8,173.2 L332.3,173.1 L331.8,173.1 L331.3,172.9 L330.8,173.0 L330.3,172.7 L329.8,172.4 L329.3,172.1 L328.8,172.1 L328.3,171.6 L327.8,171.6 L327.3,171.7 L326.8,171.6 L326.3,171.6 L325.8,171.7 L325.3,171.5 L324.8,171.0 L324.3,170.8 L323.8,170.3 L323.3,169.8 L322.8,169.6 L322.3,169.5 L321.8,169.4 L321.3,169.4 L320.8,169.3 L320.3,168.8 L319.8,168.6 L319.3,168.2 L318.8,167.9 L318.3,167.6 L317.8,167.5 L317.3,167.3 L316.8,167.3 L316.3,166.9 L315.8,166.6 L315.3,166.5 L314.8,165.9 L314.3,165.4 L313.8,164.9 L313.3,164.3 L312.8,163.8 L312.3,163.4 L311.8,163.1 L311.3,162.8 L310.8,162.5 L310.3,162.2 L309.8,161.9 L309.3,161.6 L308.8,161.2 L308.3,161.1 L307.8,160.6 L307.3,160.3 L306.8,159.8 L306.3,159.5 L305.8,159.1 L305.3,158.6 L304.8,158.2 L304.3,157.7 L303.8,157.4 L303.3,156.7 L302.8,156.2 L302.3,155.7 L301.8,154.9 L301.3,154.4 L300.8,153.9 L300.3,153.4 L299.8,152.7 L299.3,152.3 L298.8,151.5 L298.3,151.0 L297.8,150.2 L297.3,149.4 L296.8,148.4 L296.3,147.8 L295.8,147.0 L295.3,146.5 L294.8,146.1 L294.3,145.3 L293.8,144.4 L293.3,143.5 L292.8,142.4 L292.3,141.3 L291.8,140.5 L291.3,139.5 L290.8,138.7 L290.3,137.7 L289.8,136.8 L289.3,135.7 L288.8,134.8 L288.3,133.6 L287.8,132.7 L287.3,131.5 L286.8,130.5 L286.3,129.2 L285.8,128.3 L285.3,127.5 L284.8,126.4 L284.3,125.8 L283.8,125.1 L283.3,124.3 L282.8,123.4 L282.3,122.6 L281.8,121.7 L281.3,120.5 L280.8,119.7 L280.3,118.7 L279.8,117.8 L279.3,117.2 L278.8,116.7 L278.3,115.6 L277.8,114.7 L277.3,114.2 L276.8,113.2 L276.3,112.7 L275.8,112.4 L275.3,111.7 L274.8,111.0 L274.3,110.4 L273.8,109.5 L273.3,108.6 L272.8,108.1 L272.3,107.6 L271.8,107.1 L271.3,106.7 L270.8,106.2 L270.3,105.7 L269.8,105.2 L269.3,104.9 L268.8,104.4 L268.3,103.8 L267.8,103.8 L267.3,103.4 L266.8,102.8 L266.3,102.4 L265.8,102.3 L265.3,101.7 L264.8,101.5 L264.3,101.2 L263.8,100.9 L263.3,100.2 L262.8,99.7 L262.3,99.1 L261.8,98.7 L261.3,98.1 L260.8,97.6 L260.3,97.2 L259.8,96.8 L259.3,96.0 L258.8,95.6 L258.3,95.1 L257.8,94.6 L257.3,94.2 L256.8,93.9 L256.3,93.7 L255.8,93.3 L255.3,92.9 L254.8,92.5 L254.3,92.0 L253.8,91.4Z" fill="rgba(140,230,140,0.20)" stroke="none"/><path d="M253.8,83.4 L254.3,84.0 L254.8,84.5 L255.3,84.9 L255.8,85.3 L256.3,85.7 L256.8,85.9 L257.3,86.2 L257.8,86.6 L258.3,87.1 L258.8,87.6 L259.3,88.0 L259.8,88.8 L260.3,89.2 L260.8,89.6 L261.3,90.1 L261.8,90.7 L262.3,91.1 L262.8,91.7 L263.3,92.2 L263.8,92.9 L264.3,93.2 L264.8,93.5 L265.3,93.7 L265.8,94.3 L266.3,94.4 L266.8,94.8 L267.3,95.4 L267.8,95.8 L268.3,95.8 L268.8,96.4 L269.3,96.9 L269.8,97.2 L270.3,97.7 L270.8,98.2 L271.3,98.7 L271.8,99.1 L272.3,99.6 L272.8,100.1 L273.3,100.6 L273.8,101.5 L274.3,102.4 L274.8,103.0 L275.3,103.7 L275.8,104.4 L276.3,104.7 L276.8,105.2 L277.3,106.2 L277.8,106.7 L278.3,107.6 L278.8,108.7 L279.3,109.2 L279.8,109.8 L280.3,110.7 L280.8,111.7 L281.3,112.5 L281.8,113.7 L282.3,114.6 L282.8,115.4 L283.3,116.3 L283.8,117.1 L284.3,117.8 L284.8,118.4 L285.3,119.5 L285.8,120.3 L286.3,121.2 L286.8,122.5 L287.3,123.5 L287.8,124.7 L288.3,125.6 L288.8,126.8 L289.3,127.7 L289.8,128.8 L290.3,129.7 L290.8,130.7 L291.3,131.5 L291.8,132.5 L292.3,133.3 L292.8,134.4 L293.3,135.5 L293.8,136.4 L294.3,137.3 L294.8,138.1 L295.3,138.5 L295.8,139.0 L296.3,139.8 L296.8,140.4 L297.3,141.4 L297.8,142.2 L298.3,143.0 L298.8,143.5 L299.3,144.3 L299.8,144.7 L300.3,145.4 L300.8,145.9 L301.3,146.4 L301.8,146.9 L302.3,147.7 L302.8,148.2 L303.3,148.7 L303.8,149.4 L304.3,149.7 L304.8,150.2 L305.3,150.6 L305.8,151.1 L306.3,151.5 L306.8,151.8 L307.3,152.3 L307.8,152.6 L308.3,153.1 L308.8,153.2 L309.3,153.6 L309.8,153.9 L310.3,154.2 L310.8,154.5 L311.3,154.8 L311.8,155.1 L312.3,155.4 L312.8,155.8 L313.3,156.3 L313.8,156.9 L314.3,157.4 L314.8,157.9 L315.3,158.5 L315.8,158.6 L316.3,158.9 L316.8,159.3 L317.3,159.3 L317.8,159.5 L318.3,159.6 L318.8,159.9 L319.3,160.2 L319.8,160.6 L320.3,160.8 L320.8,161.3 L321.3,161.4 L321.8,161.4 L322.3,161.5 L322.8,161.6 L323.3,161.8 L323.8,162.3 L324.3,162.8 L324.8,163.0 L325.3,163.5 L325.8,163.7 L326.3,163.6 L326.8,163.6 L327.3,163.7 L327.8,163.6 L328.3,163.6 L328.8,164.1 L329.3,164.1 L329.8,164.4 L330.3,164.7 L330.8,165.0 L331.3,164.9 L331.8,165.1 L332.3,165.1 L332.8,165.2 L333.3,165.6 L333.8,165.8 L334.3,166.2 L334.8,166.6 L335.3,167.0 L335.8,167.0 L336.3,167.1 L336.8,167.1 L337.3,167.3 L337.8,167.4 L338.3,167.5 L338.8,167.7 L339.3,168.0 L339.8,168.0 L340.3,168.2 L340.8,168.2 L341.3,168.5 L341.8,168.5 L342.3,168.5 L342.8,168.7 L343.3,168.9 L343.8,169.2 L344.3,169.3 L344.8,169.7 L345.3,169.7 L345.8,169.5 L346.3,169.7 L346.8,169.9 L347.3,170.1 L347.8,170.3 L348.3,170.4 L348.8,170.4 L349.3,170.2 L349.8,170.1 L350.3,170.2 L350.8,170.5 L351.3,170.7 L351.8,170.8 L352.3,170.7 L352.8,170.5 L353.3,170.6 L353.8,170.8 L354.3,170.9 L354.8,171.1 L355.3,171.1 L355.8,170.8 L356.3,170.4 L356.8,170.2 L357.3,170.0 L357.8,170.3 L358.3,170.6 L358.8,170.7 L359.3,170.7 L359.8,170.7 L360.3,170.3 L360.8,170.1 L361.3,170.2 L361.8,170.2 L362.3,170.3 L362.8,170.6 L363.3,170.6 L363.8,170.5 L364.3,170.8 L364.8,170.8 L365.3,170.8 L365.8,170.9 L366.3,171.2 L366.8,170.9 L367.3,170.9 L367.8,171.0 L368.3,171.0 L368.8,171.0 L369.3,171.1 L369.8,171.0 L370.3,170.9 L370.8,170.9 L371.3,170.7 L371.8,170.8 L372.3,171.0 L372.8,171.0 L373.3,171.1 L373.8,171.4 L374.3,171.4 L374.8,171.4 L375.3,171.5 L375.8,171.5 L376.3,171.4 L376.8,171.5 L377.3,171.5 L377.8,171.5 L378.3,171.4 L378.8,171.6 L379.3,171.5 L379.8,171.4 L380.3,171.4 L380.8,171.4 L381.3,171.4 L381.8,171.6 L382.3,171.9 L382.8,171.7 L383.3,171.8 L383.8,171.8 L384.3,171.6 L384.8,171.4 L385.3,171.3 L385.8,171.0 L386.3,170.9 L386.8,170.9 L387.3,171.1 L387.8,171.4 L388.3,171.6 L388.8,171.7 L389.3,171.6 L389.8,171.6 L390.3,171.4 L390.8,171.5 L391.3,171.3 L391.8,171.5 L392.3,171.4 L392.8,171.5 L393.3,171.3 L393.8,171.4 L394.3,171.5 L394.8,171.4 L395.3,171.3 L395.8,171.4 L396.3,171.2 L396.8,171.2 L397.3,171.3 L397.8,171.3 L398.3,171.2 L398.8,171.0 L399.3,170.9 L399.8,170.8M253.8,91.4 L254.3,92.0 L254.8,92.5 L255.3,92.9 L255.8,93.3 L256.3,93.7 L256.8,93.9 L257.3,94.2 L257.8,94.6 L258.3,95.1 L258.8,95.6 L259.3,96.0 L259.8,96.8 L260.3,97.2 L260.8,97.6 L261.3,98.1 L261.8,98.7 L262.3,99.1 L262.8,99.7 L263.3,100.2 L263.8,100.9 L264.3,101.2 L264.8,101.5 L265.3,101.7 L265.8,102.3 L266.3,102.4 L266.8,102.8 L267.3,103.4 L267.8,103.8 L268.3,103.8 L268.8,104.4 L269.3,104.9 L269.8,105.2 L270.3,105.7 L270.8,106.2 L271.3,106.7 L271.8,107.1 L272.3,107.6 L272.8,108.1 L273.3,108.6 L273.8,109.5 L274.3,110.4 L274.8,111.0 L275.3,111.7 L275.8,112.4 L276.3,112.7 L276.8,113.2 L277.3,114.2 L277.8,114.7 L278.3,115.6 L278.8,116.7 L279.3,117.2 L279.8,117.8 L280.3,118.7 L280.8,119.7 L281.3,120.5 L281.8,121.7 L282.3,122.6 L282.8,123.4 L283.3,124.3 L283.8,125.1 L284.3,125.8 L284.8,126.4 L285.3,127.5 L285.8,128.3 L286.3,129.2 L286.8,130.5 L287.3,131.5 L287.8,132.7 L288.3,133.6 L288.8,134.8 L289.3,135.7 L289.8,136.8 L290.3,137.7 L290.8,138.7 L291.3,139.5 L291.8,140.5 L292.3,141.3 L292.8,142.4 L293.3,143.5 L293.8,144.4 L294.3,145.3 L294.8,146.1 L295.3,146.5 L295.8,147.0 L296.3,147.8 L296.8,148.4 L297.3,149.4 L297.8,150.2 L298.3,151.0 L298.8,151.5 L299.3,152.3 L299.8,152.7 L300.3,153.4 L300.8,153.9 L301.3,154.4 L301.8,154.9 L302.3,155.7 L302.8,156.2 L303.3,156.7 L303.8,157.4 L304.3,157.7 L304.8,158.2 L305.3,158.6 L305.8,159.1 L306.3,159.5 L306.8,159.8 L307.3,160.3 L307.8,160.6 L308.3,161.1 L308.8,161.2 L309.3,161.6 L309.8,161.9 L310.3,162.2 L310.8,162.5 L311.3,162.8 L311.8,163.1 L312.3,163.4 L312.8,163.8 L313.3,164.3 L313.8,164.9 L314.3,165.4 L314.8,165.9 L315.3,166.5 L315.8,166.6 L316.3,166.9 L316.8,167.3 L317.3,167.3 L317.8,167.5 L318.3,167.6 L318.8,167.9 L319.3,168.2 L319.8,168.6 L320.3,168.8 L320.8,169.3 L321.3,169.4 L321.8,169.4 L322.3,169.5 L322.8,169.6 L323.3,169.8 L323.8,170.3 L324.3,170.8 L324.8,171.0 L325.3,171.5 L325.8,171.7 L326.3,171.6 L326.8,171.6 L327.3,171.7 L327.8,171.6 L328.3,171.6 L328.8,172.1 L329.3,172.1 L329.8,172.4 L330.3,172.7 L330.8,173.0 L331.3,172.9 L331.8,173.1 L332.3,173.1 L332.8,173.2 L333.3,173.6 L333.8,173.8 L334.3,174.2 L334.8,174.6 L335.3,175.0 L335.8,175.0 L336.3,175.1 L336.8,175.1 L337.3,175.3 L337.8,175.4 L338.3,175.5 L338.8,175.7 L339.3,176.0 L339.8,176.0 L340.3,176.2 L340.8,176.2 L341.3,176.5 L341.8,176.5 L342.3,176.5 L342.8,176.7 L343.3,176.9 L343.8,177.2 L344.3,177.3 L344.8,177.7 L345.3,177.7 L345.8,177.5 L346.3,177.7 L346.8,177.9 L347.3,178.1 L347.8,178.3 L348.3,178.4 L348.8,178.4 L349.3,178.2 L349.8,178.1 L350.3,178.2 L350.8,178.5 L351.3,178.7 L351.8,178.8 L352.3,178.7 L352.8,178.5 L353.3,178.6 L353.8,178.8 L354.3,178.9 L354.8,179.1 L355.3,179.1 L355.8,178.8 L356.3,178.4 L356.8,178.2 L357.3,178.0 L357.8,178.3 L358.3,178.6 L358.8,178.7 L359.3,178.7 L359.8,178.7 L360.3,178.3 L360.8,178.1 L361.3,178.2 L361.8,178.2 L362.3,178.3 L362.8,178.6 L363.3,178.6 L363.8,178.5 L364.3,178.8 L364.8,178.8 L365.3,178.8 L365.8,178.9 L366.3,179.2 L366.8,178.9 L367.3,178.9 L367.8,179.0 L368.3,179.0 L368.8,179.0 L369.3,179.1 L369.8,179.0 L370.3,178.9 L370.8,178.9 L371.3,178.7 L371.8,178.8 L372.3,179.0 L372.8,179.0 L373.3,179.1 L373.8,179.4 L374.3,179.4 L374.8,179.4 L375.3,179.5 L375.8,179.5 L376.3,179.4 L376.8,179.5 L377.3,179.5 L377.8,179.5 L378.3,179.4 L378.8,179.6 L379.3,179.5 L379.8,179.4 L380.3,179.4 L380.8,179.4 L381.3,179.4 L381.8,179.6 L382.3,179.9 L382.8,179.7 L383.3,179.8 L383.8,179.8 L384.3,179.6 L384.8,179.4 L385.3,179.3 L385.8,179.0 L386.3,178.9 L386.8,178.9 L387.3,179.1 L387.8,179.4 L388.3,179.6 L388.8,179.7 L389.3,179.6 L389.8,179.6 L390.3,179.5 L390.8,179.6 L391.3,179.5 L391.8,179.8 L392.3,179.8 L392.8,180.0 L393.3,179.9 L393.8,180.1 L394.3,180.2 L394.8,180.3 L395.3,180.2 L395.8,180.4 L396.3,180.3 L396.8,180.4 L397.3,180.6 L397.8,180.6 L398.3,180.7 L398.8,180.6 L399.3,180.6 L399.8,180.5" fill="none" stroke="rgba(130,220,130,0.45)" stroke-width="0.6"/><path d="M400.5,170.7V180.5M402.5,170.3V180.5M404.5,170.2V180.9M407.5,169.8V180.9M409.5,169.5V181.1M412.5,169.6V181.5M414.5,169.3V181.7M417.5,168.9V181.7M419.5,169.1V182.3M422.5,168.4V182.1M424.5,168.3V182.5M426.5,168.4V183.0M429.5,168.1V183.1M431.5,167.9V183.3M434.5,168.1V184.0M436.5,168.3V184.6M439.5,168.3V185.1M441.5,168.0V185.2M444.5,169.1V186.7M446.5,169.0V187.1M448.5,168.9V187.4M451.5,169.2V188.1M453.5,169.7V189.1M456.5,170.3V190.1M458.5,170.8V191.1M461.5,171.0V191.7M463.5,171.1V192.2M466.5,172.1V193.6M468.5,172.4V194.4M471.5,173.3V195.7M473.5,173.3V196.1M475.5,174.6V197.9M478.5,175.0V198.7M480.5,175.9V199.9M483.5,177.1V201.1M485.5,177.8V201.8M488.5,178.4V202.4M490.5,179.2V203.2M493.5,179.8V203.8M495.5,180.6V204.6M497.5,181.2V205.2M500.5,181.6V205.6M502.5,182.8V206.8M505.5,182.6V206.6M507.5,183.7V207.7M510.5,184.5V208.5M512.5,184.9V208.9M515.5,185.5V209.5M517.5,185.7V209.7M520.5,186.1V210.1M522.5,186.7V210.7M524.5,186.7V210.7M527.5,187.4V211.4M529.5,187.2V211.2M532.5,187.5V211.5M534.5,187.5V211.5M537.5,187.9V211.9M539.5,188.0V212.0M542.5,188.7V212.7M544.5,188.8V212.8" stroke="rgba(130,220,130,0.5)" stroke-width="0.75" fill="none" stroke-dasharray="1.3,0.7"/><path d="M253.8,81.1 L254.3,81.8 L254.8,82.3 L255.3,82.9 L255.8,83.5 L256.3,83.9 L256.8,84.2 L257.3,85.0 L257.8,85.5 L258.3,86.0 L258.8,86.5 L259.3,87.0 L259.8,87.2 L260.3,87.7 L260.8,88.4 L261.3,88.8 L261.8,89.3 L262.3,89.9 L262.8,90.4 L263.3,90.6 L263.8,91.2 L264.3,91.7 L264.8,92.1 L265.3,92.5 L265.8,93.1 L266.3,93.5 L266.8,94.0 L267.3,94.5 L267.8,95.0 L268.3,95.3 L268.8,95.9 L269.3,96.1 L269.8,96.5 L270.3,97.0 L270.8,97.6 L271.3,98.1 L271.8,98.9 L272.3,99.6 L272.8,100.4 L273.3,100.7 L273.8,101.4 L274.3,101.8 L274.8,102.4 L275.3,102.9 L275.8,103.7 L276.3,104.5 L276.8,105.6 L277.3,106.5 L277.8,107.2 L278.3,107.9 L278.8,108.5 L279.3,109.0 L279.8,109.7 L280.3,110.5 L280.8,111.4 L281.3,112.2 L281.8,113.1 L282.3,114.0 L282.8,115.3 L283.3,116.4 L283.8,117.5 L284.3,118.8 L284.8,120.1 L285.3,120.7 L285.8,121.3 L286.3,122.2 L286.8,123.1 L287.3,124.2 L287.8,125.2 L288.3,126.6 L288.8,127.8 L289.3,128.8 L289.8,129.8 L290.3,131.2 L290.8,132.0 L291.3,133.0 L291.8,134.1 L292.3,135.1 L292.8,135.8 L293.3,137.0 L293.8,137.6 L294.3,138.3 L294.8,139.0 L295.3,139.9 L295.8,140.6 L296.3,141.4 L296.8,142.6 L297.3,143.4 L297.8,144.2 L298.3,144.9 L298.8,145.9 L299.3,146.3 L299.8,147.2 L300.3,147.8 L300.8,148.7 L301.3,149.2 L301.8,150.0 L302.3,150.3 L302.8,151.2 L303.3,151.5 L303.8,152.3 L304.3,152.9 L304.8,153.7 L305.3,154.3 L305.8,155.1 L306.3,155.4 L306.8,156.0 L307.3,156.1 L307.8,156.5 L308.3,157.0 L308.8,157.4 L309.3,157.5 L309.8,158.1 L310.3,158.2 L310.8,158.5 L311.3,159.1 L311.8,159.7 L312.3,159.9 L312.8,160.4 L313.3,160.7 L313.8,161.0 L314.3,161.0 L314.8,161.4 L315.3,161.5 L315.8,161.8 L316.3,161.9 L316.8,162.2 L317.3,162.0 L317.8,162.2 L318.3,162.4 L318.8,162.7 L319.3,163.0 L319.8,163.5 L320.3,163.9 L320.8,164.0 L321.3,164.1 L321.8,164.2 L322.3,164.5 L322.8,164.5 L323.3,164.9 L323.8,165.1 L324.3,165.4 L324.8,165.7 L325.3,166.1 L325.8,166.0 L326.3,166.2 L326.8,166.5 L327.3,166.5 L327.8,166.4 L328.3,166.6 L328.8,167.0 L329.3,166.9 L329.8,167.1 L330.3,167.6 L330.8,167.9 L331.3,168.2 L331.8,168.4 L332.3,168.5 L332.8,168.4 L333.3,168.8 L333.8,168.9 L334.3,169.4 L334.8,169.9 L335.3,170.3 L335.8,170.3 L336.3,170.5 L336.8,170.4 L337.3,170.6 L337.8,170.6 L338.3,170.9 L338.8,171.3 L339.3,171.9 L339.8,172.0 L340.3,172.1 L340.8,172.5 L341.3,172.6 L341.8,172.5 L342.3,172.5 L342.8,172.9 L343.3,173.1 L343.8,173.2 L344.3,173.5 L344.8,173.4 L345.3,173.5 L345.8,173.3 L346.3,173.2 L346.8,173.3 L347.3,173.6 L347.8,173.4 L348.3,173.5 L348.8,173.6 L349.3,173.8 L349.8,173.8 L350.3,173.7 L350.8,173.6 L351.3,173.6 L351.8,173.5 L352.3,173.4 L352.8,173.5 L353.3,173.5 L353.8,173.4 L354.3,173.3 L354.8,173.3 L355.3,173.4 L355.8,173.7 L356.3,173.6 L356.8,173.7 L357.3,173.4 L357.8,173.5 L358.3,173.2 L358.8,173.4 L359.3,173.4 L359.8,173.4 L360.3,173.3 L360.8,173.2 L361.3,173.0 L361.8,172.8 L362.3,172.7 L362.8,172.7 L363.3,172.9 L363.8,173.2 L364.3,173.2 L364.8,173.3 L365.3,173.4 L365.8,173.3 L366.3,173.0 L366.8,173.0 L367.3,173.2 L367.8,173.0 L368.3,173.2 L368.8,173.1 L369.3,173.1 L369.8,172.8 L370.3,172.8 L370.8,172.5 L371.3,172.6 L371.8,172.8 L372.3,173.0 L372.8,173.2 L373.3,173.3 L373.8,173.3 L374.3,173.0 L374.8,173.0 L375.3,172.6 L375.8,172.8 L376.3,172.8 L376.8,172.8 L377.3,172.8 L377.8,172.9 L378.3,172.6 L378.8,172.6 L379.3,172.8 L379.8,173.0 L380.3,173.1 L380.8,173.1 L381.3,173.0 L381.8,172.9 L382.3,172.6 L382.8,172.5 L383.3,172.6 L383.8,172.7 L384.3,172.7 L384.8,173.0 L385.3,173.2 L385.8,173.3 L386.3,173.6 L386.8,173.7 L387.3,173.7 L387.8,173.5 L388.3,173.5 L388.8,173.5 L389.3,173.5 L389.8,173.6 L390.3,173.6 L390.8,173.5 L391.3,173.5 L391.8,173.6 L392.3,173.4 L392.8,173.2 L393.3,173.1 L393.8,172.9 L394.3,172.6 L394.8,172.6 L395.3,172.6 L395.8,172.7 L396.3,172.7 L396.8,173.0 L397.3,173.0 L397.8,172.9 L398.3,173.1 L398.8,173.2 L399.3,173.2 L399.8,173.3 L399.8,185.3 L399.3,185.2 L398.8,185.2 L398.3,185.1 L397.8,184.9 L397.3,185.0 L396.8,185.0 L396.3,184.7 L395.8,184.7 L395.3,184.6 L394.8,184.6 L394.3,184.6 L393.8,184.9 L393.3,185.1 L392.8,185.2 L392.3,185.4 L391.8,185.6 L391.3,185.5 L390.8,185.5 L390.3,185.6 L389.8,185.6 L389.3,185.5 L388.8,185.5 L388.3,185.5 L387.8,185.5 L387.3,185.7 L386.8,185.7 L386.3,185.6 L385.8,185.3 L385.3,185.2 L384.8,185.0 L384.3,184.7 L383.8,184.7 L383.3,184.6 L382.8,184.5 L382.3,184.6 L381.8,184.9 L381.3,185.0 L380.8,185.1 L380.3,185.1 L379.8,185.0 L379.3,184.8 L378.8,184.6 L378.3,184.6 L377.8,184.9 L377.3,184.8 L376.8,184.8 L376.3,184.8 L375.8,184.8 L375.3,184.6 L374.8,185.0 L374.3,185.0 L373.8,185.3 L373.3,185.3 L372.8,185.2 L372.3,185.0 L371.8,184.8 L371.3,184.6 L370.8,184.5 L370.3,184.8 L369.8,184.8 L369.3,185.1 L368.8,185.1 L368.3,185.2 L367.8,185.0 L367.3,185.2 L366.8,185.0 L366.3,185.0 L365.8,185.3 L365.3,185.4 L364.8,185.3 L364.3,185.2 L363.8,185.2 L363.3,184.9 L362.8,184.7 L362.3,184.7 L361.8,184.8 L361.3,185.0 L360.8,185.2 L360.3,185.3 L359.8,185.4 L359.3,185.4 L358.8,185.4 L358.3,185.2 L357.8,185.5 L357.3,185.4 L356.8,185.7 L356.3,185.6 L355.8,185.7 L355.3,185.4 L354.8,185.3 L354.3,185.3 L353.8,185.4 L353.3,185.5 L352.8,185.5 L352.3,185.4 L351.8,185.5 L351.3,185.6 L350.8,185.6 L350.3,185.7 L349.8,185.8 L349.3,185.8 L348.8,185.6 L348.3,185.5 L347.8,185.4 L347.3,185.6 L346.8,185.3 L346.3,185.2 L345.8,185.3 L345.3,185.5 L344.8,185.4 L344.3,185.5 L343.8,185.2 L343.3,185.1 L342.8,184.9 L342.3,184.5 L341.8,184.5 L341.3,184.6 L340.8,184.5 L340.3,184.1 L339.8,184.0 L339.3,183.9 L338.8,183.3 L338.3,182.9 L337.8,182.6 L337.3,182.6 L336.8,182.4 L336.3,182.5 L335.8,182.3 L335.3,182.3 L334.8,181.9 L334.3,181.4 L333.8,180.9 L333.3,180.8 L332.8,180.4 L332.3,180.5 L331.8,180.4 L331.3,180.2 L330.8,179.9 L330.3,179.6 L329.8,179.1 L329.3,178.9 L328.8,179.0 L328.3,178.6 L327.8,178.4 L327.3,178.5 L326.8,178.5 L326.3,178.2 L325.8,178.0 L325.3,178.1 L324.8,177.7 L324.3,177.4 L323.8,177.1 L323.3,176.9 L322.8,176.5 L322.3,176.5 L321.8,176.2 L321.3,176.1 L320.8,176.0 L320.3,175.9 L319.8,175.5 L319.3,175.0 L318.8,174.7 L318.3,174.4 L317.8,174.2 L317.3,174.0 L316.8,174.2 L316.3,173.9 L315.8,173.8 L315.3,173.5 L314.8,173.4 L314.3,173.0 L313.8,173.0 L313.3,172.7 L312.8,172.4 L312.3,171.9 L311.8,171.7 L311.3,171.1 L310.8,170.5 L310.3,170.2 L309.8,170.1 L309.3,169.5 L308.8,169.4 L308.3,169.0 L307.8,168.5 L307.3,168.1 L306.8,168.0 L306.3,167.4 L305.8,167.1 L305.3,166.3 L304.8,165.7 L304.3,164.9 L303.8,164.3 L303.3,163.5 L302.8,163.2 L302.3,162.3 L301.8,162.0 L301.3,161.2 L300.8,160.7 L300.3,159.8 L299.8,159.2 L299.3,158.3 L298.8,157.9 L298.3,156.8 L297.8,156.1 L297.3,155.3 L296.8,154.5 L296.3,153.3 L295.8,152.4 L295.3,151.7 L294.8,150.7 L294.3,150.0 L293.8,149.3 L293.3,148.7 L292.8,147.5 L292.3,146.8 L291.8,145.8 L291.3,144.7 L290.8,143.6 L290.3,142.8 L289.8,141.4 L289.3,140.3 L288.8,139.3 L288.3,138.1 L287.8,136.7 L287.3,135.6 L286.8,134.5 L286.3,133.6 L285.8,132.7 L285.3,132.0 L284.8,131.4 L284.3,130.2 L283.8,128.8 L283.3,127.7 L282.8,126.5 L282.3,125.3 L281.8,124.3 L281.3,123.4 L280.8,122.6 L280.3,121.7 L279.8,120.8 L279.3,120.1 L278.8,119.6 L278.3,119.0 L277.8,118.2 L277.3,117.5 L276.8,116.6 L276.3,115.5 L275.8,114.7 L275.3,113.8 L274.8,113.3 L274.3,112.7 L273.8,112.3 L273.3,111.5 L272.8,111.2 L272.3,110.4 L271.8,109.7 L271.3,108.8 L270.8,108.4 L270.3,107.7 L269.8,107.2 L269.3,106.7 L268.8,106.6 L268.3,105.9 L267.8,105.6 L267.3,105.1 L266.8,104.6 L266.3,104.0 L265.8,103.7 L265.3,103.0 L264.8,102.6 L264.3,102.2 L263.8,101.6 L263.3,101.1 L262.8,100.8 L262.3,100.2 L261.8,99.7 L261.3,99.1 L260.8,98.7 L260.3,98.0 L259.8,97.5 L259.3,97.3 L258.8,96.8 L258.3,96.2 L257.8,95.6 L257.3,95.2 L256.8,94.4 L256.3,94.0 L255.8,93.6 L255.3,93.0 L254.8,92.3 L254.3,91.8 L253.8,91.1Z" fill="rgba(225,195,165,0.32)" stroke="none"/><path d="M253.8,81.1 L254.3,81.8 L254.8,82.3 L255.3,82.9 L255.8,83.5 L256.3,83.9 L256.8,84.2 L257.3,85.0 L257.8,85.5 L258.3,86.0 L258.8,86.5 L259.3,87.0 L259.8,87.2 L260.3,87.7 L260.8,88.4 L261.3,88.8 L261.8,89.3 L262.3,89.9 L262.8,90.4 L263.3,90.6 L263.8,91.2 L264.3,91.7 L264.8,92.1 L265.3,92.5 L265.8,93.1 L266.3,93.5 L266.8,94.0 L267.3,94.5 L267.8,95.0 L268.3,95.3 L268.8,95.9 L269.3,96.1 L269.8,96.5 L270.3,97.0 L270.8,97.6 L271.3,98.1 L271.8,98.9 L272.3,99.6 L272.8,100.4 L273.3,100.7 L273.8,101.4 L274.3,101.8 L274.8,102.4 L275.3,102.9 L275.8,103.7 L276.3,104.5 L276.8,105.6 L277.3,106.5 L277.8,107.2 L278.3,107.9 L278.8,108.5 L279.3,109.0 L279.8,109.7 L280.3,110.5 L280.8,111.4 L281.3,112.2 L281.8,113.1 L282.3,114.0 L282.8,115.3 L283.3,116.4 L283.8,117.5 L284.3,118.8 L284.8,120.1 L285.3,120.7 L285.8,121.3 L286.3,122.2 L286.8,123.1 L287.3,124.2 L287.8,125.2 L288.3,126.6 L288.8,127.8 L289.3,128.8 L289.8,129.8 L290.3,131.2 L290.8,132.0 L291.3,133.0 L291.8,134.1 L292.3,135.1 L292.8,135.8 L293.3,137.0 L293.8,137.6 L294.3,138.3 L294.8,139.0 L295.3,139.9 L295.8,140.6 L296.3,141.4 L296.8,142.6 L297.3,143.4 L297.8,144.2 L298.3,144.9 L298.8,145.9 L299.3,146.3 L299.8,147.2 L300.3,147.8 L300.8,148.7 L301.3,149.2 L301.8,150.0 L302.3,150.3 L302.8,151.2 L303.3,151.5 L303.8,152.3 L304.3,152.9 L304.8,153.7 L305.3,154.3 L305.8,155.1 L306.3,155.4 L306.8,156.0 L307.3,156.1 L307.8,156.5 L308.3,157.0 L308.8,157.4 L309.3,157.5 L309.8,158.1 L310.3,158.2 L310.8,158.5 L311.3,159.1 L311.8,159.7 L312.3,159.9 L312.8,160.4 L313.3,160.7 L313.8,161.0 L314.3,161.0 L314.8,161.4 L315.3,161.5 L315.8,161.8 L316.3,161.9 L316.8,162.2 L317.3,162.0 L317.8,162.2 L318.3,162.4 L318.8,162.7 L319.3,163.0 L319.8,163.5 L320.3,163.9 L320.8,164.0 L321.3,164.1 L321.8,164.2 L322.3,164.5 L322.8,164.5 L323.3,164.9 L323.8,165.1 L324.3,165.4 L324.8,165.7 L325.3,166.1 L325.8,166.0 L326.3,166.2 L326.8,166.5 L327.3,166.5 L327.8,166.4 L328.3,166.6 L328.8,167.0 L329.3,166.9 L329.8,167.1 L330.3,167.6 L330.8,167.9 L331.3,168.2 L331.8,168.4 L332.3,168.5 L332.8,168.4 L333.3,168.8 L333.8,168.9 L334.3,169.4 L334.8,169.9 L335.3,170.3 L335.8,170.3 L336.3,170.5 L336.8,170.4 L337.3,170.6 L337.8,170.6 L338.3,170.9 L338.8,171.3 L339.3,171.9 L339.8,172.0 L340.3,172.1 L340.8,172.5 L341.3,172.6 L341.8,172.5 L342.3,172.5 L342.8,172.9 L343.3,173.1 L343.8,173.2 L344.3,173.5 L344.8,173.4 L345.3,173.5 L345.8,173.3 L346.3,173.2 L346.8,173.3 L347.3,173.6 L347.8,173.4 L348.3,173.5 L348.8,173.6 L349.3,173.8 L349.8,173.8 L350.3,173.7 L350.8,173.6 L351.3,173.6 L351.8,173.5 L352.3,173.4 L352.8,173.5 L353.3,173.5 L353.8,173.4 L354.3,173.3 L354.8,173.3 L355.3,173.4 L355.8,173.7 L356.3,173.6 L356.8,173.7 L357.3,173.4 L357.8,173.5 L358.3,173.2 L358.8,173.4 L359.3,173.4 L359.8,173.4 L360.3,173.3 L360.8,173.2 L361.3,173.0 L361.8,172.8 L362.3,172.7 L362.8,172.7 L363.3,172.9 L363.8,173.2 L364.3,173.2 L364.8,173.3 L365.3,173.4 L365.8,173.3 L366.3,173.0 L366.8,173.0 L367.3,173.2 L367.8,173.0 L368.3,173.2 L368.8,173.1 L369.3,173.1 L369.8,172.8 L370.3,172.8 L370.8,172.5 L371.3,172.6 L371.8,172.8 L372.3,173.0 L372.8,173.2 L373.3,173.3 L373.8,173.3 L374.3,173.0 L374.8,173.0 L375.3,172.6 L375.8,172.8 L376.3,172.8 L376.8,172.8 L377.3,172.8 L377.8,172.9 L378.3,172.6 L378.8,172.6 L379.3,172.8 L379.8,173.0 L380.3,173.1 L380.8,173.1 L381.3,173.0 L381.8,172.9 L382.3,172.6 L382.8,172.5 L383.3,172.6 L383.8,172.7 L384.3,172.7 L384.8,173.0 L385.3,173.2 L385.8,173.3 L386.3,173.6 L386.8,173.7 L387.3,173.7 L387.8,173.5 L388.3,173.5 L388.8,173.5 L389.3,173.5 L389.8,173.6 L390.3,173.6 L390.8,173.5 L391.3,173.5 L391.8,173.6 L392.3,173.4 L392.8,173.2 L393.3,173.1 L393.8,172.9 L394.3,172.6 L394.8,172.6 L395.3,172.6 L395.8,172.7 L396.3,172.7 L396.8,173.0 L397.3,173.0 L397.8,172.9 L398.3,173.1 L398.8,173.2 L399.3,173.2 L399.8,173.3M253.8,91.1 L254.3,91.8 L254.8,92.3 L255.3,93.0 L255.8,93.6 L256.3,94.0 L256.8,94.4 L257.3,95.2 L257.8,95.6 L258.3,96.2 L258.8,96.8 L259.3,97.3 L259.8,97.5 L260.3,98.0 L260.8,98.7 L261.3,99.1 L261.8,99.7 L262.3,100.2 L262.8,100.8 L263.3,101.1 L263.8,101.6 L264.3,102.2 L264.8,102.6 L265.3,103.0 L265.8,103.7 L266.3,104.0 L266.8,104.6 L267.3,105.1 L267.8,105.6 L268.3,105.9 L268.8,106.6 L269.3,106.7 L269.8,107.2 L270.3,107.7 L270.8,108.4 L271.3,108.8 L271.8,109.7 L272.3,110.4 L272.8,111.2 L273.3,111.5 L273.8,112.3 L274.3,112.7 L274.8,113.3 L275.3,113.8 L275.8,114.7 L276.3,115.5 L276.8,116.6 L277.3,117.5 L277.8,118.2 L278.3,119.0 L278.8,119.6 L279.3,120.1 L279.8,120.8 L280.3,121.7 L280.8,122.6 L281.3,123.4 L281.8,124.3 L282.3,125.3 L282.8,126.5 L283.3,127.7 L283.8,128.8 L284.3,130.2 L284.8,131.4 L285.3,132.0 L285.8,132.7 L286.3,133.6 L286.8,134.5 L287.3,135.6 L287.8,136.7 L288.3,138.1 L288.8,139.3 L289.3,140.3 L289.8,141.4 L290.3,142.8 L290.8,143.6 L291.3,144.7 L291.8,145.8 L292.3,146.8 L292.8,147.5 L293.3,148.7 L293.8,149.3 L294.3,150.0 L294.8,150.7 L295.3,151.7 L295.8,152.4 L296.3,153.3 L296.8,154.5 L297.3,155.3 L297.8,156.1 L298.3,156.8 L298.8,157.9 L299.3,158.3 L299.8,159.2 L300.3,159.8 L300.8,160.7 L301.3,161.2 L301.8,162.0 L302.3,162.3 L302.8,163.2 L303.3,163.5 L303.8,164.3 L304.3,164.9 L304.8,165.7 L305.3,166.3 L305.8,167.1 L306.3,167.4 L306.8,168.0 L307.3,168.1 L307.8,168.5 L308.3,169.0 L308.8,169.4 L309.3,169.5 L309.8,170.1 L310.3,170.2 L310.8,170.5 L311.3,171.1 L311.8,171.7 L312.3,171.9 L312.8,172.4 L313.3,172.7 L313.8,173.0 L314.3,173.0 L314.8,173.4 L315.3,173.5 L315.8,173.8 L316.3,173.9 L316.8,174.2 L317.3,174.0 L317.8,174.2 L318.3,174.4 L318.8,174.7 L319.3,175.0 L319.8,175.5 L320.3,175.9 L320.8,176.0 L321.3,176.1 L321.8,176.2 L322.3,176.5 L322.8,176.5 L323.3,176.9 L323.8,177.1 L324.3,177.4 L324.8,177.7 L325.3,178.1 L325.8,178.0 L326.3,178.2 L326.8,178.5 L327.3,178.5 L327.8,178.4 L328.3,178.6 L328.8,179.0 L329.3,178.9 L329.8,179.1 L330.3,179.6 L330.8,179.9 L331.3,180.2 L331.8,180.4 L332.3,180.5 L332.8,180.4 L333.3,180.8 L333.8,180.9 L334.3,181.4 L334.8,181.9 L335.3,182.3 L335.8,182.3 L336.3,182.5 L336.8,182.4 L337.3,182.6 L337.8,182.6 L338.3,182.9 L338.8,183.3 L339.3,183.9 L339.8,184.0 L340.3,184.1 L340.8,184.5 L341.3,184.6 L341.8,184.5 L342.3,184.5 L342.8,184.9 L343.3,185.1 L343.8,185.2 L344.3,185.5 L344.8,185.4 L345.3,185.5 L345.8,185.3 L346.3,185.2 L346.8,185.3 L347.3,185.6 L347.8,185.4 L348.3,185.5 L348.8,185.6 L349.3,185.8 L349.8,185.8 L350.3,185.7 L350.8,185.6 L351.3,185.6 L351.8,185.5 L352.3,185.4 L352.8,185.5 L353.3,185.5 L353.8,185.4 L354.3,185.3 L354.8,185.3 L355.3,185.4 L355.8,185.7 L356.3,185.6 L356.8,185.7 L357.3,185.4 L357.8,185.5 L358.3,185.2 L358.8,185.4 L359.3,185.4 L359.8,185.4 L360.3,185.3 L360.8,185.2 L361.3,185.0 L361.8,184.8 L362.3,184.7 L362.8,184.7 L363.3,184.9 L363.8,185.2 L364.3,185.2 L364.8,185.3 L365.3,185.4 L365.8,185.3 L366.3,185.0 L366.8,185.0 L367.3,185.2 L367.8,185.0 L368.3,185.2 L368.8,185.1 L369.3,185.1 L369.8,184.8 L370.3,184.8 L370.8,184.5 L371.3,184.6 L371.8,184.8 L372.3,185.0 L372.8,185.2 L373.3,185.3 L373.8,185.3 L374.3,185.0 L374.8,185.0 L375.3,184.6 L375.8,184.8 L376.3,184.8 L376.8,184.8 L377.3,184.8 L377.8,184.9 L378.3,184.6 L378.8,184.6 L379.3,184.8 L379.8,185.0 L380.3,185.1 L380.8,185.1 L381.3,185.0 L381.8,184.9 L382.3,184.6 L382.8,184.5 L383.3,184.6 L383.8,184.7 L384.3,184.7 L384.8,185.0 L385.3,185.2 L385.8,185.3 L386.3,185.6 L386.8,185.7 L387.3,185.7 L387.8,185.5 L388.3,185.5 L388.8,185.5 L389.3,185.5 L389.8,185.6 L390.3,185.6 L390.8,185.5 L391.3,185.5 L391.8,185.6 L392.3,185.4 L392.8,185.2 L393.3,185.1 L393.8,184.9 L394.3,184.6 L394.8,184.6 L395.3,184.6 L395.8,184.7 L396.3,184.7 L396.8,185.0 L397.3,185.0 L397.8,184.9 L398.3,185.1 L398.8,185.2 L399.3,185.2 L399.8,185.3" fill="none" stroke="rgba(240,190,150,0.45)" stroke-width="0.6"/><path d="M400.5,170.8V182.8M402.5,170.4V182.4M404.5,170.7V182.7M407.5,171.0V183.0M409.5,171.0V183.0M412.5,170.6V182.6M414.5,170.6V182.6M417.5,170.6V182.6M419.5,170.8V182.8M422.5,170.5V182.5M424.5,170.5V182.5M426.5,170.3V182.3M429.5,170.5V182.5M431.5,170.6V182.6M434.5,170.7V182.7M436.5,171.4V183.4M439.5,171.6V183.6M441.5,172.3V184.3M444.5,172.4V184.4M446.5,172.6V184.6M448.5,173.4V185.4M451.5,173.7V185.7M453.5,174.5V186.5M456.5,174.9V186.9M458.5,176.2V188.2M461.5,177.1V189.1M463.5,177.0V189.0M466.5,177.8V189.8M468.5,178.8V190.8M471.5,179.6V191.6M473.5,180.5V192.5M475.5,181.4V193.4M478.5,182.2V194.2M480.5,182.8V194.8M483.5,184.4V196.4M485.5,185.0V197.0M488.5,185.7V197.7M490.5,186.2V198.2M493.5,186.7V198.7M495.5,188.0V200.0M497.5,188.3V200.3M500.5,189.2V201.2M502.5,189.7V201.7M505.5,190.5V202.5M507.5,191.4V203.4M510.5,191.7V203.7M512.5,192.6V204.6M515.5,192.7V204.7M517.5,193.3V205.3M520.5,193.3V205.3M522.5,193.6V205.6M524.5,194.1V206.1M527.5,194.8V206.8M529.5,194.2V206.2M532.5,195.0V207.0M534.5,195.6V207.6M537.5,195.8V207.8M539.5,195.7V207.7M542.5,195.7V207.7M544.5,196.3V208.3" stroke="rgba(240,190,150,0.4)" stroke-width="0.75" fill="none" stroke-dasharray="1.3,0.7"/>
<path d="M253.8,83.6 L254.3,84.0 L254.8,84.4 L255.3,84.7 L255.8,85.0 L256.3,85.4 L256.8,85.7 L257.3,86.0 L257.8,86.5 L258.3,87.0 L258.8,87.3 L259.3,87.7 L259.8,88.1 L260.3,88.3 L260.8,88.7 L261.3,89.1 L261.8,89.4 L262.3,89.8 L262.8,90.2 L263.3,90.5 L263.8,90.8 L264.3,91.2 L264.8,91.5 L265.3,91.7 L265.8,92.2 L266.3,92.5 L266.8,92.9 L267.3,93.3 L267.8,93.8 L268.3,94.2 L268.8,94.5 L269.3,94.8 L269.8,95.0 L270.3,95.4 L270.8,95.7 L271.3,95.9 L271.8,96.1 L272.3,96.3 L272.8,96.6 L273.3,96.8 L273.8,97.2 L274.3,97.4 L274.8,97.7 L275.3,97.9 L275.8,98.1 L276.3,98.3 L276.8,98.6 L277.3,98.9 L277.8,99.1 L278.3,99.5 L278.8,99.7 L279.3,100.0 L279.8,100.2 L280.3,100.2 L280.8,100.4 L281.3,100.6 L281.8,100.7 L282.3,100.8 L282.8,101.0 L283.3,101.0 L283.8,101.0 L284.3,101.1 L284.8,101.1 L285.3,101.0 L285.8,101.2 L286.3,101.3 L286.8,101.3 L287.3,101.5 L287.8,101.6 L288.3,101.5 L288.8,101.5 L289.3,101.7 L289.8,101.7 L290.3,101.7 L290.8,101.9 L291.3,101.9 L291.8,101.9 L292.3,101.9 L292.8,102.1 L293.3,102.2 L293.8,102.3 L294.3,102.4 L294.8,102.5 L295.3,102.3 L295.8,102.3 L296.3,102.2 L296.8,102.1 L297.3,102.1 L297.8,102.2 L298.3,102.2 L298.8,102.2 L299.3,102.3 L299.8,102.3 L300.3,102.4 L300.8,102.5 L301.3,102.6 L301.8,102.5 L302.3,102.5 L302.8,102.5 L303.3,102.4 L303.8,102.5 L304.3,102.5 L304.8,102.6 L305.3,102.5 L305.8,102.5 L306.3,102.5 L306.8,102.5 L307.3,102.3 L307.8,102.4 L308.3,102.5 L308.8,102.4 L309.3,102.4 L309.8,102.4 L310.3,102.3 L310.8,102.2 L311.3,102.2 L311.8,102.4 L312.3,102.3 L312.8,102.3 L313.3,102.4 L313.8,102.4 L314.3,102.3 L314.8,102.5 L315.3,102.5 L315.8,102.4 L316.3,102.3 L316.8,102.3 L317.3,102.4 L317.8,102.3 L318.3,102.4 L318.8,102.5 L319.3,102.4 L319.8,102.3 L320.3,102.3 L320.8,102.3 L321.3,102.3 L321.8,102.3 L322.3,102.3 L322.8,102.4 L323.3,102.3 L323.8,102.4 L324.3,102.4 L324.8,102.4 L325.3,102.4 L325.8,102.5 L326.3,102.5 L326.8,102.4 L327.3,102.4 L327.8,102.5 L328.3,102.4 L328.8,102.5 L329.3,102.5 L329.8,102.6 L330.3,102.6 L330.8,102.7 L331.3,102.7 L331.8,102.8 L332.3,102.8 L332.8,102.9 L333.3,102.8 L333.8,102.9 L334.3,102.8 L334.8,102.8 L335.3,102.7 L335.8,102.8 L336.3,103.0 L336.8,103.0 L337.3,103.0 L337.8,103.2 L338.3,103.2 L338.8,103.2 L339.3,103.3 L339.8,103.3 L340.3,103.2 L340.8,103.3 L341.3,103.2 L341.8,103.3 L342.3,103.4 L342.8,103.5 L343.3,103.4 L343.8,103.6 L344.3,103.7 L344.8,103.6 L345.3,103.8 L345.8,104.0 L346.3,104.1 L346.8,104.2 L347.3,104.5 L347.8,104.5 L348.3,104.5 L348.8,104.5 L349.3,104.7 L349.8,104.7 L350.3,104.7 L350.8,104.8 L351.3,104.8 L351.8,104.7 L352.3,104.7 L352.8,104.8 L353.3,104.8 L353.8,105.0 L354.3,105.1 L354.8,105.3 L355.3,105.4 L355.8,105.6 L356.3,105.7 L356.8,105.9 L357.3,105.9 L357.8,105.9 L358.3,105.9 L358.8,105.8 L359.3,105.8 L359.8,105.9 L360.3,106.0 L360.8,106.0 L361.3,106.3 L361.8,106.4 L362.3,106.4 L362.8,106.4 L363.3,106.6 L363.8,106.5 L364.3,106.7 L364.8,106.7 L365.3,106.8 L365.8,106.8 L366.3,106.9 L366.8,106.9 L367.3,107.1 L367.8,107.3 L368.3,107.4 L368.8,107.5 L369.3,107.5 L369.8,107.6 L370.3,107.6 L370.8,107.6 L371.3,107.5 L371.8,107.7 L372.3,107.7 L372.8,107.7 L373.3,107.9 L373.8,108.1 L374.3,108.1 L374.8,108.1 L375.3,108.1 L375.8,108.1 L376.3,108.1 L376.8,108.4 L377.3,108.6 L377.8,108.7 L378.3,108.9 L378.8,109.0 L379.3,109.0 L379.8,109.0 L380.3,109.2 L380.8,109.3 L381.3,109.4 L381.8,109.5 L382.3,109.6 L382.8,109.6 L383.3,109.7 L383.8,109.9 L384.3,110.0 L384.8,110.1 L385.3,110.2 L385.8,110.3 L386.3,110.4 L386.8,110.6 L387.3,110.7 L387.8,111.0 L388.3,111.1 L388.8,111.2 L389.3,111.2 L389.8,111.4 L390.3,111.4 L390.8,111.5 L391.3,111.7 L391.8,111.8 L392.3,111.9 L392.8,111.9 L393.3,112.1 L393.8,112.1 L394.3,112.2 L394.8,112.3 L395.3,112.5 L395.8,112.6 L396.3,112.8 L396.8,113.0 L397.3,113.2 L397.8,113.1 L398.3,113.1 L398.8,113.2 L399.3,113.3 L399.8,113.3 L400.3,113.6 L400.8,113.7 L401.3,113.9 L401.8,114.0 L402.3,114.1 L402.8,114.0 L403.3,114.1 L403.8,114.0 L404.3,114.0 L404.8,114.1 L405.3,114.2 L405.8,114.2 L406.3,114.3 L406.8,114.6 L407.3,114.5 L407.8,114.6 L408.3,114.9 L408.8,115.0 L409.3,115.0 L409.8,115.2 L410.3,115.5 L410.8,115.6 L411.3,115.8 L411.8,115.9 L412.3,115.9 L412.8,115.9 L413.3,115.9 L413.8,116.1 L414.3,116.0 L414.8,116.3 L415.3,116.4 L415.8,116.4 L416.3,116.4 L416.8,116.6 L417.3,116.8 L417.8,116.7 L418.3,116.9 L418.8,117.0 L419.3,117.1 L419.8,117.2 L420.3,117.3 L420.8,117.5 L421.3,117.6 L421.8,117.7 L422.3,117.7 L422.8,117.8 L423.3,117.9 L423.8,118.2 L424.3,118.3 L424.8,118.5 L425.3,118.6 L425.8,118.8 L426.3,118.9 L426.8,119.1 L427.3,119.2 L427.8,119.4 L428.3,119.5 L428.8,119.6 L429.3,119.7 L429.8,119.7 L430.3,119.9 L430.8,120.1 L431.3,120.1 L431.8,120.3 L432.3,120.6 L432.8,120.6 L433.3,120.6 L433.8,120.6 L434.3,120.8 L434.8,120.8 L435.3,121.0 L435.8,121.2 L436.3,121.5 L436.8,121.5 L437.3,121.7 L437.8,121.9 L438.3,122.0 L438.8,122.1 L439.3,122.2 L439.8,122.2 L440.3,122.2 L440.8,122.3 L441.3,122.3 L441.8,122.4 L442.3,122.6 L442.8,122.7 L443.3,122.9 L443.8,123.0 L444.3,123.3 L444.8,123.4 L445.3,123.6 L445.8,123.6 L446.3,123.9 L446.8,123.9 L447.3,124.1 L447.8,124.1 L448.3,124.3 L448.8,124.4 L449.3,124.5 L449.8,124.6 L450.3,124.8 L450.8,124.9 L451.3,124.8 L451.8,124.9 L452.3,125.0 L452.8,125.1 L453.3,125.3 L453.8,125.5 L454.3,125.6 L454.8,125.6 L455.3,125.7 L455.8,125.6 L456.3,125.7 L456.8,125.9 L457.3,126.2 L457.8,126.3 L458.3,126.5 L458.8,126.6 L459.3,126.6 L459.8,126.7 L460.3,126.7 L460.8,126.7 L461.3,126.9 L461.8,127.0 L462.3,127.0 L462.8,127.2 L463.3,127.5 L463.8,127.4 L464.3,127.5 L464.8,127.6 L465.3,127.7 L465.8,127.7 L466.3,128.0 L466.8,128.2 L467.3,128.3 L467.8,128.4 L468.3,128.5 L468.8,128.6 L469.3,128.6 L469.8,128.7 L470.3,128.9 L470.8,129.2 L471.3,129.2 L471.8,129.4 L472.3,129.6 L472.8,129.7 L473.3,129.8 L473.8,130.0 L474.3,130.0 L474.8,130.2 L475.3,130.4 L475.8,130.4 L476.3,130.6 L476.8,130.8 L477.3,131.0 L477.8,131.0 L478.3,131.2 L478.8,131.2 L479.3,131.3 L479.8,131.4 L480.3,131.6 L480.8,131.8 L481.3,131.9 L481.8,132.1 L482.3,132.2 L482.8,132.3 L483.3,132.5 L483.8,132.7 L484.3,132.7 L484.8,132.9 L485.3,133.1 L485.8,133.1 L486.3,133.3 L486.8,133.5 L487.3,133.6 L487.8,133.8 L488.3,134.0 L488.8,134.1 L489.3,134.1 L489.8,134.2 L490.3,134.3 L490.8,134.5 L491.3,134.7 L491.8,135.0 L492.3,135.2 L492.8,135.3 L493.3,135.3 L493.8,135.5 L494.3,135.5 L494.8,135.7 L495.3,135.8 L495.8,136.1 L496.3,136.1 L496.8,136.3 L497.3,136.4 L497.8,136.6 L498.3,136.8 L498.8,136.9 L499.3,137.1 L499.8,137.2 L500.3,137.3 L500.8,137.3 L501.3,137.4 L501.8,137.5 L502.3,137.8 L502.8,137.9 L503.3,138.0 L503.8,138.2 L504.3,138.4 L504.8,138.5 L505.3,138.7 L505.8,138.9 L506.3,139.0 L506.8,139.1 L507.3,139.1 L507.8,139.1 L508.3,139.3 L508.8,139.4 L509.3,139.5 L509.8,139.7 L510.3,139.7 L510.8,139.9 L511.3,140.1 L511.8,140.4 L512.3,140.4 L512.8,140.6 L513.3,140.7 L513.8,140.7 L514.3,140.8 L514.8,141.0 L515.3,141.0 L515.8,141.2 L516.3,141.3 L516.8,141.3 L517.3,141.4 L517.8,141.4 L518.3,141.5 L518.8,141.7 L519.3,141.7 L519.8,141.8 L520.3,142.0 L520.8,141.9 L521.3,142.0 L521.8,142.0 L522.3,142.1 L522.8,142.2 L523.3,142.4 L523.8,142.5 L524.3,142.8 L524.8,142.9 L525.3,142.9 L525.8,143.1 L526.3,143.2 L526.8,143.1 L527.3,143.1 L527.8,143.2 L528.3,143.1 L528.8,143.2 L529.3,143.5 L529.8,143.5 L530.3,143.7 L530.8,144.0 L531.3,144.0 L531.8,144.0 L532.3,144.2 L532.8,144.3 L533.3,144.4 L533.8,144.6 L534.3,144.6 L534.8,144.7 L535.3,144.8 L535.8,144.9 L536.3,144.9 L536.8,145.1 L537.3,145.1 L537.8,145.0 L538.3,145.0 L538.8,145.0 L539.3,144.9 L539.8,145.0 L540.3,145.1 L540.8,145.4 L541.3,145.5 L541.8,145.7 L542.3,145.9 L542.8,145.9 L543.3,145.9 L543.8,146.1 L544.3,146.2 L544.8,146.2 L545.3,146.3 L545.8,146.4" stroke="#1a1a1a" stroke-width="1.7" fill="none" stroke-linejoin="round"/><path d="M253.8,83.3 L254.3,83.6 L254.8,83.9 L255.3,84.2 L255.8,84.3 L256.3,84.5 L256.8,84.8 L257.3,85.3 L257.8,85.5 L258.3,85.9 L258.8,86.4 L259.3,86.7 L259.8,86.8 L260.3,87.3 L260.8,87.5 L261.3,87.8 L261.8,88.1 L262.3,88.5 L262.8,88.9 L263.3,89.2 L263.8,89.5 L264.3,90.0 L264.8,90.4 L265.3,90.8 L265.8,91.2 L266.3,91.7 L266.8,92.0 L267.3,92.2 L267.8,92.6 L268.3,93.0 L268.8,93.2 L269.3,93.5 L269.8,93.9 L270.3,94.1 L270.8,94.4 L271.3,94.7 L271.8,94.9 L272.3,95.4 L272.8,95.5 L273.3,96.0 L273.8,96.4 L274.3,97.1 L274.8,97.2 L275.3,97.5 L275.8,97.6 L276.3,98.0 L276.8,98.2 L277.3,98.5 L277.8,98.8 L278.3,99.3 L278.8,99.7 L279.3,100.0 L279.8,100.3 L280.3,100.6 L280.8,100.7 L281.3,100.7 L281.8,100.9 L282.3,101.2 L282.8,101.8 L283.3,102.4 L283.8,102.7 L284.3,103.3 L284.8,103.7 L285.3,104.1 L285.8,104.3 L286.3,104.8 L286.8,104.7 L287.3,104.9 L287.8,105.0 L288.3,105.2 L288.8,105.1 L289.3,105.4 L289.8,105.8 L290.3,105.8 L290.8,105.8 L291.3,106.1 L291.8,106.5 L292.3,106.7 L292.8,106.9 L293.3,107.3 L293.8,107.6 L294.3,107.9 L294.8,107.9 L295.3,108.4 L295.8,108.4 L296.3,108.4 L296.8,108.4 L297.3,108.6 L297.8,108.6 L298.3,108.7 L298.8,108.7 L299.3,109.0 L299.8,109.1 L300.3,109.2 L300.8,109.4 L301.3,109.6 L301.8,109.5 L302.3,109.6 L302.8,109.4 L303.3,109.5 L303.8,109.7 L304.3,110.0 L304.8,109.8 L305.3,109.9 L305.8,110.1 L306.3,110.2 L306.8,110.3 L307.3,110.7 L307.8,110.8 L308.3,110.9 L308.8,111.0 L309.3,110.8 L309.8,110.6 L310.3,110.5 L310.8,110.4 L311.3,110.5 L311.8,110.5 L312.3,110.6 L312.8,110.7 L313.3,110.6 L313.8,110.6 L314.3,110.7 L314.8,110.5 L315.3,110.6 L315.8,110.9 L316.3,111.0 L316.8,110.9 L317.3,111.1 L317.8,111.5 L318.3,111.4 L318.8,111.5 L319.3,111.7 L319.8,112.0 L320.3,111.9 L320.8,112.3 L321.3,112.3 L321.8,112.3 L322.3,112.2 L322.8,112.1 L323.3,112.2 L323.8,112.1 L324.3,112.1 L324.8,112.6 L325.3,112.7 L325.8,112.8 L326.3,112.9 L326.8,113.2 L327.3,113.0 L327.8,113.4 L328.3,113.3 L328.8,113.7 L329.3,113.9 L329.8,114.3 L330.3,114.2 L330.8,114.3 L331.3,114.3 L331.8,114.1 L332.3,114.2 L332.8,114.4 L333.3,114.6 L333.8,114.6 L334.3,114.9 L334.8,114.9 L335.3,115.0 L335.8,114.8 L336.3,115.0 L336.8,115.1 L337.3,115.0 L337.8,115.0 L338.3,115.4 L338.8,115.5 L339.3,115.7 L339.8,116.0 L340.3,116.0 L340.8,115.9 L341.3,116.2 L341.8,116.2 L342.3,116.2 L342.8,116.3 L343.3,116.3 L343.8,116.1 L344.3,116.4 L344.8,116.7 L345.3,117.1 L345.8,117.5 L346.3,117.8 L346.8,117.9 L347.3,117.9 L347.8,117.8 L348.3,117.9 L348.8,118.1 L349.3,118.2 L349.8,118.3 L350.3,118.5 L350.8,118.4 L351.3,118.6 L351.8,118.6 L352.3,118.7 L352.8,118.8 L353.3,118.8 L353.8,118.6 L354.3,118.6 L354.8,118.7 L355.3,118.6 L355.8,118.9 L356.3,119.0 L356.8,119.1 L357.3,119.2 L357.8,119.2 L358.3,119.2 L358.8,119.6 L359.3,119.7 L359.8,119.8 L360.3,119.7 L360.8,119.8 L361.3,119.7 L361.8,119.6 L362.3,119.6 L362.8,120.0 L363.3,120.2 L363.8,120.5 L364.3,121.0 L364.8,121.4 L365.3,121.3 L365.8,121.2 L366.3,121.0 L366.8,120.9 L367.3,120.8 L367.8,121.0 L368.3,121.1 L368.8,121.5 L369.3,121.5 L369.8,121.5 L370.3,121.8 L370.8,122.0 L371.3,121.9 L371.8,122.0 L372.3,122.2 L372.8,122.0 L373.3,121.8 L373.8,122.0 L374.3,122.2 L374.8,122.0 L375.3,122.1 L375.8,122.2 L376.3,122.4 L376.8,122.5 L377.3,122.9 L377.8,123.3 L378.3,123.7 L378.8,123.5 L379.3,123.5 L379.8,123.2 L380.3,123.1 L380.8,122.9 L381.3,123.0 L381.8,123.3 L382.3,123.4 L382.8,123.4 L383.3,123.5 L383.8,123.9 L384.3,123.9 L384.8,124.1 L385.3,124.1 L385.8,124.2 L386.3,124.2 L386.8,124.4 L387.3,124.8 L387.8,125.2 L388.3,125.2 L388.8,125.1 L389.3,125.2 L389.8,125.3 L390.3,125.3 L390.8,125.6 L391.3,125.9 L391.8,125.8 L392.3,125.6 L392.8,125.5 L393.3,125.6 L393.8,125.8 L394.3,126.2 L394.8,126.4 L395.3,126.8 L395.8,127.0 L396.3,127.1 L396.8,127.1 L397.3,127.2 L397.8,127.2 L398.3,127.1 L398.8,126.9 L399.3,127.1 L399.8,127.5 L400.3,127.6 L400.8,127.8 L401.3,128.0 L401.8,128.1 L402.3,128.1 L402.8,128.3 L403.3,128.6 L403.8,128.7 L404.3,128.8 L404.8,128.8 L405.3,128.9 L405.8,129.0 L406.3,129.5 L406.8,129.9 L407.3,130.1 L407.8,130.1 L408.3,130.1 L408.8,130.1 L409.3,130.1 L409.8,130.1 L410.3,130.6 L410.8,130.9 L411.3,130.8 L411.8,131.1 L412.3,131.3 L412.8,131.4 L413.3,131.5 L413.8,132.0 L414.3,132.2 L414.8,132.2 L415.3,132.6 L415.8,132.4 L416.3,132.4 L416.8,132.6 L417.3,132.8 L417.8,132.7 L418.3,133.2 L418.8,133.6 L419.3,133.5 L419.8,133.7 L420.3,133.8 L420.8,133.7 L421.3,133.6 L421.8,134.0 L422.3,134.0 L422.8,134.2 L423.3,134.4 L423.8,134.4 L424.3,134.4 L424.8,134.9 L425.3,135.3 L425.8,135.6 L426.3,136.0 L426.8,136.0 L427.3,136.0 L427.8,136.2 L428.3,136.1 L428.8,136.0 L429.3,136.3 L429.8,136.5 L430.3,136.5 L430.8,136.6 L431.3,136.7 L431.8,137.0 L432.3,137.1 L432.8,137.4 L433.3,137.6 L433.8,138.0 L434.3,138.0 L434.8,138.4 L435.3,138.2 L435.8,138.3 L436.3,138.3 L436.8,138.2 L437.3,138.2 L437.8,138.6 L438.3,139.0 L438.8,138.8 L439.3,139.3 L439.8,139.5 L440.3,139.5 L440.8,139.3 L441.3,139.6 L441.8,139.7 L442.3,139.7 L442.8,139.7 L443.3,139.9 L443.8,139.9 L444.3,139.8 L444.8,140.1 L445.3,140.2 L445.8,140.4 L446.3,140.8 L446.8,141.2 L447.3,141.3 L447.8,141.5 L448.3,141.7 L448.8,141.9 L449.3,141.8 L449.8,141.8 L450.3,141.9 L450.8,141.9 L451.3,141.8 L451.8,142.1 L452.3,142.2 L452.8,142.4 L453.3,142.8 L453.8,143.0 L454.3,143.0 L454.8,143.0 L455.3,143.3 L455.8,143.3 L456.3,143.5 L456.8,143.8 L457.3,144.1 L457.8,143.9 L458.3,144.4 L458.8,144.6 L459.3,144.5 L459.8,144.4 L460.3,144.6 L460.8,144.4 L461.3,144.6 L461.8,144.9 L462.3,145.3 L462.8,145.4 L463.3,145.6 L463.8,145.7 L464.3,146.1 L464.8,146.3 L465.3,146.7 L465.8,147.1 L466.3,147.3 L466.8,147.2 L467.3,147.2 L467.8,147.3 L468.3,147.3 L468.8,147.4 L469.3,147.6 L469.8,147.8 L470.3,147.9 L470.8,148.1 L471.3,148.1 L471.8,148.3 L472.3,148.6 L472.8,149.0 L473.3,149.3 L473.8,149.6 L474.3,149.6 L474.8,149.7 L475.3,149.5 L475.8,149.4 L476.3,149.3 L476.8,149.6 L477.3,149.4 L477.8,149.7 L478.3,149.9 L478.8,150.1 L479.3,150.1 L479.8,150.3 L480.3,150.4 L480.8,150.7 L481.3,150.8 L481.8,150.9 L482.3,151.0 L482.8,151.2 L483.3,151.0 L483.8,150.9 L484.3,151.1 L484.8,151.4 L485.3,151.3 L485.8,151.8 L486.3,151.9 L486.8,152.1 L487.3,152.1 L487.8,152.3 L488.3,152.4 L488.8,152.7 L489.3,152.7 L489.8,153.1 L490.3,153.4 L490.8,153.5 L491.3,153.5 L491.8,153.7 L492.3,153.7 L492.8,153.8 L493.3,154.1 L493.8,154.5 L494.3,154.8 L494.8,154.9 L495.3,155.0 L495.8,155.1 L496.3,155.2 L496.8,155.2 L497.3,155.4 L497.8,155.7 L498.3,155.8 L498.8,155.8 L499.3,156.2 L499.8,156.7 L500.3,157.0 L500.8,157.4 L501.3,158.0 L501.8,158.3 L502.3,158.5 L502.8,158.7 L503.3,158.8 L503.8,158.8 L504.3,159.0 L504.8,159.0 L505.3,159.2 L505.8,159.5 L506.3,159.7 L506.8,159.6 L507.3,160.0 L507.8,160.2 L508.3,160.1 L508.8,160.2 L509.3,160.4 L509.8,160.2 L510.3,160.5 L510.8,160.7 L511.3,161.0 L511.8,161.1 L512.3,161.5 L512.8,161.5 L513.3,161.8 L513.8,162.1 L514.3,162.3 L514.8,162.2 L515.3,162.6 L515.8,162.8 L516.3,162.7 L516.8,162.8 L517.3,163.2 L517.8,163.4 L518.3,163.3 L518.8,163.4 L519.3,163.5 L519.8,163.5 L520.3,163.6 L520.8,164.0 L521.3,164.3 L521.8,164.4 L522.3,164.6 L522.8,164.7 L523.3,164.6 L523.8,164.8 L524.3,164.8 L524.8,164.9 L525.3,164.7 L525.8,165.1 L526.3,165.3 L526.8,165.6 L527.3,165.5 L527.8,165.7 L528.3,165.7 L528.8,165.9 L529.3,166.0 L529.8,166.2 L530.3,166.6 L530.8,166.8 L531.3,166.8 L531.8,166.8 L532.3,166.9 L532.8,167.0 L533.3,166.9 L533.8,167.1 L534.3,167.3 L534.8,167.5 L535.3,167.6 L535.8,168.0 L536.3,168.2 L536.8,168.4 L537.3,168.5 L537.8,168.3 L538.3,168.2 L538.8,168.1 L539.3,168.0 L539.8,168.4 L540.3,168.6 L540.8,168.9 L541.3,169.3 L541.8,169.4 L542.3,169.5 L542.8,169.7 L543.3,169.6 L543.8,169.4 L544.3,169.5 L544.8,169.5 L545.3,169.5 L545.8,169.6" stroke="#2020f0" stroke-width="1.5" fill="none" stroke-linejoin="round"/><path d="M253.8,86.2 L254.3,86.4 L254.8,86.8 L255.3,87.3 L255.8,87.6 L256.3,87.8 L256.8,88.4 L257.3,89.0 L257.8,89.5 L258.3,90.0 L258.8,90.5 L259.3,91.0 L259.8,91.5 L260.3,91.9 L260.8,92.6 L261.3,93.1 L261.8,93.7 L262.3,94.2 L262.8,94.6 L263.3,95.1 L263.8,95.6 L264.3,96.0 L264.8,96.5 L265.3,97.1 L265.8,97.5 L266.3,97.8 L266.8,98.4 L267.3,98.9 L267.8,99.3 L268.3,99.8 L268.8,100.4 L269.3,100.9 L269.8,101.3 L270.3,101.6 L270.8,102.2 L271.3,103.0 L271.8,103.3 L272.3,103.9 L272.8,104.6 L273.3,104.9 L273.8,105.4 L274.3,106.1 L274.8,106.7 L275.3,107.4 L275.8,108.1 L276.3,108.7 L276.8,109.7 L277.3,110.3 L277.8,110.9 L278.3,111.9 L278.8,112.5 L279.3,113.0 L279.8,113.6 L280.3,114.2 L280.8,114.5 L281.3,114.9 L281.8,115.5 L282.3,116.0 L282.8,116.3 L283.3,117.1 L283.8,117.9 L284.3,118.3 L284.8,119.0 L285.3,119.8 L285.8,120.2 L286.3,120.5 L286.8,120.9 L287.3,121.3 L287.8,121.9 L288.3,122.3 L288.8,122.9 L289.3,123.7 L289.8,124.1 L290.3,124.5 L290.8,125.0 L291.3,125.4 L291.8,125.5 L292.3,125.9 L292.8,126.0 L293.3,126.3 L293.8,126.4 L294.3,126.7 L294.8,126.8 L295.3,127.0 L295.8,127.1 L296.3,127.3 L296.8,127.3 L297.3,127.6 L297.8,127.6 L298.3,127.8 L298.8,127.9 L299.3,128.1 L299.8,128.3 L300.3,128.8 L300.8,129.1 L301.3,129.4 L301.8,129.7 L302.3,129.7 L302.8,129.7 L303.3,129.6 L303.8,129.9 L304.3,130.0 L304.8,130.5 L305.3,130.8 L305.8,131.0 L306.3,130.9 L306.8,131.4 L307.3,131.3 L307.8,131.5 L308.3,131.7 L308.8,131.8 L309.3,131.7 L309.8,132.2 L310.3,132.5 L310.8,132.7 L311.3,133.2 L311.8,133.3 L312.3,133.4 L312.8,133.6 L313.3,133.5 L313.8,133.5 L314.3,134.1 L314.8,134.1 L315.3,134.3 L315.8,134.5 L316.3,134.8 L316.8,134.7 L317.3,135.0 L317.8,135.0 L318.3,135.5 L318.8,135.8 L319.3,136.1 L319.8,136.4 L320.3,136.6 L320.8,136.8 L321.3,136.9 L321.8,137.1 L322.3,137.3 L322.8,137.5 L323.3,137.4 L323.8,137.6 L324.3,137.8 L324.8,137.9 L325.3,138.2 L325.8,138.6 L326.3,139.1 L326.8,139.3 L327.3,139.7 L327.8,139.7 L328.3,139.7 L328.8,139.7 L329.3,139.8 L329.8,140.1 L330.3,140.2 L330.8,140.4 L331.3,140.7 L331.8,140.8 L332.3,140.8 L332.8,141.2 L333.3,141.4 L333.8,141.3 L334.3,141.5 L334.8,141.7 L335.3,141.6 L335.8,141.8 L336.3,141.9 L336.8,142.2 L337.3,142.1 L337.8,142.2 L338.3,142.3 L338.8,142.6 L339.3,142.5 L339.8,142.8 L340.3,143.3 L340.8,143.6 L341.3,143.5 L341.8,143.8 L342.3,143.7 L342.8,143.5 L343.3,143.7 L343.8,143.8 L344.3,143.6 L344.8,143.9 L345.3,144.0 L345.8,144.2 L346.3,144.2 L346.8,144.6 L347.3,144.6 L347.8,144.9 L348.3,144.7 L348.8,145.0 L349.3,144.8 L349.8,144.8 L350.3,144.7 L350.8,144.8 L351.3,144.7 L351.8,144.7 L352.3,144.8 L352.8,144.7 L353.3,144.5 L353.8,144.6 L354.3,144.7 L354.8,144.8 L355.3,144.9 L355.8,144.8 L356.3,144.6 L356.8,144.5 L357.3,144.4 L357.8,144.5 L358.3,144.6 L358.8,144.9 L359.3,145.0 L359.8,145.2 L360.3,145.3 L360.8,145.4 L361.3,145.3 L361.8,145.1 L362.3,144.9 L362.8,144.9 L363.3,144.9 L363.8,144.8 L364.3,145.1 L364.8,145.3 L365.3,145.2 L365.8,145.2 L366.3,145.3 L366.8,145.3 L367.3,145.1 L367.8,145.1 L368.3,145.3 L368.8,145.3 L369.3,145.1 L369.8,145.3 L370.3,145.3 L370.8,145.2 L371.3,145.4 L371.8,145.2 L372.3,145.3 L372.8,145.2 L373.3,145.2 L373.8,145.4 L374.3,145.8 L374.8,145.7 L375.3,146.0 L375.8,145.9 L376.3,145.8 L376.8,145.6 L377.3,145.8 L377.8,145.6 L378.3,145.8 L378.8,145.7 L379.3,146.1 L379.8,146.1 L380.3,146.5 L380.8,146.4 L381.3,146.4 L381.8,146.4 L382.3,146.7 L382.8,146.7 L383.3,146.9 L383.8,147.2 L384.3,147.0 L384.8,147.2 L385.3,147.2 L385.8,147.4 L386.3,147.3 L386.8,147.4 L387.3,147.4 L387.8,147.7 L388.3,147.6 L388.8,148.0 L389.3,148.3 L389.8,148.3 L390.3,148.2 L390.8,148.4 L391.3,148.3 L391.8,148.3 L392.3,148.6 L392.8,148.7 L393.3,148.7 L393.8,149.0 L394.3,149.2 L394.8,149.3 L395.3,149.7 L395.8,150.1 L396.3,150.4 L396.8,150.6 L397.3,150.7 L397.8,150.6 L398.3,150.6 L398.8,150.9 L399.3,151.2 L399.8,151.4 L400.3,151.6 L400.8,151.7 L401.3,151.7 L401.8,151.8 L402.3,151.9 L402.8,152.2 L403.3,152.5 L403.8,152.6 L404.3,152.6 L404.8,152.6 L405.3,152.6 L405.8,152.8 L406.3,152.8 L406.8,153.0 L407.3,153.1 L407.8,153.0 L408.3,152.8 L408.8,152.8 L409.3,152.8 L409.8,153.0 L410.3,153.2 L410.8,153.2 L411.3,153.4 L411.8,153.4 L412.3,153.4 L412.8,153.3 L413.3,153.5 L413.8,153.3 L414.3,153.3 L414.8,153.5 L415.3,153.6 L415.8,153.8 L416.3,153.9 L416.8,154.1 L417.3,154.2 L417.8,154.3 L418.3,154.4 L418.8,154.4 L419.3,154.5 L419.8,154.6 L420.3,154.4 L420.8,154.3 L421.3,154.7 L421.8,154.6 L422.3,154.6 L422.8,155.0 L423.3,155.0 L423.8,154.8 L424.3,154.8 L424.8,154.9 L425.3,154.8 L425.8,154.8 L426.3,155.0 L426.8,155.4 L427.3,155.2 L427.8,155.2 L428.3,155.5 L428.8,155.5 L429.3,155.4 L429.8,155.8 L430.3,155.9 L430.8,155.7 L431.3,156.0 L431.8,156.0 L432.3,155.8 L432.8,156.1 L433.3,156.2 L433.8,156.3 L434.3,156.4 L434.8,156.5 L435.3,156.3 L435.8,156.5 L436.3,156.4 L436.8,156.5 L437.3,156.7 L437.8,156.8 L438.3,156.9 L438.8,157.2 L439.3,157.4 L439.8,157.5 L440.3,157.5 L440.8,157.3 L441.3,157.1 L441.8,156.9 L442.3,157.1 L442.8,157.4 L443.3,157.8 L443.8,158.0 L444.3,158.0 L444.8,157.9 L445.3,157.6 L445.8,157.7 L446.3,157.7 L446.8,157.8 L447.3,158.1 L447.8,158.2 L448.3,158.3 L448.8,158.4 L449.3,158.7 L449.8,158.4 L450.3,158.8 L450.8,158.7 L451.3,158.9 L451.8,159.0 L452.3,159.3 L452.8,159.2 L453.3,159.3 L453.8,159.5 L454.3,159.5 L454.8,159.7 L455.3,160.0 L455.8,160.2 L456.3,160.2 L456.8,160.5 L457.3,160.4 L457.8,160.7 L458.3,160.9 L458.8,161.1 L459.3,161.3 L459.8,161.6 L460.3,161.8 L460.8,162.0 L461.3,162.3 L461.8,162.5 L462.3,162.5 L462.8,162.4 L463.3,162.7 L463.8,162.7 L464.3,162.8 L464.8,163.1 L465.3,163.6 L465.8,163.5 L466.3,163.6 L466.8,163.7 L467.3,163.7 L467.8,163.7 L468.3,163.9 L468.8,164.0 L469.3,164.2 L469.8,164.5 L470.3,164.7 L470.8,164.7 L471.3,165.1 L471.8,165.1 L472.3,165.3 L472.8,165.3 L473.3,165.6 L473.8,165.5 L474.3,165.6 L474.8,165.6 L475.3,166.0 L475.8,166.1 L476.3,166.5 L476.8,167.0 L477.3,166.9 L477.8,166.8 L478.3,166.7 L478.8,166.7 L479.3,166.7 L479.8,167.1 L480.3,167.3 L480.8,167.8 L481.3,167.9 L481.8,168.2 L482.3,168.2 L482.8,168.1 L483.3,168.2 L483.8,168.0 L484.3,167.8 L484.8,168.1 L485.3,168.3 L485.8,168.3 L486.3,168.4 L486.8,168.6 L487.3,168.6 L487.8,168.7 L488.3,168.7 L488.8,169.2 L489.3,169.3 L489.8,169.4 L490.3,169.8 L490.8,170.0 L491.3,170.0 L491.8,170.3 L492.3,170.1 L492.8,170.0 L493.3,170.1 L493.8,170.3 L494.3,170.2 L494.8,170.5 L495.3,170.6 L495.8,170.8 L496.3,170.7 L496.8,170.9 L497.3,171.1 L497.8,171.2 L498.3,171.3 L498.8,171.5 L499.3,171.8 L499.8,171.8 L500.3,171.9 L500.8,171.9 L501.3,172.1 L501.8,172.1 L502.3,172.3 L502.8,172.6 L503.3,172.9 L503.8,172.9 L504.3,173.0 L504.8,173.4 L505.3,173.7 L505.8,173.7 L506.3,173.8 L506.8,174.3 L507.3,174.4 L507.8,174.6 L508.3,174.8 L508.8,175.4 L509.3,175.4 L509.8,175.4 L510.3,175.4 L510.8,175.6 L511.3,175.6 L511.8,175.8 L512.3,176.3 L512.8,176.7 L513.3,176.9 L513.8,177.1 L514.3,177.4 L514.8,177.5 L515.3,177.7 L515.8,177.9 L516.3,178.0 L516.8,178.3 L517.3,178.4 L517.8,178.7 L518.3,178.8 L518.8,179.2 L519.3,179.1 L519.8,179.4 L520.3,179.4 L520.8,179.8 L521.3,179.7 L521.8,180.0 L522.3,180.0 L522.8,180.3 L523.3,180.4 L523.8,180.5 L524.3,180.6 L524.8,180.8 L525.3,181.1 L525.8,181.2 L526.3,181.6 L526.8,181.8 L527.3,182.1 L527.8,182.2 L528.3,182.4 L528.8,182.3 L529.3,182.5 L529.8,182.5 L530.3,182.3 L530.8,182.5 L531.3,182.7 L531.8,182.8 L532.3,183.0 L532.8,183.3 L533.3,183.3 L533.8,183.6 L534.3,183.8 L534.8,183.8 L535.3,183.7 L535.8,183.8 L536.3,183.7 L536.8,183.8 L537.3,183.9 L537.8,184.0 L538.3,183.9 L538.8,183.9 L539.3,183.8 L539.8,184.1 L540.3,184.5 L540.8,184.6 L541.3,185.0 L541.8,185.3 L542.3,185.1 L542.8,185.2 L543.3,185.3 L543.8,185.6 L544.3,185.5 L544.8,185.7 L545.3,185.6 L545.8,185.8" stroke="#1f8a1f" stroke-width="1.5" fill="none" stroke-linejoin="round"/><path d="M253.8,85.0 L254.3,85.3 L254.8,85.4 L255.3,85.8 L255.8,86.1 L256.3,86.1 L256.8,86.5 L257.3,87.1 L257.8,87.6 L258.3,88.0 L258.8,88.5 L259.3,88.9 L259.8,89.0 L260.3,89.1 L260.8,89.2 L261.3,89.4 L261.8,89.7 L262.3,90.0 L262.8,90.6 L263.3,91.2 L263.8,91.9 L264.3,92.3 L264.8,93.0 L265.3,93.5 L265.8,93.9 L266.3,94.2 L266.8,94.5 L267.3,95.0 L267.8,95.5 L268.3,96.4 L268.8,97.2 L269.3,98.1 L269.8,98.9 L270.3,99.5 L270.8,100.0 L271.3,100.8 L271.8,101.5 L272.3,102.0 L272.8,102.8 L273.3,103.5 L273.8,104.0 L274.3,104.7 L274.8,105.3 L275.3,106.1 L275.8,106.8 L276.3,107.5 L276.8,108.1 L277.3,109.0 L277.8,109.9 L278.3,110.8 L278.8,111.7 L279.3,112.6 L279.8,113.6 L280.3,114.1 L280.8,114.9 L281.3,115.8 L281.8,116.7 L282.3,117.5 L282.8,118.4 L283.3,119.0 L283.8,119.8 L284.3,120.3 L284.8,121.2 L285.3,122.1 L285.8,123.2 L286.3,124.0 L286.8,124.9 L287.3,125.8 L287.8,126.7 L288.3,127.4 L288.8,128.3 L289.3,129.2 L289.8,129.9 L290.3,130.6 L290.8,131.3 L291.3,132.2 L291.8,133.2 L292.3,134.0 L292.8,134.6 L293.3,135.3 L293.8,135.9 L294.3,136.6 L294.8,137.3 L295.3,138.1 L295.8,139.0 L296.3,139.6 L296.8,140.1 L297.3,140.8 L297.8,141.5 L298.3,142.1 L298.8,142.8 L299.3,143.6 L299.8,144.0 L300.3,144.6 L300.8,145.3 L301.3,145.8 L301.8,146.1 L302.3,147.0 L302.8,147.3 L303.3,147.8 L303.8,148.3 L304.3,148.9 L304.8,149.3 L305.3,150.1 L305.8,150.4 L306.3,150.9 L306.8,151.3 L307.3,152.1 L307.8,152.7 L308.3,153.3 L308.8,153.8 L309.3,154.3 L309.8,154.5 L310.3,154.6 L310.8,155.1 L311.3,155.5 L311.8,155.9 L312.3,156.1 L312.8,156.6 L313.3,156.6 L313.8,156.8 L314.3,156.9 L314.8,157.2 L315.3,157.3 L315.8,157.8 L316.3,158.1 L316.8,158.3 L317.3,158.8 L317.8,159.0 L318.3,159.2 L318.8,159.3 L319.3,159.4 L319.8,159.6 L320.3,159.7 L320.8,159.6 L321.3,160.0 L321.8,160.2 L322.3,160.2 L322.8,160.7 L323.3,161.0 L323.8,161.0 L324.3,161.4 L324.8,161.7 L325.3,161.7 L325.8,161.9 L326.3,162.1 L326.8,162.1 L327.3,162.4 L327.8,162.7 L328.3,162.6 L328.8,162.7 L329.3,162.9 L329.8,163.0 L330.3,162.9 L330.8,163.1 L331.3,163.6 L331.8,163.8 L332.3,164.1 L332.8,164.4 L333.3,164.9 L333.8,165.1 L334.3,165.4 L334.8,165.5 L335.3,165.7 L335.8,165.6 L336.3,165.5 L336.8,165.9 L337.3,166.1 L337.8,166.2 L338.3,166.6 L338.8,166.9 L339.3,167.0 L339.8,166.9 L340.3,167.1 L340.8,167.3 L341.3,167.5 L341.8,167.6 L342.3,167.7 L342.8,168.0 L343.3,167.8 L343.8,168.0 L344.3,168.1 L344.8,168.4 L345.3,168.4 L345.8,168.6 L346.3,168.4 L346.8,168.4 L347.3,168.1 L347.8,168.1 L348.3,167.8 L348.8,167.7 L349.3,168.0 L349.8,168.2 L350.3,168.3 L350.8,168.6 L351.3,168.8 L351.8,168.8 L352.3,168.8 L352.8,168.6 L353.3,168.4 L353.8,168.2 L354.3,167.9 L354.8,167.7 L355.3,167.6 L355.8,167.5 L356.3,167.9 L356.8,168.1 L357.3,168.2 L357.8,168.4 L358.3,168.4 L358.8,168.4 L359.3,168.5 L359.8,168.3 L360.3,168.0 L360.8,168.2 L361.3,168.2 L361.8,168.1 L362.3,168.1 L362.8,168.2 L363.3,167.9 L363.8,167.6 L364.3,167.4 L364.8,167.4 L365.3,167.2 L365.8,167.4 L366.3,167.3 L366.8,167.5 L367.3,167.2 L367.8,167.4 L368.3,167.3 L368.8,167.6 L369.3,167.4 L369.8,167.5 L370.3,167.2 L370.8,167.2 L371.3,166.8 L371.8,166.9 L372.3,166.9 L372.8,166.7 L373.3,166.8 L373.8,166.8 L374.3,166.5 L374.8,166.4 L375.3,166.4 L375.8,166.1 L376.3,166.3 L376.8,166.7 L377.3,166.9 L377.8,167.4 L378.3,167.7 L378.8,167.7 L379.3,167.6 L379.8,167.6 L380.3,167.4 L380.8,167.4 L381.3,167.3 L381.8,167.6 L382.3,167.7 L382.8,168.0 L383.3,168.2 L383.8,168.5 L384.3,168.4 L384.8,168.5 L385.3,168.6 L385.8,168.6 L386.3,168.8 L386.8,169.2 L387.3,169.4 L387.8,169.6 L388.3,169.9 L388.8,170.1 L389.3,170.0 L389.8,170.2 L390.3,170.1 L390.8,170.0 L391.3,169.9 L391.8,170.0 L392.3,169.9 L392.8,170.0 L393.3,170.3 L393.8,170.5 L394.3,170.6 L394.8,170.5 L395.3,170.6 L395.8,170.5 L396.3,170.6 L396.8,170.4 L397.3,170.4 L397.8,170.6 L398.3,170.5 L398.8,170.5 L399.3,170.8 L399.8,170.9 L400.3,170.7 L400.8,170.9 L401.3,171.0 L401.8,171.0 L402.3,171.2 L402.8,171.2 L403.3,171.3 L403.8,171.2 L404.3,171.4 L404.8,171.5 L405.3,171.4 L405.8,171.6 L406.3,171.6 L406.8,171.5 L407.3,171.3 L407.8,171.4 L408.3,171.1 L408.8,171.3 L409.3,171.5 L409.8,171.7 L410.3,171.8 L410.8,171.8 L411.3,171.6 L411.8,171.6 L412.3,171.6 L412.8,171.7 L413.3,172.0 L413.8,172.1 L414.3,172.1 L414.8,172.1 L415.3,172.1 L415.8,172.1 L416.3,172.0 L416.8,171.9 L417.3,171.8 L417.8,172.1 L418.3,172.1 L418.8,172.2 L419.3,172.6 L419.8,172.8 L420.3,172.7 L420.8,172.5 L421.3,172.8 L421.8,172.7 L422.3,172.5 L422.8,172.5 L423.3,172.8 L423.8,172.6 L424.3,172.6 L424.8,172.9 L425.3,173.0 L425.8,173.1 L426.3,173.5 L426.8,173.7 L427.3,173.7 L427.8,173.9 L428.3,173.8 L428.8,173.8 L429.3,173.8 L429.8,173.8 L430.3,173.9 L430.8,174.1 L431.3,174.0 L431.8,174.1 L432.3,174.4 L432.8,174.3 L433.3,174.2 L433.8,174.6 L434.3,174.4 L434.8,174.4 L435.3,174.7 L435.8,174.8 L436.3,174.7 L436.8,174.8 L437.3,174.9 L437.8,174.9 L438.3,175.3 L438.8,175.5 L439.3,175.7 L439.8,175.6 L440.3,175.7 L440.8,175.7 L441.3,175.5 L441.8,175.6 L442.3,175.6 L442.8,176.0 L443.3,175.9 L443.8,176.1 L444.3,176.3 L444.8,176.6 L445.3,176.5 L445.8,176.9 L446.3,177.0 L446.8,177.2 L447.3,177.4 L447.8,177.4 L448.3,177.2 L448.8,177.6 L449.3,177.6 L449.8,177.7 L450.3,178.1 L450.8,178.3 L451.3,178.2 L451.8,178.2 L452.3,178.3 L452.8,178.2 L453.3,178.3 L453.8,178.4 L454.3,178.5 L454.8,178.6 L455.3,178.6 L455.8,178.8 L456.3,179.1 L456.8,179.3 L457.3,179.2 L457.8,179.4 L458.3,179.4 L458.8,179.6 L459.3,179.8 L459.8,179.9 L460.3,179.9 L460.8,180.3 L461.3,180.2 L461.8,179.9 L462.3,180.1 L462.8,180.4 L463.3,180.3 L463.8,180.4 L464.3,180.8 L464.8,180.7 L465.3,180.5 L465.8,180.8 L466.3,181.1 L466.8,181.1 L467.3,181.2 L467.8,181.5 L468.3,181.3 L468.8,181.1 L469.3,181.2 L469.8,181.6 L470.3,181.3 L470.8,181.4 L471.3,181.9 L471.8,181.7 L472.3,181.6 L472.8,181.9 L473.3,182.0 L473.8,182.1 L474.3,182.4 L474.8,182.7 L475.3,182.7 L475.8,182.7 L476.3,182.7 L476.8,182.6 L477.3,182.6 L477.8,182.6 L478.3,182.7 L478.8,182.6 L479.3,182.8 L479.8,182.8 L480.3,182.7 L480.8,183.0 L481.3,183.2 L481.8,183.2 L482.3,183.3 L482.8,183.4 L483.3,183.2 L483.8,183.4 L484.3,183.3 L484.8,183.6 L485.3,183.8 L485.8,184.1 L486.3,183.9 L486.8,184.1 L487.3,183.8 L487.8,183.8 L488.3,183.8 L488.8,183.9 L489.3,184.1 L489.8,184.2 L490.3,184.3 L490.8,184.3 L491.3,184.6 L491.8,184.5 L492.3,184.7 L492.8,185.0 L493.3,185.2 L493.8,185.0 L494.3,185.5 L494.8,185.4 L495.3,185.2 L495.8,185.1 L496.3,185.3 L496.8,185.3 L497.3,185.5 L497.8,185.6 L498.3,186.1 L498.8,186.0 L499.3,185.8 L499.8,186.1 L500.3,186.1 L500.8,186.2 L501.3,186.4 L501.8,186.8 L502.3,187.0 L502.8,187.3 L503.3,187.4 L503.8,187.8 L504.3,188.1 L504.8,188.0 L505.3,188.1 L505.8,188.5 L506.3,188.7 L506.8,188.9 L507.3,189.5 L507.8,189.9 L508.3,190.5 L508.8,190.8 L509.3,191.1 L509.8,191.3 L510.3,191.6 L510.8,191.7 L511.3,192.2 L511.8,192.7 L512.3,193.1 L512.8,193.7 L513.3,194.3 L513.8,194.4 L514.3,194.5 L514.8,194.6 L515.3,194.5 L515.8,194.2 L516.3,194.1 L516.8,194.1 L517.3,194.0 L517.8,194.1 L518.3,194.2 L518.8,194.2 L519.3,194.3 L519.8,194.4 L520.3,194.4 L520.8,194.1 L521.3,194.3 L521.8,194.2 L522.3,194.1 L522.8,194.2 L523.3,194.4 L523.8,194.2 L524.3,194.0 L524.8,194.0 L525.3,193.7 L525.8,193.6 L526.3,193.4 L526.8,193.6 L527.3,193.5 L527.8,193.6 L528.3,193.6 L528.8,193.7 L529.3,193.8 L529.8,193.8 L530.3,193.5 L530.8,193.4 L531.3,193.3 L531.8,193.1 L532.3,193.3 L532.8,193.6 L533.3,193.8 L533.8,193.9 L534.3,193.8 L534.8,193.6 L535.3,193.4 L535.8,193.4 L536.3,193.5 L536.8,193.7 L537.3,193.8 L537.8,194.0 L538.3,194.2 L538.8,194.5 L539.3,194.6 L539.8,194.7 L540.3,194.7 L540.8,194.8 L541.3,194.8 L541.8,194.8 L542.3,195.0 L542.8,195.1 L543.3,195.0 L543.8,195.4 L544.3,195.5 L544.8,195.4 L545.3,195.6 L545.8,195.7" stroke="#8a2a9a" stroke-width="1.5" fill="none" stroke-linejoin="round"/><path d="M253.8,87.1 L254.3,87.6 L254.8,88.1 L255.3,88.6 L255.8,89.1 L256.3,89.6 L256.8,90.1 L257.3,90.7 L257.8,91.2 L258.3,91.9 L258.8,92.5 L259.3,93.0 L259.8,93.5 L260.3,94.0 L260.8,94.1 L261.3,94.5 L261.8,95.3 L262.3,95.7 L262.8,96.3 L263.3,97.0 L263.8,97.3 L264.3,97.7 L264.8,98.0 L265.3,98.5 L265.8,98.9 L266.3,99.3 L266.8,99.5 L267.3,99.9 L267.8,100.2 L268.3,100.4 L268.8,101.1 L269.3,101.8 L269.8,102.3 L270.3,102.7 L270.8,103.3 L271.3,103.5 L271.8,104.0 L272.3,104.3 L272.8,105.0 L273.3,105.5 L273.8,106.2 L274.3,106.5 L274.8,107.4 L275.3,107.8 L275.8,108.5 L276.3,109.2 L276.8,110.2 L277.3,110.8 L277.8,111.5 L278.3,112.3 L278.8,113.3 L279.3,113.9 L279.8,114.6 L280.3,115.5 L280.8,116.0 L281.3,116.8 L281.8,117.8 L282.3,118.7 L282.8,119.4 L283.3,120.7 L283.8,121.7 L284.3,122.5 L284.8,123.6 L285.3,124.8 L285.8,125.6 L286.3,126.7 L286.8,127.5 L287.3,128.6 L287.8,129.5 L288.3,130.7 L288.8,131.6 L289.3,132.9 L289.8,133.8 L290.3,135.0 L290.8,135.9 L291.3,137.1 L291.8,138.1 L292.3,139.0 L292.8,140.0 L293.3,141.2 L293.8,141.8 L294.3,142.4 L294.8,143.6 L295.3,144.5 L295.8,145.0 L296.3,146.0 L296.8,147.1 L297.3,147.6 L297.8,148.3 L298.3,149.1 L298.8,149.8 L299.3,150.4 L299.8,151.2 L300.3,151.6 L300.8,152.5 L301.3,153.1 L301.8,153.7 L302.3,154.1 L302.8,154.7 L303.3,155.2 L303.8,155.9 L304.3,156.6 L304.8,157.6 L305.3,158.4 L305.8,158.9 L306.3,159.2 L306.8,159.7 L307.3,160.2 L307.8,160.8 L308.3,161.5 L308.8,162.0 L309.3,162.3 L309.8,162.7 L310.3,162.8 L310.8,162.8 L311.3,163.0 L311.8,163.0 L312.3,163.0 L312.8,163.4 L313.3,163.8 L313.8,164.0 L314.3,164.3 L314.8,164.6 L315.3,164.8 L315.8,165.2 L316.3,165.7 L316.8,165.9 L317.3,166.1 L317.8,166.2 L318.3,166.5 L318.8,166.7 L319.3,167.1 L319.8,167.6 L320.3,167.7 L320.8,167.9 L321.3,168.0 L321.8,168.2 L322.3,168.3 L322.8,168.7 L323.3,168.7 L323.8,168.9 L324.3,168.9 L324.8,169.2 L325.3,169.3 L325.8,169.4 L326.3,169.6 L326.8,169.9 L327.3,170.0 L327.8,170.2 L328.3,170.6 L328.8,170.9 L329.3,171.2 L329.8,171.3 L330.3,171.6 L330.8,171.9 L331.3,172.0 L331.8,171.9 L332.3,172.0 L332.8,172.1 L333.3,172.3 L333.8,172.6 L334.3,172.9 L334.8,173.3 L335.3,173.3 L335.8,173.3 L336.3,173.6 L336.8,173.7 L337.3,173.9 L337.8,174.4 L338.3,174.6 L338.8,174.5 L339.3,174.7 L339.8,174.9 L340.3,175.1 L340.8,175.3 L341.3,175.5 L341.8,175.8 L342.3,176.0 L342.8,175.9 L343.3,176.0 L343.8,176.1 L344.3,176.0 L344.8,175.8 L345.3,176.0 L345.8,176.1 L346.3,176.0 L346.8,176.0 L347.3,176.2 L347.8,176.0 L348.3,176.0 L348.8,176.1 L349.3,176.3 L349.8,176.4 L350.3,176.5 L350.8,176.5 L351.3,176.6 L351.8,176.6 L352.3,176.6 L352.8,176.6 L353.3,176.4 L353.8,176.6 L354.3,176.6 L354.8,176.6 L355.3,176.6 L355.8,176.8 L356.3,176.5 L356.8,176.2 L357.3,176.2 L357.8,176.4 L358.3,176.1 L358.8,176.4 L359.3,176.5 L359.8,176.7 L360.3,176.6 L360.8,176.7 L361.3,176.4 L361.8,176.5 L362.3,176.5 L362.8,176.5 L363.3,176.6 L363.8,176.8 L364.3,176.7 L364.8,176.6 L365.3,176.6 L365.8,176.5 L366.3,176.6 L366.8,176.7 L367.3,176.5 L367.8,176.2 L368.3,176.1 L368.8,176.1 L369.3,175.8 L369.8,176.0 L370.3,176.2 L370.8,176.4 L371.3,176.2 L371.8,176.2 L372.3,176.1 L372.8,176.2 L373.3,176.3 L373.8,176.4 L374.3,176.3 L374.8,176.4 L375.3,176.1 L375.8,175.8 L376.3,175.7 L376.8,175.8 L377.3,175.6 L377.8,175.8 L378.3,176.1 L378.8,176.4 L379.3,176.1 L379.8,176.2 L380.3,176.3 L380.8,176.3 L381.3,176.3 L381.8,176.6 L382.3,176.6 L382.8,176.6 L383.3,176.6 L383.8,176.3 L384.3,176.1 L384.8,176.3 L385.3,176.1 L385.8,176.1 L386.3,176.4 L386.8,176.6 L387.3,176.5 L387.8,176.6 L388.3,176.7 L388.8,176.4 L389.3,176.2 L389.8,176.0 L390.3,176.0 L390.8,176.1 L391.3,176.1 L391.8,176.3 L392.3,176.3 L392.8,176.3 L393.3,176.1 L393.8,176.3 L394.3,176.1 L394.8,176.4 L395.3,176.5 L395.8,176.8 L396.3,176.8 L396.8,176.9 L397.3,176.9 L397.8,176.8 L398.3,176.7 L398.8,176.8 L399.3,177.1 L399.8,177.0 L400.3,177.0 L400.8,176.9 L401.3,177.1 L401.8,177.0 L402.3,176.9 L402.8,176.9 L403.3,176.9 L403.8,176.8 L404.3,176.5 L404.8,176.7 L405.3,176.8 L405.8,177.0 L406.3,176.9 L406.8,177.0 L407.3,176.8 L407.8,177.0 L408.3,176.8 L408.8,176.7 L409.3,176.9 L409.8,177.1 L410.3,176.9 L410.8,176.9 L411.3,176.9 L411.8,176.9 L412.3,176.7 L412.8,177.0 L413.3,177.0 L413.8,177.0 L414.3,176.9 L414.8,176.8 L415.3,176.6 L415.8,176.7 L416.3,176.7 L416.8,176.8 L417.3,177.1 L417.8,177.3 L418.3,177.2 L418.8,177.2 L419.3,177.3 L419.8,177.0 L420.3,176.6 L420.8,176.6 L421.3,176.8 L421.8,176.6 L422.3,176.8 L422.8,176.8 L423.3,177.1 L423.8,177.1 L424.3,177.2 L424.8,177.4 L425.3,177.6 L425.8,177.4 L426.3,177.0 L426.8,176.9 L427.3,176.6 L427.8,176.5 L428.3,176.4 L428.8,176.4 L429.3,176.6 L429.8,176.9 L430.3,177.1 L430.8,177.3 L431.3,177.5 L431.8,177.4 L432.3,177.4 L432.8,177.2 L433.3,177.3 L433.8,177.4 L434.3,177.6 L434.8,177.5 L435.3,177.4 L435.8,177.4 L436.3,177.6 L436.8,177.4 L437.3,177.6 L437.8,177.7 L438.3,177.8 L438.8,177.7 L439.3,177.8 L439.8,177.8 L440.3,178.1 L440.8,178.2 L441.3,178.4 L441.8,178.8 L442.3,178.8 L442.8,179.0 L443.3,179.2 L443.8,179.3 L444.3,179.3 L444.8,179.5 L445.3,179.6 L445.8,179.7 L446.3,179.6 L446.8,179.8 L447.3,180.0 L447.8,180.0 L448.3,180.2 L448.8,180.3 L449.3,180.4 L449.8,180.4 L450.3,180.6 L450.8,180.4 L451.3,180.7 L451.8,180.7 L452.3,180.8 L452.8,180.8 L453.3,181.2 L453.8,181.4 L454.3,181.8 L454.8,181.8 L455.3,182.1 L455.8,182.2 L456.3,182.1 L456.8,181.9 L457.3,182.3 L457.8,182.1 L458.3,182.2 L458.8,182.2 L459.3,182.4 L459.8,182.3 L460.3,182.4 L460.8,182.7 L461.3,182.8 L461.8,183.1 L462.3,183.5 L462.8,183.9 L463.3,184.0 L463.8,184.3 L464.3,184.4 L464.8,184.5 L465.3,184.4 L465.8,184.5 L466.3,184.7 L466.8,184.8 L467.3,184.8 L467.8,185.1 L468.3,185.2 L468.8,185.4 L469.3,185.6 L469.8,186.0 L470.3,186.0 L470.8,186.4 L471.3,186.6 L471.8,186.5 L472.3,186.5 L472.8,186.7 L473.3,186.7 L473.8,186.6 L474.3,186.8 L474.8,187.1 L475.3,187.4 L475.8,187.8 L476.3,188.4 L476.8,188.5 L477.3,188.7 L477.8,189.0 L478.3,189.1 L478.8,189.0 L479.3,189.2 L479.8,189.2 L480.3,189.2 L480.8,189.2 L481.3,189.5 L481.8,189.9 L482.3,190.0 L482.8,190.1 L483.3,190.4 L483.8,190.6 L484.3,190.7 L484.8,191.1 L485.3,191.5 L485.8,191.8 L486.3,191.8 L486.8,192.0 L487.3,192.2 L487.8,192.1 L488.3,192.0 L488.8,192.2 L489.3,192.3 L489.8,192.5 L490.3,192.6 L490.8,192.9 L491.3,192.9 L491.8,193.0 L492.3,193.0 L492.8,193.4 L493.3,193.6 L493.8,193.8 L494.3,194.1 L494.8,194.1 L495.3,194.3 L495.8,194.5 L496.3,194.7 L496.8,194.6 L497.3,194.8 L497.8,194.9 L498.3,194.9 L498.8,195.4 L499.3,195.7 L499.8,196.0 L500.3,196.0 L500.8,196.0 L501.3,195.9 L501.8,195.9 L502.3,196.2 L502.8,196.1 L503.3,196.3 L503.8,196.6 L504.3,196.9 L504.8,196.9 L505.3,197.1 L505.8,197.2 L506.3,197.3 L506.8,197.4 L507.3,197.4 L507.8,197.4 L508.3,197.3 L508.8,197.4 L509.3,197.6 L509.8,197.9 L510.3,198.2 L510.8,198.7 L511.3,199.0 L511.8,198.9 L512.3,198.8 L512.8,198.9 L513.3,198.7 L513.8,198.7 L514.3,198.7 L514.8,198.9 L515.3,199.1 L515.8,199.2 L516.3,199.1 L516.8,199.4 L517.3,199.4 L517.8,199.6 L518.3,199.8 L518.8,200.2 L519.3,200.2 L519.8,200.3 L520.3,200.2 L520.8,200.0 L521.3,200.1 L521.8,200.0 L522.3,199.9 L522.8,200.3 L523.3,200.5 L523.8,200.4 L524.3,200.8 L524.8,201.1 L525.3,200.9 L525.8,200.8 L526.3,200.9 L526.8,200.9 L527.3,200.7 L527.8,200.8 L528.3,200.9 L528.8,200.7 L529.3,200.8 L529.8,201.1 L530.3,201.1 L530.8,201.1 L531.3,201.4 L531.8,201.2 L532.3,201.1 L532.8,201.4 L533.3,201.4 L533.8,201.5 L534.3,201.6 L534.8,201.9 L535.3,201.9 L535.8,202.0 L536.3,201.7 L536.8,201.8 L537.3,201.5 L537.8,201.4 L538.3,201.3 L538.8,201.5 L539.3,201.5 L539.8,201.6 L540.3,201.6 L540.8,201.8 L541.3,201.8 L541.8,201.9 L542.3,202.3 L542.8,202.5 L543.3,202.7 L543.8,202.8 L544.3,202.9 L544.8,202.6 L545.3,202.6 L545.8,202.3" stroke="#a0703c" stroke-width="1.5" fill="none" stroke-linejoin="round"/><path d="M253.8,87.2 L254.3,87.8 L254.8,88.0 L255.3,88.2 L255.8,88.9 L256.3,89.4 L256.8,89.8 L257.3,90.2 L257.8,90.7 L258.3,91.2 L258.8,91.6 L259.3,92.1 L259.8,92.8 L260.3,93.6 L260.8,93.8 L261.3,94.2 L261.8,94.9 L262.3,95.4 L262.8,95.9 L263.3,96.5 L263.8,96.9 L264.3,96.9 L264.8,97.3 L265.3,97.7 L265.8,98.1 L266.3,98.3 L266.8,98.8 L267.3,99.1 L267.8,99.6 L268.3,100.1 L268.8,100.8 L269.3,101.3 L269.8,101.6 L270.3,101.8 L270.8,102.2 L271.3,102.7 L271.8,103.2 L272.3,103.8 L272.8,104.5 L273.3,105.1 L273.8,105.7 L274.3,106.5 L274.8,107.3 L275.3,107.9 L275.8,108.5 L276.3,109.0 L276.8,109.8 L277.3,110.6 L277.8,111.4 L278.3,112.2 L278.8,112.8 L279.3,113.5 L279.8,114.1 L280.3,114.9 L280.8,115.6 L281.3,116.6 L281.8,117.4 L282.3,118.1 L282.8,119.0 L283.3,120.0 L283.8,120.9 L284.3,121.6 L284.8,122.4 L285.3,123.4 L285.8,124.4 L286.3,125.3 L286.8,126.3 L287.3,127.4 L287.8,128.4 L288.3,129.5 L288.8,130.5 L289.3,131.9 L289.8,133.0 L290.3,134.0 L290.8,134.8 L291.3,135.9 L291.8,136.7 L292.3,137.9 L292.8,139.1 L293.3,140.2 L293.8,140.9 L294.3,141.9 L294.8,142.5 L295.3,143.2 L295.8,143.9 L296.3,144.9 L296.8,145.6 L297.3,146.5 L297.8,147.3 L298.3,148.0 L298.8,148.7 L299.3,149.5 L299.8,150.2 L300.3,150.9 L300.8,151.9 L301.3,152.6 L301.8,153.0 L302.3,154.0 L302.8,154.8 L303.3,155.4 L303.8,155.9 L304.3,156.8 L304.8,157.1 L305.3,157.7 L305.8,158.3 L306.3,159.1 L306.8,159.3 L307.3,159.6 L307.8,159.9 L308.3,160.0 L308.8,160.4 L309.3,160.9 L309.8,161.4 L310.3,161.8 L310.8,162.2 L311.3,162.4 L311.8,162.7 L312.3,163.0 L312.8,163.5 L313.3,163.9 L313.8,164.4 L314.3,164.6 L314.8,164.8 L315.3,164.8 L315.8,165.1 L316.3,165.1 L316.8,165.2 L317.3,165.5 L317.8,165.8 L318.3,165.8 L318.8,166.0 L319.3,166.3 L319.8,166.4 L320.3,166.2 L320.8,166.4 L321.3,166.6 L321.8,166.5 L322.3,166.8 L322.8,167.3 L323.3,167.6 L323.8,168.0 L324.3,168.4 L324.8,168.4 L325.3,168.4 L325.8,168.4 L326.3,168.2 L326.8,168.3 L327.3,168.5 L327.8,168.8 L328.3,169.0 L328.8,169.3 L329.3,169.2 L329.8,169.4 L330.3,169.3 L330.8,169.1 L331.3,169.3 L331.8,169.4 L332.3,169.4 L332.8,169.7 L333.3,170.1 L333.8,170.2 L334.3,170.2 L334.8,170.5 L335.3,170.3 L335.8,170.1 L336.3,170.3 L336.8,170.7 L337.3,170.6 L337.8,170.7 L338.3,171.1 L338.8,171.0 L339.3,170.8 L339.8,170.8 L340.3,170.6 L340.8,170.6 L341.3,170.8 L341.8,170.7 L342.3,170.9 L342.8,171.0 L343.3,171.0 L343.8,170.8 L344.3,171.1 L344.8,171.0 L345.3,171.0 L345.8,170.9 L346.3,171.1 L346.8,170.8 L347.3,170.6 L347.8,170.7 L348.3,170.8 L348.8,170.9 L349.3,171.1 L349.8,171.5 L350.3,171.6 L350.8,171.5 L351.3,171.3 L351.8,171.5 L352.3,171.3 L352.8,171.2 L353.3,171.4 L353.8,171.3 L354.3,171.2 L354.8,171.2 L355.3,171.3 L355.8,171.3 L356.3,171.3 L356.8,171.3 L357.3,171.3 L357.8,171.2 L358.3,171.2 L358.8,171.5 L359.3,171.6 L359.8,171.5 L360.3,171.7 L360.8,171.6 L361.3,171.3 L361.8,171.3 L362.3,171.5 L362.8,171.5 L363.3,171.4 L363.8,171.6 L364.3,171.5 L364.8,171.3 L365.3,171.4 L365.8,171.7 L366.3,171.5 L366.8,171.6 L367.3,171.9 L367.8,171.7 L368.3,171.5 L368.8,171.6 L369.3,172.1 L369.8,171.8 L370.3,172.0 L370.8,171.9 L371.3,171.9 L371.8,171.6 L372.3,171.9 L372.8,172.0 L373.3,172.2 L373.8,172.2 L374.3,172.5 L374.8,172.5 L375.3,172.4 L375.8,172.5 L376.3,172.6 L376.8,172.6 L377.3,172.7 L377.8,172.8 L378.3,172.8 L378.8,172.9 L379.3,172.8 L379.8,172.9 L380.3,173.0 L380.8,172.6 L381.3,172.6 L381.8,172.6 L382.3,172.4 L382.8,172.3 L383.3,172.6 L383.8,172.7 L384.3,172.9 L384.8,172.9 L385.3,173.0 L385.8,172.9 L386.3,173.1 L386.8,173.2 L387.3,173.3 L387.8,173.4 L388.3,173.4 L388.8,173.2 L389.3,173.1 L389.8,172.9 L390.3,172.8 L390.8,173.0 L391.3,173.2 L391.8,173.2 L392.3,173.5 L392.8,173.5 L393.3,173.5 L393.8,173.5 L394.3,173.7 L394.8,173.7 L395.3,173.9 L395.8,173.9 L396.3,173.8 L396.8,173.6 L397.3,173.5 L397.8,173.7 L398.3,173.5 L398.8,173.4 L399.3,173.6 L399.8,173.7 L400.3,173.5 L400.8,173.7 L401.3,173.8 L401.8,173.8 L402.3,174.1 L402.8,174.3 L403.3,174.4 L403.8,174.3 L404.3,174.6 L404.8,174.4 L405.3,174.2 L405.8,174.2 L406.3,174.3 L406.8,174.3 L407.3,174.1 L407.8,174.1 L408.3,173.9 L408.8,174.1 L409.3,174.0 L409.8,174.3 L410.3,174.3 L410.8,174.4 L411.3,174.3 L411.8,174.5 L412.3,174.4 L412.8,174.7 L413.3,174.5 L413.8,174.7 L414.3,174.5 L414.8,174.3 L415.3,174.2 L415.8,174.5 L416.3,174.3 L416.8,174.4 L417.3,174.5 L417.8,174.5 L418.3,174.2 L418.8,174.3 L419.3,174.4 L419.8,174.5 L420.3,174.5 L420.8,174.7 L421.3,174.9 L421.8,174.9 L422.3,174.7 L422.8,174.7 L423.3,174.8 L423.8,174.8 L424.3,174.7 L424.8,174.9 L425.3,175.2 L425.8,175.0 L426.3,174.9 L426.8,175.1 L427.3,175.0 L427.8,174.9 L428.3,174.9 L428.8,175.0 L429.3,175.1 L429.8,175.1 L430.3,175.1 L430.8,175.1 L431.3,175.1 L431.8,175.0 L432.3,174.9 L432.8,175.3 L433.3,175.4 L433.8,175.2 L434.3,175.4 L434.8,175.6 L435.3,175.7 L435.8,175.9 L436.3,176.3 L436.8,176.4 L437.3,176.4 L437.8,176.5 L438.3,176.4 L438.8,176.4 L439.3,176.2 L439.8,176.4 L440.3,176.1 L440.8,176.4 L441.3,176.2 L441.8,176.5 L442.3,176.6 L442.8,177.0 L443.3,177.1 L443.8,177.3 L444.3,177.2 L444.8,177.3 L445.3,177.2 L445.8,177.3 L446.3,177.3 L446.8,177.6 L447.3,177.5 L447.8,177.7 L448.3,177.7 L448.8,177.9 L449.3,177.9 L449.8,178.0 L450.3,177.9 L450.8,178.0 L451.3,178.0 L451.8,178.1 L452.3,178.3 L452.8,178.5 L453.3,178.6 L453.8,178.9 L454.3,179.0 L454.8,179.0 L455.3,179.3 L455.8,179.3 L456.3,179.3 L456.8,179.4 L457.3,179.6 L457.8,179.6 L458.3,179.9 L458.8,179.8 L459.3,180.1 L459.8,180.1 L460.3,180.1 L460.8,179.9 L461.3,180.3 L461.8,180.1 L462.3,180.3 L462.8,180.4 L463.3,180.8 L463.8,180.8 L464.3,180.9 L464.8,181.1 L465.3,181.3 L465.8,181.3 L466.3,181.2 L466.8,181.6 L467.3,181.6 L467.8,181.5 L468.3,181.7 L468.8,182.1 L469.3,182.1 L469.8,182.4 L470.3,182.8 L470.8,183.2 L471.3,183.0 L471.8,183.2 L472.3,183.3 L472.8,183.5 L473.3,183.4 L473.8,183.7 L474.3,184.0 L474.8,184.1 L475.3,184.1 L475.8,184.3 L476.3,184.6 L476.8,184.6 L477.3,184.8 L477.8,185.1 L478.3,185.3 L478.8,185.3 L479.3,185.6 L479.8,186.2 L480.3,186.3 L480.8,186.5 L481.3,186.5 L481.8,186.8 L482.3,186.8 L482.8,187.1 L483.3,187.4 L483.8,187.7 L484.3,188.0 L484.8,188.0 L485.3,188.1 L485.8,188.4 L486.3,188.7 L486.8,188.6 L487.3,188.9 L487.8,189.2 L488.3,189.1 L488.8,189.1 L489.3,189.3 L489.8,189.3 L490.3,189.3 L490.8,189.5 L491.3,189.5 L491.8,189.4 L492.3,189.8 L492.8,189.9 L493.3,190.2 L493.8,190.3 L494.3,190.5 L494.8,190.4 L495.3,190.6 L495.8,190.8 L496.3,191.3 L496.8,191.4 L497.3,191.4 L497.8,191.8 L498.3,191.9 L498.8,191.9 L499.3,191.9 L499.8,192.0 L500.3,192.0 L500.8,192.1 L501.3,192.2 L501.8,192.5 L502.3,192.7 L502.8,192.7 L503.3,192.8 L503.8,193.0 L504.3,193.1 L504.8,193.3 L505.3,193.3 L505.8,193.6 L506.3,193.8 L506.8,193.8 L507.3,194.1 L507.8,194.4 L508.3,194.4 L508.8,194.2 L509.3,194.6 L509.8,194.4 L510.3,194.3 L510.8,194.4 L511.3,194.7 L511.8,194.7 L512.3,194.7 L512.8,194.9 L513.3,195.1 L513.8,195.1 L514.3,195.1 L514.8,195.5 L515.3,195.8 L515.8,195.8 L516.3,195.8 L516.8,195.9 L517.3,195.7 L517.8,195.7 L518.3,195.8 L518.8,196.0 L519.3,196.3 L519.8,196.5 L520.3,196.4 L520.8,196.6 L521.3,196.5 L521.8,196.3 L522.3,196.4 L522.8,196.5 L523.3,196.4 L523.8,196.6 L524.3,197.0 L524.8,197.1 L525.3,197.0 L525.8,197.3 L526.3,197.2 L526.8,197.4 L527.3,197.5 L527.8,197.6 L528.3,197.7 L528.8,197.8 L529.3,197.7 L529.8,197.8 L530.3,197.9 L530.8,197.7 L531.3,197.5 L531.8,197.7 L532.3,197.5 L532.8,197.5 L533.3,197.5 L533.8,197.9 L534.3,197.8 L534.8,198.1 L535.3,198.4 L535.8,198.8 L536.3,198.6 L536.8,198.9 L537.3,198.9 L537.8,198.9 L538.3,199.0 L538.8,199.1 L539.3,198.9 L539.8,199.1 L540.3,198.9 L540.8,198.7 L541.3,198.6 L541.8,198.8 L542.3,198.6 L542.8,198.9 L543.3,198.9 L543.8,199.1 L544.3,199.2 L544.8,199.4 L545.3,199.3 L545.8,199.5" stroke="#ff2020" stroke-width="1.5" fill="none" stroke-linejoin="round"/><path d="M253.8,87.4 L254.3,88.0 L254.8,88.5 L255.3,88.9 L255.8,89.3 L256.3,89.7 L256.8,89.9 L257.3,90.2 L257.8,90.6 L258.3,91.1 L258.8,91.6 L259.3,92.0 L259.8,92.8 L260.3,93.2 L260.8,93.6 L261.3,94.1 L261.8,94.7 L262.3,95.1 L262.8,95.7 L263.3,96.2 L263.8,96.9 L264.3,97.2 L264.8,97.5 L265.3,97.7 L265.8,98.3 L266.3,98.4 L266.8,98.8 L267.3,99.4 L267.8,99.8 L268.3,99.8 L268.8,100.4 L269.3,100.9 L269.8,101.2 L270.3,101.7 L270.8,102.2 L271.3,102.7 L271.8,103.1 L272.3,103.6 L272.8,104.1 L273.3,104.6 L273.8,105.5 L274.3,106.4 L274.8,107.0 L275.3,107.7 L275.8,108.4 L276.3,108.7 L276.8,109.2 L277.3,110.2 L277.8,110.7 L278.3,111.6 L278.8,112.7 L279.3,113.2 L279.8,113.8 L280.3,114.7 L280.8,115.7 L281.3,116.5 L281.8,117.7 L282.3,118.6 L282.8,119.4 L283.3,120.3 L283.8,121.1 L284.3,121.8 L284.8,122.4 L285.3,123.5 L285.8,124.3 L286.3,125.2 L286.8,126.5 L287.3,127.5 L287.8,128.7 L288.3,129.6 L288.8,130.8 L289.3,131.7 L289.8,132.8 L290.3,133.7 L290.8,134.7 L291.3,135.5 L291.8,136.5 L292.3,137.3 L292.8,138.4 L293.3,139.5 L293.8,140.4 L294.3,141.3 L294.8,142.1 L295.3,142.5 L295.8,143.0 L296.3,143.8 L296.8,144.4 L297.3,145.4 L297.8,146.2 L298.3,147.0 L298.8,147.5 L299.3,148.3 L299.8,148.7 L300.3,149.4 L300.8,149.9 L301.3,150.4 L301.8,150.9 L302.3,151.7 L302.8,152.2 L303.3,152.7 L303.8,153.4 L304.3,153.7 L304.8,154.2 L305.3,154.6 L305.8,155.1 L306.3,155.5 L306.8,155.8 L307.3,156.3 L307.8,156.6 L308.3,157.1 L308.8,157.2 L309.3,157.6 L309.8,157.9 L310.3,158.2 L310.8,158.5 L311.3,158.8 L311.8,159.1 L312.3,159.4 L312.8,159.8 L313.3,160.3 L313.8,160.9 L314.3,161.4 L314.8,161.9 L315.3,162.5 L315.8,162.6 L316.3,162.9 L316.8,163.3 L317.3,163.3 L317.8,163.5 L318.3,163.6 L318.8,163.9 L319.3,164.2 L319.8,164.6 L320.3,164.8 L320.8,165.3 L321.3,165.4 L321.8,165.4 L322.3,165.5 L322.8,165.6 L323.3,165.8 L323.8,166.3 L324.3,166.8 L324.8,167.0 L325.3,167.5 L325.8,167.7 L326.3,167.6 L326.8,167.6 L327.3,167.7 L327.8,167.6 L328.3,167.6 L328.8,168.1 L329.3,168.1 L329.8,168.4 L330.3,168.7 L330.8,169.0 L331.3,168.9 L331.8,169.1 L332.3,169.1 L332.8,169.2 L333.3,169.6 L333.8,169.8 L334.3,170.2 L334.8,170.6 L335.3,171.0 L335.8,171.0 L336.3,171.1 L336.8,171.1 L337.3,171.3 L337.8,171.4 L338.3,171.5 L338.8,171.7 L339.3,172.0 L339.8,172.0 L340.3,172.2 L340.8,172.2 L341.3,172.5 L341.8,172.5 L342.3,172.5 L342.8,172.7 L343.3,172.9 L343.8,173.2 L344.3,173.3 L344.8,173.7 L345.3,173.7 L345.8,173.5 L346.3,173.7 L346.8,173.9 L347.3,174.1 L347.8,174.3 L348.3,174.4 L348.8,174.4 L349.3,174.2 L349.8,174.1 L350.3,174.2 L350.8,174.5 L351.3,174.7 L351.8,174.8 L352.3,174.7 L352.8,174.5 L353.3,174.6 L353.8,174.8 L354.3,174.9 L354.8,175.1 L355.3,175.1 L355.8,174.8 L356.3,174.4 L356.8,174.2 L357.3,174.0 L357.8,174.3 L358.3,174.6 L358.8,174.7 L359.3,174.7 L359.8,174.7 L360.3,174.3 L360.8,174.1 L361.3,174.2 L361.8,174.2 L362.3,174.3 L362.8,174.6 L363.3,174.6 L363.8,174.5 L364.3,174.8 L364.8,174.8 L365.3,174.8 L365.8,174.9 L366.3,175.2 L366.8,174.9 L367.3,174.9 L367.8,175.0 L368.3,175.0 L368.8,175.0 L369.3,175.1 L369.8,175.0 L370.3,174.9 L370.8,174.9 L371.3,174.7 L371.8,174.8 L372.3,175.0 L372.8,175.0 L373.3,175.1 L373.8,175.4 L374.3,175.4 L374.8,175.4 L375.3,175.5 L375.8,175.5 L376.3,175.4 L376.8,175.5 L377.3,175.5 L377.8,175.5 L378.3,175.4 L378.8,175.6 L379.3,175.5 L379.8,175.4 L380.3,175.4 L380.8,175.4 L381.3,175.4 L381.8,175.6 L382.3,175.9 L382.8,175.7 L383.3,175.8 L383.8,175.8 L384.3,175.6 L384.8,175.4 L385.3,175.3 L385.8,175.0 L386.3,174.9 L386.8,174.9 L387.3,175.1 L387.8,175.4 L388.3,175.6 L388.8,175.7 L389.3,175.6 L389.8,175.6 L390.3,175.5 L390.8,175.5 L391.3,175.4 L391.8,175.7 L392.3,175.6 L392.8,175.7 L393.3,175.6 L393.8,175.8 L394.3,175.9 L394.8,175.9 L395.3,175.8 L395.8,175.9 L396.3,175.7 L396.8,175.8 L397.3,175.9 L397.8,175.9 L398.3,175.9 L398.8,175.8 L399.3,175.8 L399.8,175.6 L400.3,175.4 L400.8,175.2 L401.3,175.5 L401.8,175.4 L402.3,175.4 L402.8,175.6 L403.3,175.7 L403.8,175.5 L404.3,175.6 L404.8,175.6 L405.3,175.4 L405.8,175.4 L406.3,175.2 L406.8,175.2 L407.3,175.3 L407.8,175.7 L408.3,175.8 L408.8,175.9 L409.3,175.5 L409.8,175.3 L410.3,175.1 L410.8,175.0 L411.3,175.1 L411.8,175.3 L412.3,175.6 L412.8,175.6 L413.3,175.7 L413.8,175.7 L414.3,175.5 L414.8,175.5 L415.3,175.4 L415.8,175.1 L416.3,175.4 L416.8,175.5 L417.3,175.3 L417.8,175.6 L418.3,175.9 L418.8,175.7 L419.3,175.8 L419.8,175.7 L420.3,175.7 L420.8,175.5 L421.3,175.5 L421.8,175.2 L422.3,175.2 L422.8,175.0 L423.3,174.9 L423.8,175.0 L424.3,175.4 L424.8,175.5 L425.3,175.6 L425.8,175.8 L426.3,175.8 L426.8,175.7 L427.3,175.8 L427.8,175.8 L428.3,175.6 L428.8,175.7 L429.3,175.6 L429.8,175.5 L430.3,175.3 L430.8,175.6 L431.3,175.6 L431.8,175.6 L432.3,175.8 L432.8,176.1 L433.3,176.0 L433.8,175.8 L434.3,176.1 L434.8,176.3 L435.3,176.3 L435.8,176.4 L436.3,176.6 L436.8,176.4 L437.3,176.6 L437.8,176.6 L438.3,176.5 L438.8,176.6 L439.3,176.7 L439.8,176.4 L440.3,176.6 L440.8,176.7 L441.3,176.6 L441.8,176.6 L442.3,176.9 L442.8,176.8 L443.3,177.1 L443.8,177.5 L444.3,177.9 L444.8,178.0 L445.3,178.1 L445.8,178.2 L446.3,178.1 L446.8,177.9 L447.3,178.0 L447.8,178.1 L448.3,178.1 L448.8,178.1 L449.3,178.2 L449.8,178.1 L450.3,178.3 L450.8,178.3 L451.3,178.6 L451.8,178.8 L452.3,179.0 L452.8,179.2 L453.3,179.3 L453.8,179.4 L454.3,179.7 L454.8,179.8 L455.3,179.9 L455.8,180.3 L456.3,180.2 L456.8,180.3 L457.3,180.6 L457.8,180.8 L458.3,180.9 L458.8,181.0 L459.3,181.0 L459.8,181.2 L460.3,181.1 L460.8,181.1 L461.3,181.4 L461.8,181.4 L462.3,181.2 L462.8,181.5 L463.3,181.6 L463.8,181.7 L464.3,182.0 L464.8,182.5 L465.3,182.6 L465.8,182.6 L466.3,182.9 L466.8,182.8 L467.3,182.9 L467.8,183.0 L468.3,183.3 L468.8,183.4 L469.3,183.9 L469.8,184.1 L470.3,184.3 L470.8,184.5 L471.3,184.7 L471.8,184.8 L472.3,184.9 L472.8,184.7 L473.3,184.7 L473.8,185.2 L474.3,185.3 L474.8,185.3 L475.3,185.8 L475.8,186.2 L476.3,186.1 L476.8,186.4 L477.3,186.6 L477.8,186.7 L478.3,186.9 L478.8,187.2 L479.3,187.1 L479.8,187.4 L480.3,187.7 L480.8,187.9 L481.3,188.3 L481.8,188.7 L482.3,189.0 L482.8,189.1 L483.3,189.1 L483.8,189.3 L484.3,189.4 L484.8,189.4 L485.3,189.7 L485.8,189.8 L486.3,189.6 L486.8,189.6 L487.3,190.0 L487.8,190.1 L488.3,190.4 L488.8,190.9 L489.3,191.2 L489.8,191.1 L490.3,191.4 L490.8,191.2 L491.3,191.2 L491.8,191.1 L492.3,191.2 L492.8,191.4 L493.3,191.8 L493.8,192.2 L494.3,192.5 L494.8,192.7 L495.3,192.6 L495.8,192.6 L496.3,192.7 L496.8,192.7 L497.3,193.0 L497.8,193.2 L498.3,193.5 L498.8,193.3 L499.3,193.7 L499.8,193.6 L500.3,193.6 L500.8,193.7 L501.3,194.1 L501.8,194.1 L502.3,194.4 L502.8,194.8 L503.3,194.7 L503.8,194.7 L504.3,194.7 L504.8,194.7 L505.3,194.6 L505.8,194.7 L506.3,194.9 L506.8,195.2 L507.3,195.4 L507.8,195.7 L508.3,195.9 L508.8,196.1 L509.3,196.0 L509.8,196.3 L510.3,196.5 L510.8,196.7 L511.3,196.8 L511.8,197.3 L512.3,197.1 L512.8,196.9 L513.3,197.0 L513.8,197.1 L514.3,197.1 L514.8,197.3 L515.3,197.5 L515.8,197.6 L516.3,197.7 L516.8,197.6 L517.3,197.8 L517.8,197.7 L518.3,198.0 L518.8,197.8 L519.3,198.2 L519.8,198.1 L520.3,198.4 L520.8,198.3 L521.3,198.7 L521.8,198.6 L522.3,198.7 L522.8,198.7 L523.3,198.7 L523.8,198.8 L524.3,198.8 L524.8,198.7 L525.3,198.6 L525.8,198.9 L526.3,198.9 L526.8,199.1 L527.3,199.4 L527.8,199.5 L528.3,199.6 L528.8,199.6 L529.3,199.5 L529.8,199.2 L530.3,199.3 L530.8,199.2 L531.3,199.1 L531.8,199.4 L532.3,199.5 L532.8,199.5 L533.3,199.5 L533.8,199.4 L534.3,199.3 L534.8,199.5 L535.3,199.6 L535.8,199.5 L536.3,199.8 L536.8,199.7 L537.3,199.9 L537.8,200.1 L538.3,200.1 L538.8,199.9 L539.3,200.2 L539.8,200.0 L540.3,200.1 L540.8,200.2 L541.3,200.5 L541.8,200.3 L542.3,200.7 L542.8,200.5 L543.3,200.6 L543.8,200.8 L544.3,201.0 L544.8,200.8 L545.3,201.0 L545.8,200.9" stroke="#33e033" stroke-width="1.5" fill="none" stroke-linejoin="round"/><path d="M253.8,86.1 L254.3,86.8 L254.8,87.2 L255.3,87.9 L255.8,88.4 L256.3,88.8 L256.8,89.1 L257.3,89.9 L257.8,90.3 L258.3,90.8 L258.8,91.3 L259.3,91.8 L259.8,92.0 L260.3,92.5 L260.8,93.2 L261.3,93.5 L261.8,94.0 L262.3,94.5 L262.8,95.0 L263.3,95.3 L263.8,95.8 L264.3,96.3 L264.8,96.7 L265.3,97.0 L265.8,97.7 L266.3,98.0 L266.8,98.5 L267.3,99.0 L267.8,99.5 L268.3,99.7 L268.8,100.3 L269.3,100.4 L269.8,100.9 L270.3,101.3 L270.8,101.9 L271.3,102.4 L271.8,103.2 L272.3,103.9 L272.8,104.6 L273.3,104.9 L273.8,105.6 L274.3,106.0 L274.8,106.5 L275.3,107.0 L275.8,107.8 L276.3,108.6 L276.8,109.6 L277.3,110.6 L277.8,111.2 L278.3,111.9 L278.8,112.5 L279.3,113.0 L279.8,113.6 L280.3,114.4 L280.8,115.3 L281.3,116.1 L281.8,116.9 L282.3,117.9 L282.8,119.1 L283.3,120.2 L283.8,121.3 L284.3,122.6 L284.8,123.8 L285.3,124.4 L285.8,125.0 L286.3,125.9 L286.8,126.7 L287.3,127.8 L287.8,128.8 L288.3,130.2 L288.8,131.4 L289.3,132.4 L289.8,133.3 L290.3,134.7 L290.8,135.5 L291.3,136.5 L291.8,137.6 L292.3,138.6 L292.8,139.2 L293.3,140.4 L293.8,141.0 L294.3,141.6 L294.8,142.3 L295.3,143.3 L295.8,144.0 L296.3,144.9 L296.8,146.0 L297.3,146.8 L297.8,147.6 L298.3,148.4 L298.8,149.4 L299.3,149.8 L299.8,150.7 L300.3,151.3 L300.8,152.2 L301.3,152.7 L301.8,153.5 L302.3,153.8 L302.8,154.7 L303.3,155.0 L303.8,155.8 L304.3,156.4 L304.8,157.2 L305.3,157.8 L305.8,158.6 L306.3,158.9 L306.8,159.5 L307.3,159.6 L307.8,160.0 L308.3,160.5 L308.8,160.9 L309.3,161.0 L309.8,161.6 L310.3,161.7 L310.8,162.0 L311.3,162.6 L311.8,163.2 L312.3,163.4 L312.8,163.9 L313.3,164.2 L313.8,164.5 L314.3,164.5 L314.8,164.9 L315.3,165.0 L315.8,165.3 L316.3,165.4 L316.8,165.7 L317.3,165.5 L317.8,165.7 L318.3,165.9 L318.8,166.2 L319.3,166.5 L319.8,167.0 L320.3,167.4 L320.8,167.5 L321.3,167.6 L321.8,167.7 L322.3,168.0 L322.8,168.0 L323.3,168.4 L323.8,168.6 L324.3,168.9 L324.8,169.2 L325.3,169.6 L325.8,169.5 L326.3,169.7 L326.8,170.0 L327.3,170.0 L327.8,169.9 L328.3,170.1 L328.8,170.5 L329.3,170.4 L329.8,170.6 L330.3,171.1 L330.8,171.4 L331.3,171.7 L331.8,171.9 L332.3,172.0 L332.8,171.9 L333.3,172.3 L333.8,172.4 L334.3,172.9 L334.8,173.4 L335.3,173.8 L335.8,173.8 L336.3,174.0 L336.8,173.9 L337.3,174.1 L337.8,174.1 L338.3,174.4 L338.8,174.8 L339.3,175.4 L339.8,175.5 L340.3,175.6 L340.8,176.0 L341.3,176.1 L341.8,176.0 L342.3,176.0 L342.8,176.4 L343.3,176.6 L343.8,176.7 L344.3,177.0 L344.8,176.9 L345.3,177.0 L345.8,176.8 L346.3,176.7 L346.8,176.8 L347.3,177.1 L347.8,176.9 L348.3,177.0 L348.8,177.1 L349.3,177.3 L349.8,177.3 L350.3,177.2 L350.8,177.1 L351.3,177.1 L351.8,177.0 L352.3,176.9 L352.8,177.0 L353.3,177.0 L353.8,176.9 L354.3,176.8 L354.8,176.8 L355.3,176.9 L355.8,177.2 L356.3,177.1 L356.8,177.2 L357.3,176.9 L357.8,177.0 L358.3,176.7 L358.8,176.9 L359.3,176.9 L359.8,176.9 L360.3,176.8 L360.8,176.7 L361.3,176.5 L361.8,176.3 L362.3,176.2 L362.8,176.2 L363.3,176.4 L363.8,176.7 L364.3,176.7 L364.8,176.8 L365.3,176.9 L365.8,176.8 L366.3,176.5 L366.8,176.5 L367.3,176.7 L367.8,176.5 L368.3,176.7 L368.8,176.6 L369.3,176.6 L369.8,176.3 L370.3,176.3 L370.8,176.0 L371.3,176.1 L371.8,176.3 L372.3,176.5 L372.8,176.7 L373.3,176.8 L373.8,176.8 L374.3,176.5 L374.8,176.5 L375.3,176.1 L375.8,176.3 L376.3,176.3 L376.8,176.3 L377.3,176.3 L377.8,176.4 L378.3,176.1 L378.8,176.1 L379.3,176.3 L379.8,176.5 L380.3,176.6 L380.8,176.6 L381.3,176.5 L381.8,176.4 L382.3,176.1 L382.8,176.0 L383.3,176.1 L383.8,176.2 L384.3,176.2 L384.8,176.5 L385.3,176.7 L385.8,176.8 L386.3,177.1 L386.8,177.2 L387.3,177.2 L387.8,177.0 L388.3,177.0 L388.8,177.0 L389.3,177.0 L389.8,177.1 L390.3,177.1 L390.8,177.0 L391.3,177.0 L391.8,177.1 L392.3,176.9 L392.8,176.7 L393.3,176.6 L393.8,176.4 L394.3,176.1 L394.8,176.1 L395.3,176.1 L395.8,176.2 L396.3,176.2 L396.8,176.5 L397.3,176.5 L397.8,176.4 L398.3,176.6 L398.8,176.7 L399.3,176.7 L399.8,176.8 L400.3,176.8 L400.8,176.4 L401.3,176.6 L401.8,176.3 L402.3,176.4 L402.8,176.5 L403.3,176.7 L403.8,176.5 L404.3,176.8 L404.8,176.7 L405.3,176.8 L405.8,176.9 L406.3,177.0 L406.8,177.0 L407.3,177.0 L407.8,177.1 L408.3,176.9 L408.8,177.0 L409.3,176.9 L409.8,177.0 L410.3,177.0 L410.8,176.9 L411.3,176.7 L411.8,176.7 L412.3,176.6 L412.8,176.3 L413.3,176.6 L413.8,176.5 L414.3,176.5 L414.8,176.6 L415.3,176.6 L415.8,176.6 L416.3,176.7 L416.8,176.5 L417.3,176.6 L417.8,176.9 L418.3,176.7 L418.8,177.0 L419.3,176.9 L419.8,176.8 L420.3,176.7 L420.8,176.6 L421.3,176.4 L421.8,176.5 L422.3,176.4 L422.8,176.4 L423.3,176.4 L423.8,176.5 L424.3,176.5 L424.8,176.3 L425.3,176.3 L425.8,176.5 L426.3,176.3 L426.8,176.3 L427.3,176.6 L427.8,176.5 L428.3,176.5 L428.8,176.5 L429.3,176.5 L429.8,176.5 L430.3,176.8 L430.8,176.6 L431.3,176.6 L431.8,176.6 L432.3,176.4 L432.8,176.3 L433.3,176.5 L433.8,176.5 L434.3,176.7 L434.8,177.1 L435.3,177.1 L435.8,177.2 L436.3,177.5 L436.8,177.4 L437.3,177.6 L437.8,177.6 L438.3,177.6 L438.8,177.5 L439.3,177.6 L439.8,177.5 L440.3,177.7 L440.8,178.0 L441.3,178.0 L441.8,178.3 L442.3,178.6 L442.8,178.5 L443.3,178.3 L443.8,178.5 L444.3,178.4 L444.8,178.3 L445.3,178.3 L445.8,178.6 L446.3,178.6 L446.8,178.7 L447.3,178.9 L447.8,179.1 L448.3,179.3 L448.8,179.4 L449.3,179.8 L449.8,179.7 L450.3,179.8 L450.8,179.9 L451.3,179.7 L451.8,179.9 L452.3,180.1 L452.8,180.3 L453.3,180.3 L453.8,180.5 L454.3,180.6 L454.8,180.7 L455.3,180.8 L455.8,181.0 L456.3,180.9 L456.8,180.9 L457.3,181.2 L457.8,181.4 L458.3,181.8 L458.8,182.2 L459.3,182.5 L459.8,182.6 L460.3,182.8 L460.8,182.9 L461.3,183.1 L461.8,183.1 L462.3,183.1 L462.8,183.1 L463.3,183.2 L463.8,183.0 L464.3,183.0 L464.8,183.4 L465.3,183.5 L465.8,183.5 L466.3,183.8 L466.8,184.1 L467.3,184.2 L467.8,184.3 L468.3,184.4 L468.8,184.8 L469.3,184.9 L469.8,185.1 L470.3,185.4 L470.8,185.6 L471.3,185.5 L471.8,185.9 L472.3,185.9 L472.8,186.3 L473.3,186.5 L473.8,186.7 L474.3,186.9 L474.8,186.9 L475.3,187.2 L475.8,187.4 L476.3,187.6 L476.8,187.7 L477.3,188.0 L477.8,188.0 L478.3,188.2 L478.8,188.5 L479.3,188.7 L479.8,188.7 L480.3,188.8 L480.8,188.8 L481.3,188.9 L481.8,189.3 L482.3,189.6 L482.8,190.2 L483.3,190.4 L483.8,190.8 L484.3,190.7 L484.8,190.6 L485.3,190.8 L485.8,191.0 L486.3,190.8 L486.8,191.0 L487.3,191.3 L487.8,191.5 L488.3,191.7 L488.8,191.9 L489.3,192.2 L489.8,192.3 L490.3,192.3 L490.8,192.2 L491.3,192.5 L491.8,192.4 L492.3,192.6 L492.8,192.6 L493.3,192.7 L493.8,192.9 L494.3,193.4 L494.8,193.5 L495.3,194.0 L495.8,194.4 L496.3,194.5 L496.8,194.5 L497.3,194.5 L497.8,194.3 L498.3,194.4 L498.8,194.5 L499.3,194.8 L499.8,195.0 L500.3,195.2 L500.8,195.2 L501.3,195.5 L501.8,195.5 L502.3,195.6 L502.8,195.7 L503.3,196.0 L503.8,195.8 L504.3,196.0 L504.8,196.1 L505.3,196.5 L505.8,196.8 L506.3,197.0 L506.8,197.0 L507.3,197.4 L507.8,197.4 L508.3,197.3 L508.8,197.7 L509.3,197.7 L509.8,197.7 L510.3,197.7 L510.8,197.8 L511.3,198.0 L511.8,198.1 L512.3,198.3 L512.8,198.6 L513.3,198.6 L513.8,198.5 L514.3,198.7 L514.8,198.7 L515.3,198.7 L515.8,198.8 L516.3,199.0 L516.8,199.0 L517.3,199.1 L517.8,199.3 L518.3,199.4 L518.8,199.4 L519.3,199.3 L519.8,199.3 L520.3,199.2 L520.8,199.1 L521.3,199.3 L521.8,199.4 L522.3,199.6 L522.8,199.8 L523.3,199.8 L523.8,199.9 L524.3,200.2 L524.8,200.1 L525.3,200.3 L525.8,200.7 L526.3,200.7 L526.8,200.7 L527.3,200.8 L527.8,200.9 L528.3,200.6 L528.8,200.5 L529.3,200.2 L529.8,200.2 L530.3,200.3 L530.8,200.4 L531.3,200.5 L531.8,200.8 L532.3,201.0 L532.8,201.0 L533.3,201.0 L533.8,201.3 L534.3,201.4 L534.8,201.6 L535.3,201.6 L535.8,202.0 L536.3,202.0 L536.8,201.8 L537.3,201.8 L537.8,201.6 L538.3,201.5 L538.8,201.4 L539.3,201.7 L539.8,201.7 L540.3,201.8 L540.8,201.8 L541.3,201.8 L541.8,201.5 L542.3,201.7 L542.8,201.7 L543.3,201.9 L543.8,202.1 L544.3,202.4 L544.8,202.3 L545.3,202.3 L545.8,202.3" stroke="#ff8c1a" stroke-width="1.5" fill="none" stroke-linejoin="round"/>
<path d="M253.9,68.6V223" stroke="#000" stroke-width="1.3"/>
<path d="M253.2,222.3H544.6" stroke="#000" stroke-width="1.3"/>
<path d="M251,222.3H253.9" stroke="#000" stroke-width="1.2"/><text x="250.7" y="225.7" text-anchor="end" class="tkb">0.6</text><path d="M251,188.1H253.9" stroke="#000" stroke-width="1.2"/><text x="250.7" y="191.5" text-anchor="end" class="tkb">0.7</text><path d="M251,153.8H253.9" stroke="#000" stroke-width="1.2"/><text x="250.7" y="157.2" text-anchor="end" class="tkb">0.8</text><path d="M251,119.5H253.9" stroke="#000" stroke-width="1.2"/><text x="250.7" y="123.0" text-anchor="end" class="tkb">0.9</text><path d="M251,85.3H253.9" stroke="#000" stroke-width="1.2"/><text x="250.7" y="88.7" text-anchor="end" class="tkb">1.0</text><path d="M253.8,222.3V225" stroke="#000" stroke-width="1.2"/><text x="253.8" y="233.4" text-anchor="middle" class="tkx">0</text><path d="M332.3,222.3V225" stroke="#000" stroke-width="1.2"/><text x="332.3" y="233.4" text-anchor="middle" class="tkx">5</text><path d="M410.8,222.3V225" stroke="#000" stroke-width="1.2"/><text x="410.8" y="233.4" text-anchor="middle" class="tkx">10</text><path d="M489.3,222.3V225" stroke="#000" stroke-width="1.2"/><text x="489.3" y="233.4" text-anchor="middle" class="tkx">15</text>
<text transform="translate(233.6,201.3) rotate(-90)" class="axb">Normalized Cell Index (nCI)</text>
<text x="361.8" y="243.4" class="axb">Time (hours)</text>
<path d="M268,242.9H276" stroke="#ff8c1a" stroke-width="1.5"/><text x="279.4" y="245.9" class="lg">IL-1B</text><path d="M268,253.8H276" stroke="#2020f0" stroke-width="1.5"/><text x="279.4" y="256.8" class="lg">IL-1B + 300 ng/mL IL-1RA</text><path d="M268,264.6H276" stroke="#1f8a1f" stroke-width="1.5"/><text x="279.4" y="267.6" class="lg">IL-1B + 30 ng/mL IL-1RA</text><path d="M268,275.4H276" stroke="#8a2a9a" stroke-width="1.5"/><text x="279.4" y="278.4" class="lg">IL-1B + 3 ng/mL IL-1RA</text><path d="M425,244.6H432.6" stroke="#ff2020" stroke-width="1.5"/><text x="435.6" y="247.6" class="lg">IL-1B + 0,3 ng/mL IL-1RA</text><path d="M425,254.9H432.6" stroke="#a0703c" stroke-width="1.5"/><text x="435.6" y="257.9" class="lg">IL-1B + 0,03 ng/mL IL-1RA</text><path d="M425,265.2H432.6" stroke="#33e033" stroke-width="1.5"/><text x="435.6" y="268.2" class="lg">IL-1B + 0,003 ng/mL IL-1RA</text><path d="M425,275.5H432.6" stroke="#222" stroke-width="1.5"/><text x="435.6" y="278.5" class="lg">RPMI</text>
</svg>
</body></html>
